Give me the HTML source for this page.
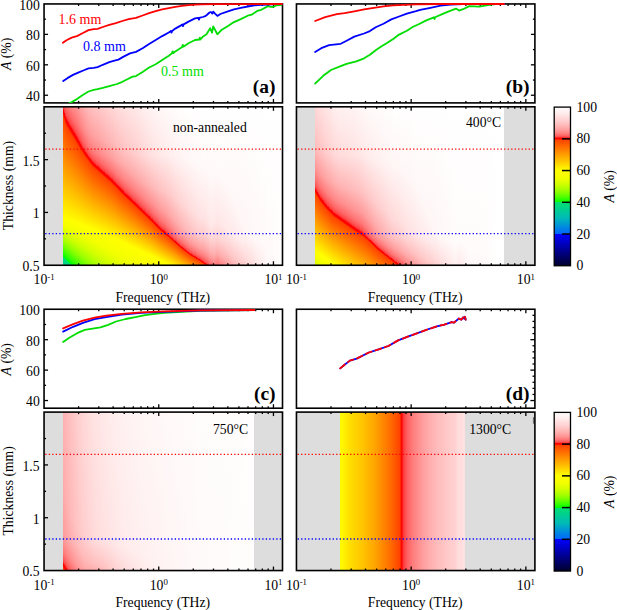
<!DOCTYPE html>
<html><head><meta charset="utf-8"><style>
html,body{margin:0;padding:0;background:#fff}
body{width:617px;height:610px;position:relative;overflow:hidden;font-family:"Liberation Serif",serif}
.h{position:absolute;background:#dddddd;overflow:hidden}
.h i{position:absolute;top:0;width:1px;height:100%}
svg{position:absolute;left:0;top:0}
text{font-family:"Liberation Serif",serif}
</style></head><body>
<div class="h" style="left:44px;top:106px;width:239px;height:160px">
<i style="left:19px;background:linear-gradient(#ff4646 0.5px,#f33 2.5px,#f22 3.5px,#f00 4.5px,#ff0200 7.5px,#f40 11.5px,#ff0 112.5px,#f1ff00 120.5px,#ceff00 128.5px,#95ff00 136.5px,#48ff00 144.5px,#0f0 150.5px,#00df72 151.5px,#00cf90 159.5px)"></i>
<i style="left:20px;background:linear-gradient(#ff5b5b 0.5px,#ff4343 4.5px,#ff2d2d 6.5px,#f00 7.5px,#f00 10.5px,#ff1c00 12.5px,#ff3e00 14.5px,#ff4700 16.5px,#ff0 112.5px,#f2ff00 120.5px,#d1ff00 128.5px,#9cff00 136.5px,#52ff00 144.5px,#0f0 151.5px,#00df72 152.5px,#00d18c 159.5px)"></i>
<i style="left:21px;background:linear-gradient(#ff6969 0.5px,#ff4e4e 6.5px,#ff3434 9.5px,#ff2323 10.5px,#f00 11.5px,#ff0300 14.5px,#ff3700 17.5px,#f40 18.5px,#ff0 113.5px,#f1ff00 121.5px,#cfff00 129.5px,#9aff00 137.5px,#50ff00 145.5px,#0f0 152.5px,#00df72 153.5px,#00d388 159.5px)"></i>
<i style="left:22px;background:linear-gradient(#ff7171 0.5px,#ff5151 8.5px,#ff3a3a 11.5px,#ff2c2c 12.5px,#f00 13.5px,#f00 16.5px,#ff1f00 18.5px,#ff4200 20.5px,#ff0 113.5px,#f2ff00 121.5px,#d3ff00 129.5px,#a0ff00 137.5px,#5aff00 145.5px,#0f0 153.5px,#00df72 154.5px,#00d584 159.5px)"></i>
<i style="left:23px;background:linear-gradient(#f77 0.5px,#ff5656 9.5px,#ff3939 13.5px,#ff2c2c 14.5px,#f00 15.5px,#f00 18.5px,#f40 22.5px,#ff0 113.5px,#f1ff00 122.5px,#cf0 131.5px,#8eff00 140.5px,#39ff00 149.5px,#0f0 154.5px,#00df72 155.5px,#00d780 159.5px)"></i>
<i style="left:24px;background:linear-gradient(#ff7b7b 0.5px,#ff5959 10.5px,#ff3e3e 14.5px,#f33 15.5px,#ff1e1e 16.5px,#f00 17.5px,#ff0400 20.5px,#ff3a00 23.5px,#ff4500 24.5px,#ff0 114.5px,#f0ff00 123.5px,#caff00 132.5px,#8dff00 141.5px,#39ff00 150.5px,#0f0 155.5px,#00df72 156.5px,#00d97c 159.5px)"></i>
<i style="left:25px;background:linear-gradient(#ff8080 0.5px,#ff5e5e 11.5px,#ff3e3e 16.5px,#f33 17.5px,#ff1e1e 18.5px,#f00 19.5px,#f00 21.5px,#ff0800 22.5px,#ff4000 25.5px,#ff4e00 30.5px,#ff0 114.5px,#f1ff00 123.5px,#cdff00 132.5px,#93ff00 141.5px,#42ff00 150.5px,#0f0 156.5px,#00df71 157.5px,#00db78 159.5px)"></i>
<i style="left:26px;background:linear-gradient(#ff8585 0.5px,#ff6262 12.5px,#ff4646 17.5px,#ff3131 19.5px,#f00 21.5px,#f00 23.5px,#f40 27.5px,#ff0 114.5px,#f3ff00 123.5px,#d1ff00 132.5px,#9f0 141.5px,#4bff00 150.5px,#0f0 157.5px,#00df71 158.5px,#00dd75 159.5px)"></i>
<i style="left:27px;background:linear-gradient(#f88 0.5px,#ff6767 12.5px,#ff4949 18.5px,#ff3535 20.5px,#ff2323 21.5px,#f00 22.5px,#ff0300 25.5px,#ff3c00 28.5px,#ff4500 29.5px,#ff0 115.5px,#f2ff00 124.5px,#cfff00 133.5px,#97ff00 142.5px,#4aff00 151.5px,#0f0 158.5px,#00df71 159.5px)"></i>
<i style="left:28px;background:linear-gradient(#ff8b8b 0.5px,#ff6a6a 13.5px,#ff4d4d 19.5px,#ff3030 22.5px,#f00 24.5px,#f00 26.5px,#ff0b00 27.5px,#f40 30.5px,#ff0 115.5px,#f3ff00 124.5px,#d2ff00 133.5px,#9dff00 142.5px,#53ff00 151.5px,#0f0 159.5px)"></i>
<i style="left:29px;background:linear-gradient(#ff8f8f 0.5px,#ff6d6d 14.5px,#ff4d4d 21.5px,#ff3030 24.5px,#f00 26.5px,#f00 28.5px,#ff3900 31.5px,#ff4500 32.5px,#ff0 115.5px,#f4ff00 124.5px,#d5ff00 133.5px,#a2ff00 142.5px,#5bff00 151.5px,#0bff00 159.5px)"></i>
<i style="left:30px;background:linear-gradient(#ff9191 0.5px,#ff6e6e 15.5px,#ff5050 22.5px,#ff3838 25.5px,#ff2828 26.5px,#f00 27.5px,#f00 29.5px,#ff0600 30.5px,#ff4200 33.5px,#ff0 116.5px,#f3ff00 125.5px,#d4ff00 134.5px,#a1ff00 143.5px,#5aff00 152.5px,#16ff00 159.5px)"></i>
<i style="left:31px;background:linear-gradient(#ff9494 0.5px,#ff7171 16.5px,#ff5454 23.5px,#ff3f3f 26.5px,#f33 27.5px,#ff1f1f 28.5px,#f00 29.5px,#f00 31.5px,#ff0c00 32.5px,#f40 35.5px,#ff0 116.5px,#f2ff00 126.5px,#cdff00 136.5px,#91ff00 146.5px,#3dff00 156.5px,#20ff00 159.5px)"></i>
<i style="left:32px;background:linear-gradient(#ff9797 0.5px,#ff7373 17.5px,#ff5252 25.5px,#ff3c3c 28.5px,#ff2f2f 29.5px,#ff0b0b 30.5px,#f00 31.5px,#f00 33.5px,#ff3a00 36.5px,#ff4500 37.5px,#ff0 117.5px,#f1ff00 127.5px,#cf0 137.5px,#90ff00 147.5px,#3dff00 157.5px,#29ff00 159.5px)"></i>
<i style="left:33px;background:linear-gradient(#ff9a9a 0.5px,#ff7575 18.5px,#ff5757 26.5px,#ff3939 30.5px,#ff2a2a 31.5px,#f00 32.5px,#ff0200 35.5px,#ff4000 38.5px,#ff5e00 49.5px,#ff0 117.5px,#f2ff00 127.5px,#cfff00 137.5px,#95ff00 147.5px,#45ff00 157.5px,#3f0 159.5px)"></i>
<i style="left:34px;background:linear-gradient(#ff9e9e 0.5px,#ff7979 19.5px,#ff5858 28.5px,#ff3b3b 32.5px,#ff2c2c 33.5px,#f00 34.5px,#f00 36.5px,#ff0700 37.5px,#f40 40.5px,#ff0 117.5px,#f3ff00 127.5px,#d2ff00 137.5px,#9aff00 147.5px,#4dff00 157.5px,#3bff00 159.5px)"></i>
<i style="left:35px;background:linear-gradient(#ffa1a1 0.5px,#ff7e7e 19.5px,#ff5b5b 29.5px,#ff4040 33.5px,#ff3535 34.5px,#ff2121 35.5px,#f00 36.5px,#f00 38.5px,#ff0c00 39.5px,#ff3700 41.5px,#ff4500 42.5px,#ff0 118.5px,#f2ff00 128.5px,#d0ff00 138.5px,#9f0 148.5px,#4cff00 158.5px,#4f0 159.5px)"></i>
<i style="left:36px;background:linear-gradient(#ffa5a5 0.5px,#ff8181 20.5px,#ff6060 30.5px,#ff4949 34.5px,#ff3434 36.5px,#ff1e1e 37.5px,#f00 38.5px,#f00 40.5px,#ff4000 43.5px,#ff5200 49.5px,#ff0 118.5px,#f3ff00 128.5px,#d3ff00 138.5px,#9eff00 148.5px,#54ff00 158.5px,#4cff00 159.5px)"></i>
<i style="left:37px;background:linear-gradient(#ffa8a8 0.5px,#ff8484 21.5px,#ff6060 32.5px,#ff4848 36.5px,#ff3232 38.5px,#ff1616 39.5px,#f00 40.5px,#f00 41.5px,#ff0700 42.5px,#f30 44.5px,#f40 45.5px,#ff0 118.5px,#f4ff00 128.5px,#d6ff00 138.5px,#a3ff00 148.5px,#5bff00 158.5px,#53ff00 159.5px)"></i>
<i style="left:38px;background:linear-gradient(#ffacac 0.5px,#f88 22.5px,#f66 33.5px,#ff4b4b 38.5px,#ff3737 40.5px,#f22 41.5px,#f00 42.5px,#f00 43.5px,#ff1000 44.5px,#ff3d00 46.5px,#ff4600 47.5px,#ff0 119.5px,#f1ff00 130.5px,#cf0 141.5px,#8eff00 152.5px,#5aff00 159.5px)"></i>
<i style="left:39px;background:linear-gradient(#ffafaf 0.5px,#ff8a8a 23.5px,#f66 35.5px,#ff4a4a 40.5px,#ff4040 41.5px,#ff2f2f 42.5px,#f00 43.5px,#ff0200 45.5px,#f40 48.5px,#ff0 119.5px,#f2ff00 130.5px,#ceff00 141.5px,#93ff00 152.5px,#61ff00 159.5px)"></i>
<i style="left:40px;background:linear-gradient(#ffb1b1 0.5px,#ff8d8d 24.5px,#ff6a6a 36.5px,#ff5050 41.5px,#ff3838 43.5px,#f00 45.5px,#f00 46.5px,#ff0b00 47.5px,#ff3a00 49.5px,#ff4500 50.5px,#ff0 120.5px,#f1ff00 131.5px,#cdff00 142.5px,#92ff00 153.5px,#68ff00 159.5px)"></i>
<i style="left:41px;background:linear-gradient(#ffb4b4 0.5px,#ff9292 24.5px,#ff6f6f 37.5px,#ff5757 42.5px,#ff4343 44.5px,#ff3434 45.5px,#f00 46.5px,#ff0100 48.5px,#f40 51.5px,#ff0 120.5px,#f2ff00 131.5px,#d0ff00 142.5px,#97ff00 153.5px,#6eff00 159.5px)"></i>
<i style="left:42px;background:linear-gradient(#ffb7b7 0.5px,#ff9494 25.5px,#ff7272 38.5px,#ff5f5f 42.5px,#ff4646 45.5px,#ff3838 46.5px,#f00 48.5px,#f00 49.5px,#ff0f00 50.5px,#ff3f00 52.5px,#ff4c00 55.5px,#ff0 120.5px,#f4ff00 131.5px,#d2ff00 142.5px,#9cff00 153.5px,#74ff00 159.5px)"></i>
<i style="left:43px;background:linear-gradient(#ffb9b9 0.5px,#ff9595 26.5px,#ff7171 40.5px,#ff5252 45.5px,#ff3c3c 47.5px,#ff2626 48.5px,#f00 49.5px,#ff0500 51.5px,#ff3600 53.5px,#ff4500 54.5px,#ff0 121.5px,#f3ff00 132.5px,#d1ff00 143.5px,#9aff00 154.5px,#7aff00 159.5px)"></i>
<i style="left:44px;background:linear-gradient(#ffbcbc 0.5px,#ff9898 27.5px,#ff7575 41.5px,#ff5858 46.5px,#ff4646 48.5px,#ff3737 49.5px,#f00 51.5px,#f00 52.5px,#f40 55.5px,#ff0 121.5px,#f4ff00 132.5px,#d4ff00 143.5px,#9fff00 154.5px,#80ff00 159.5px)"></i>
<i style="left:45px;background:linear-gradient(#ffbebe 0.5px,#ff9b9b 27.5px,#f77 42.5px,#ff5353 48.5px,#ff3d3d 50.5px,#ff2929 51.5px,#f00 52.5px,#f00 53.5px,#ff0a00 54.5px,#ff3c00 56.5px,#ff4600 57.5px,#ff0 121.5px,#f5ff00 132.5px,#d6ff00 143.5px,#a3ff00 154.5px,#85ff00 159.5px)"></i>
<i style="left:46px;background:linear-gradient(#ffbfbf 0.5px,#ff9c9c 28.5px,#ff7878 43.5px,#ff5656 49.5px,#ff4141 51.5px,#ff3131 52.5px,#f00 53.5px,#ff0100 55.5px,#ff3400 57.5px,#ff4500 58.5px,#ff0 122.5px,#f2ff00 134.5px,#cdff00 146.5px,#90ff00 158.5px,#8aff00 159.5px)"></i>
<i style="left:47px;background:linear-gradient(#ffc0c0 0.5px,#ff9e9e 28.5px,#ff7d7d 43.5px,#ff5f5f 49.5px,#ff4545 52.5px,#ff3737 53.5px,#ff1515 54.5px,#f00 55.5px,#f00 56.5px,#ff1200 57.5px,#f40 59.5px,#ff0 122.5px,#f3ff00 134.5px,#d0ff00 146.5px,#95ff00 158.5px,#8fff00 159.5px)"></i>
<i style="left:48px;background:linear-gradient(#ffc2c2 0.5px,#ff9f9f 29.5px,#ff7e7e 44.5px,#ff6161 50.5px,#ff4848 53.5px,#ff3b3b 54.5px,#ff2424 55.5px,#f00 56.5px,#f00 57.5px,#ff0b00 58.5px,#ff3f00 60.5px,#ff4c00 63.5px,#ff0 123.5px,#f2ff00 135.5px,#ceff00 147.5px,#94ff00 159.5px)"></i>
<i style="left:49px;background:linear-gradient(#ffc3c3 0.5px,#ffa1a1 29.5px,#ff7e7e 45.5px,#ff5959 52.5px,#ff4646 54.5px,#ff3939 55.5px,#f00 57.5px,#f00 58.5px,#ff0e00 59.5px,#ff4200 61.5px,#ff0 123.5px,#f3ff00 135.5px,#d1ff00 147.5px,#98ff00 159.5px)"></i>
<i style="left:50px;background:linear-gradient(#ffc4c4 0.5px,#ffa1a1 30.5px,#ff7f7f 46.5px,#ff5b5b 53.5px,#ff3c3c 56.5px,#ff2727 57.5px,#f00 58.5px,#f00 59.5px,#ff1000 60.5px,#f40 62.5px,#ff0 124.5px,#f2ff00 136.5px,#d0ff00 148.5px,#9dff00 159.5px)"></i>
<i style="left:51px;background:linear-gradient(#ffc5c5 0.5px,#ffa3a3 30.5px,#ff8181 46.5px,#ff5f5f 53.5px,#ff4545 56.5px,#ff3737 57.5px,#ff1717 58.5px,#f00 59.5px,#f00 60.5px,#ff1300 61.5px,#f40 63.5px,#ff0 124.5px,#f3ff00 136.5px,#d2ff00 148.5px,#a1ff00 159.5px)"></i>
<i style="left:52px;background:linear-gradient(#ffc6c6 0.5px,#ffa3a3 31.5px,#ff8282 47.5px,#ff6060 54.5px,#ff4848 57.5px,#ff3a3a 58.5px,#ff2323 59.5px,#f00 60.5px,#f00 61.5px,#ff3100 63.5px,#ff4500 64.5px,#ff0 124.5px,#f4ff00 136.5px,#d5ff00 148.5px,#a5ff00 159.5px)"></i>
<i style="left:53px;background:linear-gradient(#ffc6c6 0.5px,#ffa4a4 31.5px,#ff8484 47.5px,#ff6565 54.5px,#f44 58.5px,#ff3535 59.5px,#f00 60.5px,#f00 62.5px,#ff3400 64.5px,#ff4500 65.5px,#ff0 125.5px,#f4ff00 137.5px,#d4ff00 149.5px,#a9ff00 159.5px)"></i>
<i style="left:54px;background:linear-gradient(#ffc7c7 0.5px,#ffa4a4 32.5px,#ff8383 48.5px,#ff6363 55.5px,#ff4c4c 58.5px,#ff2f2f 60.5px,#f00 61.5px,#f00 63.5px,#ff3700 65.5px,#ff4600 66.5px,#ff0 125.5px,#f3ff00 138.5px,#cfff00 151.5px,#adff00 159.5px)"></i>
<i style="left:55px;background:linear-gradient(#ffc8c8 0.5px,#ffa6a6 32.5px,#ff8686 48.5px,#ff6262 56.5px,#ff4a4a 59.5px,#ff3e3e 60.5px,#ff2b2b 61.5px,#f00 62.5px,#ff0300 64.5px,#ff3a00 66.5px,#ff4600 67.5px,#ff0 126.5px,#f2ff00 139.5px,#ceff00 152.5px,#b0ff00 159.5px)"></i>
<i style="left:56px;background:linear-gradient(#ffcaca 0.5px,#ffa8a8 33.5px,#ff8787 49.5px,#ff6464 57.5px,#ff4343 61.5px,#f33 62.5px,#f00 63.5px,#f00 64.5px,#ff0600 65.5px,#ff3e00 67.5px,#ff4900 69.5px,#ff0 126.5px,#f3ff00 139.5px,#d0ff00 152.5px,#b4ff00 159.5px)"></i>
<i style="left:57px;background:linear-gradient(#ffcbcb 0.5px,#ffa9a9 33.5px,#ff8a8a 49.5px,#ff6969 57.5px,#ff4c4c 61.5px,#ff2f2f 63.5px,#f00 64.5px,#f00 65.5px,#ff0900 66.5px,#ff4100 68.5px,#ff0 127.5px,#f2ff00 140.5px,#cfff00 153.5px,#b7ff00 159.5px)"></i>
<i style="left:58px;background:linear-gradient(#fcc 0.5px,#ffabab 33.5px,#ff8d8d 49.5px,#ff6868 58.5px,#ff4a4a 62.5px,#ff3e3e 63.5px,#ff2a2a 64.5px,#f00 65.5px,#f00 66.5px,#ff0c00 67.5px,#f40 69.5px,#ff0 127.5px,#f3ff00 140.5px,#d1ff00 153.5px,#baff00 159.5px)"></i>
<i style="left:59px;background:linear-gradient(#ffcdcd 0.5px,#ffacac 34.5px,#ff8f8f 49.5px,#ff6c6c 58.5px,#ff5252 62.5px,#ff3a3a 64.5px,#ff2323 65.5px,#f00 66.5px,#f00 67.5px,#ff0f00 68.5px,#f40 70.5px,#ff0 128.5px,#f3ff00 141.5px,#d0ff00 154.5px,#bdff00 159.5px)"></i>
<i style="left:60px;background:linear-gradient(#ffcece 0.5px,#ffadad 34.5px,#ff9292 49.5px,#ff6b6b 59.5px,#ff4f4f 63.5px,#ff3636 65.5px,#ff1414 66.5px,#f00 67.5px,#f00 68.5px,#ff1200 69.5px,#ff2e00 70.5px,#ff4500 71.5px,#ff0 128.5px,#f4ff00 141.5px,#d3ff00 154.5px,#c0ff00 159.5px)"></i>
<i style="left:61px;background:linear-gradient(#ffd0d0 0.5px,#ffaeae 35.5px,#ff9292 50.5px,#ff6c6c 60.5px,#ff5252 64.5px,#ff3b3b 66.5px,#ff2525 67.5px,#f00 68.5px,#f00 69.5px,#ff1500 70.5px,#ff3200 71.5px,#ff4500 72.5px,#ff0 128.5px,#f4ff00 141.5px,#d5ff00 154.5px,#c3ff00 159.5px)"></i>
<i style="left:62px;background:linear-gradient(#ffd1d1 0.5px,#ffb0b0 35.5px,#ff9595 50.5px,#ff7070 60.5px,#ff5050 65.5px,#ff3737 67.5px,#ff1818 68.5px,#f00 69.5px,#f00 70.5px,#ff3500 72.5px,#ff4500 73.5px,#ff0 129.5px,#f2ff00 143.5px,#cdff00 157.5px,#c6ff00 159.5px)"></i>
<i style="left:63px;background:linear-gradient(#ffd1d1 0.5px,#ffb1b1 35.5px,#ff9797 50.5px,#ff6f6f 61.5px,#ff4e4e 66.5px,#f33 68.5px,#f00 69.5px,#f00 71.5px,#ff3800 73.5px,#ff4600 74.5px,#ff0 129.5px,#f3ff00 143.5px,#cfff00 157.5px,#c8ff00 159.5px)"></i>
<i style="left:64px;background:linear-gradient(#ffd2d2 0.5px,#ffb2b2 36.5px,#f99 50.5px,#ff7373 61.5px,#f55 66.5px,#ff4040 68.5px,#ff2d2d 69.5px,#f00 70.5px,#ff0100 72.5px,#ff3c00 74.5px,#ff4600 75.5px,#ff0 130.5px,#f2ff00 144.5px,#ceff00 158.5px,#cbff00 159.5px)"></i>
<i style="left:65px;background:linear-gradient(#ffd4d4 0.5px,#ffb4b4 36.5px,#ff9a9a 51.5px,#ff7474 62.5px,#ff5757 67.5px,#ff4343 69.5px,#f33 70.5px,#f00 71.5px,#ff0400 73.5px,#ff3f00 75.5px,#ff5100 79.5px,#ff0 130.5px,#f3ff00 144.5px,#d1ff00 158.5px,#cdff00 159.5px)"></i>
<i style="left:66px;background:linear-gradient(#ffd5d5 0.5px,#ffb5b5 36.5px,#ff9b9b 51.5px,#f77 62.5px,#ff5454 68.5px,#ff3e3e 70.5px,#ff2a2a 71.5px,#f00 72.5px,#f00 73.5px,#ff0700 74.5px,#ff4300 76.5px,#ff0 131.5px,#f3ff00 145.5px,#d0ff00 159.5px)"></i>
<i style="left:67px;background:linear-gradient(#ffd6d6 0.5px,#ffb6b6 37.5px,#ff9e9e 51.5px,#ff7878 63.5px,#f55 69.5px,#ff4040 71.5px,#ff2e2e 72.5px,#f00 73.5px,#f00 74.5px,#ff0a00 75.5px,#f40 77.5px,#ff0 131.5px,#f3ff00 145.5px,#d2ff00 159.5px)"></i>
<i style="left:68px;background:linear-gradient(#ffd6d6 0.5px,#ffb7b7 37.5px,#ffa0a0 51.5px,#ff7b7b 63.5px,#ff5a5a 69.5px,#ff3b3b 72.5px,#ff2323 73.5px,#f00 74.5px,#f00 75.5px,#ff0c00 76.5px,#f40 78.5px,#ff0 132.5px,#f3ff00 146.5px,#d4ff00 159.5px)"></i>
<i style="left:69px;background:linear-gradient(#ffd8d8 0.5px,#ffb8b8 38.5px,#ffa1a1 52.5px,#ff7c7c 64.5px,#ff5c5c 70.5px,#ff3f3f 73.5px,#ff2c2c 74.5px,#f00 75.5px,#f00 76.5px,#ff0a00 77.5px,#f40 79.5px,#ff0 132.5px,#f4ff00 146.5px,#d6ff00 159.5px)"></i>
<i style="left:70px;background:linear-gradient(#ffd9d9 0.5px,#ffbaba 38.5px,#ffa2a2 53.5px,#ff7979 66.5px,#ff5757 72.5px,#ff4343 74.5px,#f33 75.5px,#f00 76.5px,#f00 77.5px,#ff0800 78.5px,#f40 80.5px,#ff0 132.5px,#f5ff00 146.5px,#d8ff00 159.5px)"></i>
<i style="left:71px;background:linear-gradient(#ffdada 0.5px,#fbb 39.5px,#ffa4a4 53.5px,#ff7c7c 66.5px,#ff5d5d 72.5px,#ff4040 75.5px,#ff2e2e 76.5px,#f00 77.5px,#f00 78.5px,#ff0600 79.5px,#f40 81.5px,#ff0 133.5px,#f2ff00 148.5px,#daff00 159.5px)"></i>
<i style="left:72px;background:linear-gradient(#ffdbdb 0.5px,#ffbdbd 39.5px,#ffa5a5 54.5px,#ff7e7e 67.5px,#ff6060 73.5px,#ff4545 76.5px,#ff3636 77.5px,#ff0c0c 78.5px,#f00 79.5px,#ff0400 80.5px,#f40 82.5px,#ff0 133.5px,#f3ff00 148.5px,#dcff00 159.5px)"></i>
<i style="left:73px;background:linear-gradient(#ffdcdc 0.5px,#ffbdbd 40.5px,#ffa7a7 54.5px,#ff7e7e 68.5px,#ff5f5f 74.5px,#ff4343 77.5px,#f33 78.5px,#f00 79.5px,#ff0200 81.5px,#ff4300 83.5px,#ff0 134.5px,#f3ff00 149.5px,#df0 159.5px)"></i>
<i style="left:74px;background:linear-gradient(#fdd 0.5px,#ffbfbf 40.5px,#ffa9a9 54.5px,#ff8181 68.5px,#ff5e5e 75.5px,#ff4242 78.5px,#ff3030 79.5px,#f00 80.5px,#f00 82.5px,#ff4200 84.5px,#ff0 134.5px,#f3ff00 149.5px,#dfff00 159.5px)"></i>
<i style="left:75px;background:linear-gradient(#ffdede 0.5px,#ffc0c0 40.5px,#ffa9a9 55.5px,#ff8181 69.5px,#ff5e5e 76.5px,#ff4343 79.5px,#ff3232 80.5px,#f00 81.5px,#f00 83.5px,#ff4000 85.5px,#ffdc00 125.5px,#ff0 135.5px,#f3ff00 150.5px,#e1ff00 159.5px)"></i>
<i style="left:76px;background:linear-gradient(#ffdfdf 0.5px,#ffc1c1 41.5px,#ffabab 55.5px,#ff8282 70.5px,#ff5f5f 77.5px,#ff4343 80.5px,#f33 81.5px,#f00 82.5px,#f00 84.5px,#ff3f00 86.5px,#ff4f00 89.5px,#ff0 135.5px,#f4ff00 150.5px,#e2ff00 159.5px)"></i>
<i style="left:77px;background:linear-gradient(#ffdfdf 0.5px,#ffc2c2 41.5px,#ffabab 56.5px,#ff8282 71.5px,#ff5f5f 78.5px,#f44 81.5px,#ff3535 82.5px,#f00 83.5px,#f00 85.5px,#ff1c00 86.5px,#ff3e00 87.5px,#ff4b00 89.5px,#fffe00 135.5px,#f4ff00 150.5px,#e4ff00 159.5px)"></i>
<i style="left:78px;background:linear-gradient(#ffe0e0 0.5px,#ffc3c3 42.5px,#ffabab 57.5px,#ff8282 72.5px,#ff5f5f 79.5px,#f44 82.5px,#ff3535 83.5px,#f00 84.5px,#f00 86.5px,#ff3f00 88.5px,#ff4f00 91.5px,#ff0 136.5px,#f4ff00 151.5px,#e5ff00 159.5px)"></i>
<i style="left:79px;background:linear-gradient(#ffe1e1 0.5px,#ffc4c4 42.5px,#ffadad 57.5px,#ff8585 72.5px,#ff6565 79.5px,#ff4e4e 82.5px,#f33 84.5px,#f00 85.5px,#f00 87.5px,#ff4100 89.5px,#fffe00 136.5px,#f3ff00 152.5px,#e7ff00 159.5px)"></i>
<i style="left:80px;background:linear-gradient(#ffe2e2 0.5px,#ffc5c5 43.5px,#ffacac 59.5px,#ff8383 74.5px,#ff6161 81.5px,#ff4848 84.5px,#ff3b3b 85.5px,#f22 86.5px,#f00 87.5px,#f00 88.5px,#ff4300 90.5px,#ff0 137.5px,#f3ff00 153.5px,#e8ff00 159.5px)"></i>
<i style="left:81px;background:linear-gradient(#ffe2e2 0.5px,#ffc6c6 43.5px,#ffadad 59.5px,#ff8686 74.5px,#ff6060 82.5px,#ff4646 85.5px,#ff3838 86.5px,#f00 88.5px,#f00 89.5px,#f40 91.5px,#ff0 137.5px,#f3ff00 153.5px,#e9ff00 159.5px)"></i>
<i style="left:82px;background:linear-gradient(#ffe3e3 0.5px,#ffc7c7 43.5px,#ffadad 60.5px,#ff8585 75.5px,#ff5f5f 83.5px,#ff4545 86.5px,#ff3636 87.5px,#ff0d0d 88.5px,#f00 89.5px,#ff0100 90.5px,#f40 92.5px,#ff0 138.5px,#f3ff00 154.5px,#eaff00 159.5px)"></i>
<i style="left:83px;background:linear-gradient(#ffe4e4 0.5px,#ffc7c7 44.5px,#ffa8a8 63.5px,#ff8181 77.5px,#ff5f5f 84.5px,#f44 87.5px,#ff3434 88.5px,#f00 89.5px,#ff0200 91.5px,#ff4500 93.5px,#ff0 138.5px,#f4ff00 154.5px,#ecff00 159.5px)"></i>
<i style="left:84px;background:linear-gradient(#ffe4e4 0.5px,#ffc9c9 44.5px,#faa 63.5px,#ff8181 78.5px,#ff5e5e 85.5px,#ff4242 88.5px,#ff3131 89.5px,#f00 90.5px,#ff0400 92.5px,#ff2800 93.5px,#ff4500 94.5px,#ff0 139.5px,#f3ff00 155.5px,#edff00 159.5px)"></i>
<i style="left:85px;background:linear-gradient(#ffe5e5 0.5px,#ffc9c9 44.5px,#faa 64.5px,#ff8383 78.5px,#ff6363 85.5px,#ff4b4b 88.5px,#ff3f3f 89.5px,#ff2c2c 90.5px,#f00 91.5px,#ff0600 93.5px,#ff2a00 94.5px,#ff4500 95.5px,#ff0 139.5px,#f4ff00 155.5px,#ef0 159.5px)"></i>
<i style="left:86px;background:linear-gradient(#ffe5e5 0.5px,#ffcaca 45.5px,#ffa8a8 66.5px,#ff8080 80.5px,#ff5d5d 87.5px,#ff4141 90.5px,#ff2f2f 91.5px,#f00 92.5px,#f00 93.5px,#ff0700 94.5px,#ff2d00 95.5px,#ff4500 96.5px,#ff0 140.5px,#f3ff00 156.5px,#efff00 159.5px)"></i>
<i style="left:87px;background:linear-gradient(#ffe6e6 0.5px,#ffcbcb 45.5px,#faa 66.5px,#ff8484 80.5px,#ff6464 87.5px,#ff4d4d 90.5px,#ff3030 92.5px,#f00 93.5px,#f00 94.5px,#ff0900 95.5px,#ff2f00 96.5px,#ff4600 97.5px,#ff0 140.5px,#f4ff00 156.5px,#f0ff00 159.5px)"></i>
<i style="left:88px;background:linear-gradient(#ffe7e7 0.5px,#ffcbcb 46.5px,#faa 67.5px,#ff8181 82.5px,#ff5e5e 89.5px,#ff4242 92.5px,#ff3131 93.5px,#f00 94.5px,#f00 95.5px,#ff0b00 96.5px,#ff3100 97.5px,#ff4600 98.5px,#ff0 141.5px,#f2ff00 158.5px,#f1ff00 159.5px)"></i>
<i style="left:89px;background:linear-gradient(#ffe7e7 0.5px,#ffcdcd 46.5px,#ffacac 67.5px,#ff8484 82.5px,#ff6464 89.5px,#ff4d4d 92.5px,#ff3131 94.5px,#f00 95.5px,#f00 96.5px,#ff0d00 97.5px,#f30 98.5px,#ff4600 99.5px,#ff0 141.5px,#f3ff00 158.5px,#f2ff00 159.5px)"></i>
<i style="left:90px;background:linear-gradient(#ffe8e8 0.5px,#ffcdcd 47.5px,#faa 69.5px,#ff8181 84.5px,#ff5e5e 91.5px,#ff4242 94.5px,#ff3232 95.5px,#f00 96.5px,#f00 97.5px,#ff0f00 98.5px,#ff3600 99.5px,#ff4700 100.5px,#fffe00 141.5px,#f4ff00 158.5px,#f2ff00 159.5px)"></i>
<i style="left:91px;background:linear-gradient(#ffe8e8 0.5px,#ffcece 47.5px,#ffabab 69.5px,#ff8383 84.5px,#ff6262 91.5px,#ff4949 94.5px,#ff3b3b 95.5px,#ff2323 96.5px,#f00 97.5px,#f00 98.5px,#f10 99.5px,#ff3800 100.5px,#ff4700 101.5px,#ff0 142.5px,#f3ff00 159.5px)"></i>
<i style="left:92px;background:linear-gradient(#ffe9e9 0.5px,#ffcfcf 47.5px,#ffaeae 69.5px,#f88 84.5px,#ff6464 92.5px,#ff4c4c 95.5px,#ff4040 96.5px,#ff2e2e 97.5px,#f00 98.5px,#f00 99.5px,#ff1200 100.5px,#ff3a00 101.5px,#ff4700 102.5px,#fffe00 142.5px,#f4ff00 159.5px)"></i>
<i style="left:93px;background:linear-gradient(#ffeaea 0.5px,#ffcfcf 48.5px,#ffa9a9 72.5px,#ff8383 86.5px,#ff6161 93.5px,#ff4848 96.5px,#ff3a3a 97.5px,#f00 99.5px,#f00 100.5px,#ff1400 101.5px,#ff3c00 102.5px,#ff4800 103.5px,#ff0 143.5px,#f5ff00 159.5px)"></i>
<i style="left:94px;background:linear-gradient(#ffeaea 0.5px,#ffd1d1 48.5px,#ffacac 72.5px,#ff8383 87.5px,#ff6262 94.5px,#ff4949 97.5px,#ff3c3c 98.5px,#ff2424 99.5px,#f00 100.5px,#f00 101.5px,#ff1600 102.5px,#ff3f00 103.5px,#ff5100 106.5px,#fffe00 143.5px,#f5ff00 159.5px)"></i>
<i style="left:95px;background:linear-gradient(#ffebeb 0.5px,#ffd2d2 48.5px,#ffacac 73.5px,#ff8484 88.5px,#ff6363 95.5px,#ff4a4a 98.5px,#ff3d3d 99.5px,#ff2828 100.5px,#f00 101.5px,#f00 102.5px,#ff1800 103.5px,#ff4100 104.5px,#ff0 144.5px,#f6ff00 159.5px)"></i>
<i style="left:96px;background:linear-gradient(#ffecec 0.5px,#ffd3d3 49.5px,#faa 75.5px,#ff8484 89.5px,#ff6363 96.5px,#ff4c4c 99.5px,#ff3f3f 100.5px,#ff2c2c 101.5px,#f00 102.5px,#f00 103.5px,#ff1a00 104.5px,#f40 105.5px,#ff0 144.5px,#f7ff00 159.5px)"></i>
<i style="left:97px;background:linear-gradient(#ffeded 0.5px,#ffd4d4 49.5px,#ffabab 75.5px,#ff8383 90.5px,#ff6161 97.5px,#ff4747 100.5px,#ff3939 101.5px,#f00 103.5px,#f00 104.5px,#ff1c00 105.5px,#f40 106.5px,#ff0 145.5px,#f7ff00 159.5px)"></i>
<i style="left:98px;background:linear-gradient(#ffeded 0.5px,#ffd5d5 49.5px,#ffacac 76.5px,#ff8383 91.5px,#ff6262 98.5px,#ff4949 101.5px,#ff3b3b 102.5px,#f22 103.5px,#f00 104.5px,#f00 105.5px,#ff1e00 106.5px,#f40 107.5px,#ff0 145.5px,#f8ff00 159.5px)"></i>
<i style="left:99px;background:linear-gradient(#fee 0.5px,#ffd7d7 49.5px,#ffacac 77.5px,#ff8484 92.5px,#ff6363 99.5px,#ff4b4b 102.5px,#ff3e3e 103.5px,#ff2828 104.5px,#f00 105.5px,#f00 106.5px,#ff4500 108.5px,#ff0 146.5px,#f8ff00 159.5px)"></i>
<i style="left:100px;background:linear-gradient(#ffefef 0.5px,#ffd8d8 49.5px,#ffaeae 77.5px,#ff8787 92.5px,#ff6161 100.5px,#ff4747 103.5px,#ff3838 104.5px,#ff1717 105.5px,#f00 106.5px,#f00 107.5px,#ff4500 109.5px,#ff0 146.5px,#f9ff00 159.5px)"></i>
<i style="left:101px;background:linear-gradient(#ffefef 0.5px,#ffd9d9 49.5px,#ffb0b0 77.5px,#f88 93.5px,#ff6262 101.5px,#ff4949 104.5px,#ff3b3b 105.5px,#f22 106.5px,#f00 107.5px,#f00 108.5px,#ff4500 110.5px,#ff0 147.5px,#f9ff00 159.5px)"></i>
<i style="left:102px;background:linear-gradient(#fff0f0 0.5px,#ffdbdb 49.5px,#ffb1b1 78.5px,#ff8989 94.5px,#ff6464 102.5px,#ff4b4b 105.5px,#ff3e3e 106.5px,#ff2929 107.5px,#f00 108.5px,#f00 109.5px,#ff2700 110.5px,#ff4600 111.5px,#ff0 147.5px,#faff00 159.5px)"></i>
<i style="left:103px;background:linear-gradient(#fff1f1 0.5px,#ffdbdb 49.5px,#ffb2b2 78.5px,#ff8b8b 94.5px,#ff6868 102.5px,#ff4747 106.5px,#ff3939 107.5px,#ff1818 108.5px,#f00 109.5px,#f00 110.5px,#ff2900 111.5px,#ff4600 112.5px,#fffd00 147.5px,#faff00 159.5px)"></i>
<i style="left:104px;background:linear-gradient(#fff2f2 0.5px,#fdd 49.5px,#ffb3b3 79.5px,#ff8c8c 95.5px,#ff6969 103.5px,#ff4a4a 107.5px,#ff3c3c 108.5px,#ff2323 109.5px,#f00 110.5px,#f00 111.5px,#ff2b00 112.5px,#ff4600 113.5px,#ff0 148.5px,#fbff00 159.5px)"></i>
<i style="left:105px;background:linear-gradient(#fff2f2 0.5px,#ffdede 49.5px,#ffb4b4 79.5px,#ff8e8e 95.5px,#ff6d6d 103.5px,#ff5151 107.5px,#ff3636 109.5px,#f00 110.5px,#f00 112.5px,#ff2e00 113.5px,#ff4700 114.5px,#fffe00 148.5px,#fbff00 159.5px)"></i>
<i style="left:106px;background:linear-gradient(#fff3f3 0.5px,#ffdfdf 49.5px,#ffb5b5 80.5px,#ff8f8f 96.5px,#ff6969 105.5px,#ff4848 109.5px,#ff3939 110.5px,#ff1a1a 111.5px,#f00 112.5px,#f00 113.5px,#ff2f00 114.5px,#ff4700 115.5px,#ff0 149.5px,#fcff00 159.5px)"></i>
<i style="left:107px;background:linear-gradient(#fff3f3 0.5px,#ffe0e0 49.5px,#ffb7b7 80.5px,#ff9090 97.5px,#ff6a6a 106.5px,#ff4b4b 110.5px,#ff3e3e 111.5px,#ff2626 112.5px,#f00 113.5px,#f00 114.5px,#ff2e00 115.5px,#ff4700 116.5px,#fffe00 149.5px,#fcff00 159.5px)"></i>
<i style="left:108px;background:linear-gradient(#fff4f4 0.5px,#ffe1e1 49.5px,#ffb9b9 80.5px,#ff9292 97.5px,#ff6f6f 106.5px,#ff5252 110.5px,#ff3939 112.5px,#ff1414 113.5px,#f00 114.5px,#f00 115.5px,#ff2d00 116.5px,#ff4700 117.5px,#ff0 150.5px,#fcff00 159.5px)"></i>
<i style="left:109px;background:linear-gradient(#fff4f4 0.5px,#ffe2e2 49.5px,#ffb9b9 81.5px,#ff9393 98.5px,#ff7070 107.5px,#f55 111.5px,#ff3d3d 113.5px,#ff2424 114.5px,#f00 115.5px,#f00 116.5px,#ff2d00 117.5px,#ff4700 118.5px,#fffe00 150.5px,#fdff00 159.5px)"></i>
<i style="left:110px;background:linear-gradient(#fff5f5 0.5px,#ffe3e3 49.5px,#ffbaba 82.5px,#ff9494 99.5px,#ff7272 108.5px,#ff5757 112.5px,#ff4141 114.5px,#ff2d2d 115.5px,#f00 116.5px,#f00 117.5px,#ff2c00 118.5px,#ff4700 119.5px,#ff0 151.5px,#fdff00 159.5px)"></i>
<i style="left:111px;background:linear-gradient(#fff5f5 0.5px,#ffe4e4 49.5px,#fbb 82.5px,#ff9494 100.5px,#ff7070 109.5px,#f55 113.5px,#ff3d3d 115.5px,#ff2323 116.5px,#f00 117.5px,#f00 118.5px,#ff2b00 119.5px,#ff4700 120.5px,#fffe00 151.5px,#fdff00 159.5px)"></i>
<i style="left:112px;background:linear-gradient(#fff6f6 0.5px,#ffe5e5 49.5px,#ffbdbd 82.5px,#ff9898 100.5px,#ff7272 110.5px,#ff5757 114.5px,#ff4141 116.5px,#ff2c2c 117.5px,#f00 118.5px,#f00 119.5px,#ff2b00 120.5px,#ff4700 121.5px,#ff0 152.5px,#fdff00 159.5px)"></i>
<i style="left:113px;background:linear-gradient(#fff6f6 0.5px,#ffe5e5 49.5px,#ffbdbd 83.5px,#ff9797 101.5px,#ff7171 111.5px,#f55 115.5px,#ff3c3c 117.5px,#f00 119.5px,#f00 120.5px,#ff2a00 121.5px,#ff4700 122.5px,#fffd00 152.5px,#feff00 159.5px)"></i>
<i style="left:114px;background:linear-gradient(#fff7f7 0.5px,#ffe6e6 49.5px,#ffbfbf 83.5px,#ff9898 102.5px,#ff7272 112.5px,#ff5757 116.5px,#ff4040 118.5px,#ff2a2a 119.5px,#f00 120.5px,#f00 121.5px,#ff2900 122.5px,#ff4700 123.5px,#ff0 153.5px,#feff00 159.5px)"></i>
<i style="left:115px;background:linear-gradient(#fff7f7 0.5px,#ffe7e7 49.5px,#ffc0c0 84.5px,#f99 103.5px,#ff7474 113.5px,#ff5a5a 117.5px,#f44 119.5px,#ff3232 120.5px,#f00 121.5px,#f00 122.5px,#ff2800 123.5px,#ff4700 124.5px,#fffd00 153.5px,#feff00 159.5px)"></i>
<i style="left:116px;background:linear-gradient(#fff7f7 0.5px,#ffe8e8 49.5px,#ffc1c1 84.5px,#ff9b9b 103.5px,#ff7878 113.5px,#ff5757 118.5px,#ff4040 120.5px,#ff2929 121.5px,#f00 122.5px,#f00 123.5px,#ff2700 124.5px,#ff4700 125.5px,#ff0 154.5px,#feff00 159.5px)"></i>
<i style="left:117px;background:linear-gradient(#fff8f8 0.5px,#ffe9e9 49.5px,#ffc1c1 85.5px,#ff9c9c 104.5px,#ff7878 114.5px,#ff5858 119.5px,#ff4141 121.5px,#ff2c2c 122.5px,#f00 123.5px,#f00 124.5px,#ff3000 125.5px,#ff4800 126.5px,#fffd00 154.5px,#feff00 159.5px)"></i>
<i style="left:118px;background:linear-gradient(#fff8f8 0.5px,#ffe9e9 49.5px,#ffc3c3 85.5px,#ff9c9c 105.5px,#ff7979 115.5px,#ff5959 120.5px,#ff4141 122.5px,#ff2c2c 123.5px,#f00 124.5px,#ff0200 125.5px,#ff3b00 126.5px,#ff4900 127.5px,#ff0 155.5px,#feff00 159.5px)"></i>
<i style="left:119px;background:linear-gradient(#fff8f8 0.5px,#ffeaea 48.5px,#ffc4c4 85.5px,#ff9d9d 105.5px,#ff7b7b 115.5px,#ff5c5c 120.5px,#ff4747 122.5px,#ff3636 123.5px,#f00 124.5px,#f00 125.5px,#ff0c00 126.5px,#f40 127.5px,#fffd00 155.5px,#ff0 159.5px)"></i>
<i style="left:120px;background:linear-gradient(#fff9f9 0.5px,#ffebeb 48.5px,#ffc5c5 85.5px,#ffa0a0 105.5px,#ff7a7a 116.5px,#ff5b5b 121.5px,#ff4646 123.5px,#ff3434 124.5px,#f00 125.5px,#f00 126.5px,#ff1700 127.5px,#ff4500 128.5px,#ff0 156.5px,#ff0 159.5px)"></i>
<i style="left:121px;background:linear-gradient(#fff9f9 0.5px,#ffecec 48.5px,#ffc5c5 86.5px,#ffa0a0 106.5px,#ff7a7a 117.5px,#ff5b5b 122.5px,#ff4545 124.5px,#ff3232 125.5px,#f00 126.5px,#f00 127.5px,#ff4700 129.5px,#fffd00 156.5px,#ff0 159.5px)"></i>
<i style="left:122px;background:linear-gradient(#fff9f9 0.5px,#ffecec 49.5px,#ffc6c6 87.5px,#ffa1a1 107.5px,#ff7d7d 118.5px,#ff5f5f 123.5px,#ff4b4b 125.5px,#ff3c3c 126.5px,#ff1a1a 127.5px,#f00 128.5px,#ff2d00 129.5px,#ff4800 130.5px,#ff0 157.5px,#ff0 159.5px)"></i>
<i style="left:123px;background:linear-gradient(#fffafa 0.5px,#ffecec 49.5px,#ffc8c8 87.5px,#ffa1a1 108.5px,#ff7d7d 119.5px,#ff5e5e 124.5px,#ff4a4a 126.5px,#ff3a3a 127.5px,#f00 128.5px,#f00 129.5px,#ff3900 130.5px,#ff4900 131.5px,#fffd00 157.5px,#ff0 159.5px)"></i>
<i style="left:124px;background:linear-gradient(#fffafa 0.5px,#ffeded 49.5px,#ffc8c8 88.5px,#ffa2a2 109.5px,#ff7c7c 120.5px,#ff5e5e 125.5px,#ff4949 127.5px,#ff3232 128.5px,#f00 129.5px,#ff0800 130.5px,#f40 131.5px,#ff0 158.5px,#ff0 159.5px)"></i>
<i style="left:125px;background:linear-gradient(#fffafa 0.5px,#fee 49.5px,#ffcaca 88.5px,#ffa6a6 109.5px,#ff8484 120.5px,#ff6262 126.5px,#ff4e4e 128.5px,#ff3838 129.5px,#f00 130.5px,#ff1300 131.5px,#ff4500 132.5px,#fffd00 158.5px,#ff0 159.5px)"></i>
<i style="left:126px;background:linear-gradient(#fffbfb 0.5px,#ffefef 49.5px,#ffcaca 89.5px,#ffa6a6 110.5px,#ff8484 121.5px,#ff6363 127.5px,#ff4949 129.5px,#ff3030 130.5px,#f00 131.5px,#ff1c00 132.5px,#ff4600 133.5px,#ff0 159.5px)"></i>
<i style="left:127px;background:linear-gradient(#fffbfb 0.5px,#ffefef 49.5px,#fcc 89.5px,#ffa7a7 111.5px,#ff8585 122.5px,#ff6b6b 127.5px,#ff5656 129.5px,#ff4646 130.5px,#ff2727 131.5px,#f00 132.5px,#ff4700 134.5px,#fffd00 159.5px)"></i>
<i style="left:128px;background:linear-gradient(#fffbfb 0.5px,#ffefef 50.5px,#ffcbcb 91.5px,#ffa8a8 112.5px,#ff8686 123.5px,#ff6a6a 128.5px,#ff5353 130.5px,#ff4141 131.5px,#ff1414 132.5px,#f00 133.5px,#ff2900 134.5px,#ff4800 135.5px,#fff900 159.5px)"></i>
<i style="left:129px;background:linear-gradient(#fffbfb 0.5px,#fff0f0 50.5px,#ffcece 91.5px,#faa 113.5px,#ff8585 125.5px,#ff6d6d 129.5px,#ff5858 131.5px,#ff4848 132.5px,#ff2d2d 133.5px,#f00 134.5px,#ff2f00 135.5px,#ff4900 136.5px,#fff600 159.5px)"></i>
<i style="left:130px;background:linear-gradient(#fffcfc 0.5px,#fff1f1 50.5px,#ffcece 92.5px,#ffabab 114.5px,#ff8686 126.5px,#ff6b6b 130.5px,#f55 132.5px,#f44 133.5px,#f00 135.5px,#ff3600 136.5px,#ff4a00 137.5px,#fff200 159.5px)"></i>
<i style="left:131px;background:linear-gradient(#fffcfc 0.5px,#fff2f2 50.5px,#ffd0d0 92.5px,#ffaeae 114.5px,#ff8b8b 126.5px,#ff7272 130.5px,#ff5252 133.5px,#ff3f3f 134.5px,#f00 135.5px,#f00 136.5px,#ff3d00 137.5px,#ff5300 139.5px,#fe0 159.5px)"></i>
<i style="left:132px;background:linear-gradient(#fffcfc 0.5px,#fff2f2 50.5px,#ffd0d0 93.5px,#ffaeae 115.5px,#ff8b8b 127.5px,#ff6767 132.5px,#ff4e4e 134.5px,#ff3939 135.5px,#f00 136.5px,#f00 137.5px,#f40 138.5px,#ffe900 159.5px)"></i>
<i style="left:133px;background:linear-gradient(#fffcfc 0.5px,#fff2f2 51.5px,#ffd1d1 94.5px,#ffb0b0 116.5px,#ff9292 127.5px,#ff7373 132.5px,#ff5353 135.5px,#ff4040 136.5px,#f00 137.5px,#ff0700 138.5px,#ff4500 139.5px,#ffe500 159.5px)"></i>
<i style="left:134px;background:linear-gradient(#fffdfd 0.5px,#fff3f3 51.5px,#ffd2d2 95.5px,#ffb0b0 117.5px,#ff9191 128.5px,#ff7171 133.5px,#ff4f4f 136.5px,#ff3939 137.5px,#f00 138.5px,#ff0d00 139.5px,#ff4600 140.5px,#ffe000 159.5px)"></i>
<i style="left:135px;background:linear-gradient(#fffdfd 0.5px,#fff3f3 51.5px,#ffd3d3 95.5px,#ffb1b1 118.5px,#ff9595 128.5px,#ff6f6f 134.5px,#ff5a5a 136.5px,#ff4a4a 137.5px,#ff3131 138.5px,#f00 139.5px,#ff1400 140.5px,#ff4700 141.5px,#ffdc00 159.5px)"></i>
<i style="left:136px;background:linear-gradient(#fffdfd 0.5px,#fff4f4 52.5px,#ffd3d3 97.5px,#ffb3b3 119.5px,#ff9b9b 128.5px,#ff7878 134.5px,#ff5c5c 137.5px,#ff4e4e 138.5px,#ff3737 139.5px,#f00 140.5px,#ff4800 142.5px,#ffd700 159.5px)"></i>
<i style="left:137px;background:linear-gradient(#fffdfd 0.5px,#fff4f4 52.5px,#ffd4d4 97.5px,#ffb3b3 120.5px,#f99 129.5px,#ff7676 135.5px,#ff5757 138.5px,#ff4747 139.5px,#ff2828 140.5px,#f00 141.5px,#ff3100 142.5px,#ff4a00 143.5px,#ffd200 159.5px)"></i>
<i style="left:138px;background:linear-gradient(#fffdfd 0.5px,#fff4f4 52.5px,#ffd5d5 98.5px,#ffb3b3 121.5px,#ff9c9c 129.5px,#ff7a7a 135.5px,#ff5f5f 138.5px,#ff5151 139.5px,#ff3d3d 140.5px,#f00 141.5px,#f00 142.5px,#ff4100 143.5px,#ffcd00 159.5px)"></i>
<i style="left:139px;background:linear-gradient(#fffdfd 0.5px,#fff5f5 52.5px,#ffd6d6 98.5px,#ffb6b6 121.5px,#ffa1a1 129.5px,#ff7b7b 136.5px,#ff6060 139.5px,#ff4040 141.5px,#f00 142.5px,#ff0600 143.5px,#ff4500 144.5px,#ffc800 159.5px)"></i>
<i style="left:140px;background:linear-gradient(#fffdfd 0.5px,#fff5f5 52.5px,#ffd7d7 99.5px,#ffb7b7 122.5px,#ffa3a3 129.5px,#ff7f7f 136.5px,#ff5b5b 140.5px,#ff4b4b 141.5px,#ff3232 142.5px,#f00 143.5px,#ff1600 144.5px,#ff4700 145.5px,#ffc300 159.5px)"></i>
<i style="left:141px;background:linear-gradient(#fffefe 0.5px,#fff6f6 53.5px,#ffd7d7 100.5px,#ffb8b8 123.5px,#ffa4a4 130.5px,#ff8080 137.5px,#ff5c5c 141.5px,#ff4d4d 142.5px,#ff3535 143.5px,#f00 144.5px,#ff4900 146.5px,#ffbe00 159.5px)"></i>
<i style="left:142px;background:linear-gradient(#fffefe 0.5px,#fff6f6 53.5px,#ffd9d9 100.5px,#ffbaba 123.5px,#ffa6a6 130.5px,#ff8484 137.5px,#ff6363 141.5px,#f44 143.5px,#ff1c1c 144.5px,#f00 145.5px,#ff3600 146.5px,#ff4b00 147.5px,#ffb900 159.5px)"></i>
<i style="left:143px;background:linear-gradient(#fffefe 0.5px,#fff6f6 54.5px,#ffd9d9 102.5px,#ffb9b9 125.5px,#ff9f9f 133.5px,#ff7676 140.5px,#ff5757 143.5px,#ff4646 144.5px,#f00 146.5px,#f40 147.5px,#ffb300 159.5px)"></i>
<i style="left:144px;background:linear-gradient(#fffefe 0.5px,#fff6f6 54.5px,#ffdada 102.5px,#fbb 125.5px,#ff9d9d 134.5px,#ff7b7b 140.5px,#ff5e5e 143.5px,#ff5050 144.5px,#ff3b3b 145.5px,#f00 146.5px,#ff0800 147.5px,#ff4600 148.5px,#ffad00 159.5px)"></i>
<i style="left:145px;background:linear-gradient(#fffefe 0.5px,#fff7f7 54.5px,#ffdbdb 103.5px,#ffbdbd 126.5px,#f99 136.5px,#ff7373 142.5px,#ff5151 145.5px,#ff3b3b 146.5px,#f00 147.5px,#ff1900 148.5px,#ff4800 149.5px,#ffa700 159.5px)"></i>
<i style="left:146px;background:linear-gradient(#fffefe 0.5px,#fff7f7 55.5px,#ffdbdb 104.5px,#ffbdbd 127.5px,#ff9898 137.5px,#ff7272 143.5px,#ff5d5d 145.5px,#ff4d4d 146.5px,#ff3535 147.5px,#f00 148.5px,#ff3a00 149.5px,#ff4c00 150.5px,#ffa200 159.5px)"></i>
<i style="left:147px;background:linear-gradient(#fffefe 0.5px,#fff7f7 55.5px,#ffdcdc 104.5px,#ffbfbf 127.5px,#ff9595 138.5px,#ff7575 143.5px,#ff5252 146.5px,#ff3e3e 147.5px,#f00 148.5px,#ff0900 149.5px,#ff4700 150.5px,#ff9d00 159.5px)"></i>
<i style="left:148px;background:linear-gradient(#fffefe 0.5px,#fff8f8 55.5px,#fdd 105.5px,#ffc2c2 127.5px,#f99 138.5px,#ff7373 144.5px,#ff5e5e 146.5px,#ff4f4f 147.5px,#ff3737 148.5px,#f00 149.5px,#ff2a00 150.5px,#ff4a00 151.5px,#ff9800 159.5px)"></i>
<i style="left:149px;background:linear-gradient(#fffefe 0.5px,#fff8f8 56.5px,#ffdede 106.5px,#ffc4c4 127.5px,#ff9e9e 138.5px,#ff7a7a 144.5px,#ff5c5c 147.5px,#ff4b4b 148.5px,#ff2f2f 149.5px,#f00 150.5px,#ff4500 151.5px,#ff9200 159.5px)"></i>
<i style="left:150px;background:linear-gradient(#fff 0.5px,#fff8f8 56.5px,#ffdfdf 106.5px,#ffc5c5 127.5px,#ff9f9f 138.5px,#ff7c7c 144.5px,#ff5f5f 147.5px,#ff5050 148.5px,#ff3939 149.5px,#f00 150.5px,#ff1a00 151.5px,#ff4900 152.5px,#ff8d00 159.5px)"></i>
<i style="left:151px;background:linear-gradient(#fff 0.5px,#fff9f9 56.5px,#ffdfdf 107.5px,#ffc7c7 127.5px,#ff9d9d 139.5px,#ff7979 145.5px,#ff5959 148.5px,#ff4747 149.5px,#ff1f1f 150.5px,#f00 151.5px,#ff3c00 152.5px,#ff4d00 153.5px,#ff8700 159.5px)"></i>
<i style="left:152px;background:linear-gradient(#fff 0.5px,#fff9f9 57.5px,#ffe0e0 107.5px,#ffc7c7 128.5px,#ffa1a1 139.5px,#ff7f7f 145.5px,#ff6363 148.5px,#f55 149.5px,#ff4141 150.5px,#f00 151.5px,#ff0a00 152.5px,#ff4700 153.5px,#ff8200 159.5px)"></i>
<i style="left:153px;background:linear-gradient(#fff 0.5px,#fff9f9 58.5px,#ffe1e1 108.5px,#ffc9c9 128.5px,#ffa0a0 140.5px,#ff7d7d 146.5px,#ff6060 149.5px,#ff5151 150.5px,#ff3a3a 151.5px,#f00 152.5px,#ff2c00 153.5px,#ff4b00 154.5px,#ff7c00 159.5px)"></i>
<i style="left:154px;background:linear-gradient(#fff 0.5px,#fff9f9 58.5px,#ffe1e1 109.5px,#ffc9c9 129.5px,#ff9f9f 141.5px,#ff7c7c 147.5px,#ff5d5d 150.5px,#ff4d4d 151.5px,#ff3030 152.5px,#f00 153.5px,#ff4500 154.5px,#f70 159.5px)"></i>
<i style="left:155px;background:linear-gradient(#fff 0.5px,#fff9f9 59.5px,#ffe2e2 109.5px,#ffc9c9 129.5px,#ffa1a1 141.5px,#ff7e7e 147.5px,#ff6060 150.5px,#ff5151 151.5px,#ff3a3a 152.5px,#f00 153.5px,#ff1900 154.5px,#ff4900 155.5px,#ff7100 159.5px)"></i>
<i style="left:156px;background:linear-gradient(#fff 0.5px,#fff9f9 59.5px,#ffe2e2 110.5px,#ffcbcb 129.5px,#ffa4a4 141.5px,#ff7c7c 148.5px,#ff5d5d 151.5px,#ff4d4d 152.5px,#ff3030 153.5px,#f00 154.5px,#ff3500 155.5px,#ff4c00 156.5px,#ff6a00 159.5px)"></i>
<i style="left:157px;background:linear-gradient(#fff 0.5px,#fffafa 59.5px,#ffe2e2 110.5px,#ffcbcb 129.5px,#ffa1a1 142.5px,#ff8080 148.5px,#ff6565 151.5px,#ff4646 153.5px,#ff1d1d 154.5px,#f00 155.5px,#ff4500 156.5px,#ff6400 159.5px)"></i>
<i style="left:158px;background:linear-gradient(#fff 0.5px,#fffafa 59.5px,#ffe3e3 110.5px,#fcc 129.5px,#ffa3a3 142.5px,#ff7d7d 149.5px,#ff6262 152.5px,#ff5454 153.5px,#ff4040 154.5px,#f00 155.5px,#ff1400 156.5px,#ff4900 157.5px,#ff5d00 159.5px)"></i>
<i style="left:159px;background:linear-gradient(#fff 0.5px,#fffafa 59.5px,#ffe3e3 110.5px,#fcc 129.5px,#ffa5a5 142.5px,#ff8181 149.5px,#ff6767 152.5px,#ff4b4b 154.5px,#ff2f2f 155.5px,#f00 156.5px,#ff3000 157.5px,#ff4c00 158.5px,#ff5600 159.5px)"></i>
<i style="left:160px;background:linear-gradient(#fff 0.5px,#fffafa 60.5px,#ffe3e3 111.5px,#ffcece 129.5px,#ffa5a5 143.5px,#ff8181 150.5px,#ff6767 153.5px,#ff4b4b 155.5px,#ff2e2e 156.5px,#f00 157.5px,#ff4500 158.5px,#ff4f00 159.5px)"></i>
<i style="left:161px;background:linear-gradient(#fff 0.5px,#fff9f9 61.5px,#ffe3e3 112.5px,#ffcdcd 130.5px,#ffa7a7 143.5px,#ff8484 150.5px,#ff6161 154.5px,#ff5454 155.5px,#ff3f3f 156.5px,#f00 157.5px,#ff0e00 158.5px,#ff4800 159.5px)"></i>
<i style="left:162px;background:linear-gradient(#fff 0.5px,#fff9f9 62.5px,#ffe4e4 113.5px,#ffd0d0 130.5px,#ffa8a8 144.5px,#ff8484 151.5px,#ff6161 155.5px,#ff5353 156.5px,#ff3d3d 157.5px,#f00 158.5px,#ff2800 159.5px)"></i>
<i style="left:163px;background:linear-gradient(#fff 0.5px,#fff9f9 63.5px,#ffe5e5 114.5px,#ffd3d3 129.5px,#ffaeae 143.5px,#ff8989 151.5px,#ff6868 155.5px,#ff4b4b 157.5px,#ff2e2e 158.5px,#f00 159.5px)"></i>
<i style="left:164px;background:linear-gradient(#fff 0.5px,#fff9f9 66.5px,#ffe5e5 116.5px,#ffd5d5 129.5px,#ffaeae 144.5px,#ff8989 152.5px,#ff6868 156.5px,#ff4b4b 158.5px,#ff2c2c 159.5px)"></i>
<i style="left:165px;background:linear-gradient(#fff 0.5px,#fff9f9 69.5px,#ffe6e6 118.5px,#ffd4d4 131.5px,#ffafaf 145.5px,#ff8a8a 153.5px,#ff6a6a 157.5px,#ff4d4d 159.5px)"></i>
<i style="left:166px;background:linear-gradient(#fff 0.5px,#fff8f8 71.5px,#ffe6e6 120.5px,#ffcece 135.5px,#ffa8a8 148.5px,#ff8383 155.5px,#ff6868 158.5px,#ff5b5b 159.5px)"></i>
<i style="left:167px;background:linear-gradient(#fff 0.5px,#fff9f9 71.5px,#ffe7e7 120.5px,#ffdada 131.5px,#ffb2b2 146.5px,#ff8d8d 154.5px,#ff6b6b 158.5px,#ff5e5e 159.5px)"></i>
<i style="left:168px;background:linear-gradient(#fff 0.5px,#fff9f9 68.5px,#ffe7e7 117.5px,#ffd6d6 131.5px,#ffb1b1 146.5px,#ff8f8f 154.5px,#ff7373 158.5px,#ff6969 159.5px)"></i>
<i style="left:169px;background:linear-gradient(#fff 0.5px,#fff8f8 73.5px,#ffe6e6 120.5px,#ffcaca 138.5px,#ffa5a5 151.5px,#ff8181 158.5px,#ff7979 159.5px)"></i>
<i style="left:170px;background:linear-gradient(#fff 0.5px,#fff9f9 68.5px,#ffe7e7 117.5px,#ffd5d5 132.5px,#ffaeae 148.5px,#ff8b8b 156.5px,#ff7676 159.5px)"></i>
<i style="left:171px;background:linear-gradient(#fff 0.5px,#fffafa 66.5px,#ffe7e7 116.5px,#ffd4d4 132.5px,#ffafaf 147.5px,#ff8787 156.5px,#ff7171 159.5px)"></i>
<i style="left:172px;background:linear-gradient(#fff 0.5px,#fffafa 65.5px,#ffe6e6 116.5px,#ffd1d1 133.5px,#ffa9a9 148.5px,#ff8383 156.5px,#ff6b6b 159.5px)"></i>
<i style="left:173px;background:linear-gradient(#fff 0.5px,#fffafa 64.5px,#ffe6e6 115.5px,#ffd1d1 133.5px,#ffabab 147.5px,#ff8585 155.5px,#ff6464 159.5px)"></i>
<i style="left:174px;background:linear-gradient(#fff 0.5px,#fffafa 65.5px,#ffe6e6 116.5px,#ffd0d0 134.5px,#faa 148.5px,#ff8383 156.5px,#ff6c6c 159.5px)"></i>
<i style="left:175px;background:linear-gradient(#fff 0.5px,#fffafa 67.5px,#ffe7e7 117.5px,#ffd2d2 134.5px,#faa 149.5px,#ff8484 157.5px,#ff7575 159.5px)"></i>
<i style="left:176px;background:linear-gradient(#fff 0.5px,#fffafa 68.5px,#ffe7e7 118.5px,#ffd4d4 134.5px,#ffadad 149.5px,#ff8a8a 157.5px,#ff7c7c 159.5px)"></i>
<i style="left:177px;background:linear-gradient(#fff 0.5px,#fffafa 68.5px,#ffe7e7 118.5px,#ffd4d4 134.5px,#ffadad 150.5px,#ff8989 158.5px,#ff8383 159.5px)"></i>
<i style="left:178px;background:linear-gradient(#fff 0.5px,#fffafa 69.5px,#ffe7e7 119.5px,#ffd6d6 134.5px,#ffafaf 150.5px,#f88 159.5px)"></i>
<i style="left:179px;background:linear-gradient(#fff 0.5px,#fffafa 70.5px,#ffe7e7 120.5px,#ffd5d5 135.5px,#ffaeae 151.5px,#ff8c8c 159.5px)"></i>
<i style="left:180px;background:linear-gradient(#fff 0.5px,#fff9f9 72.5px,#ffe8e8 121.5px,#ffd5d5 136.5px,#ffaeae 152.5px,#ff9090 159.5px)"></i>
<i style="left:181px;background:linear-gradient(#fff 0.5px,#fff9f9 74.5px,#ffe8e8 122.5px,#ffd4d4 137.5px,#ffb0b0 152.5px,#ff9494 159.5px)"></i>
<i style="left:182px;background:linear-gradient(#fff 0.5px,#fff9f9 75.5px,#ffe8e8 123.5px,#ffd2d2 139.5px,#ffacac 154.5px,#ff9898 159.5px)"></i>
<i style="left:183px;background:linear-gradient(#fff 0.5px,#fff9f9 77.5px,#ffe8e8 125.5px,#ffcaca 144.5px,#ffa4a4 157.5px,#ff9c9c 159.5px)"></i>
<i style="left:184px;background:linear-gradient(#fff 0.5px,#fff9f9 79.5px,#ffe8e8 126.5px,#ffc7c7 146.5px,#ffa4a4 158.5px,#ffa0a0 159.5px)"></i>
<i style="left:185px;background:linear-gradient(#fff 0.5px,#fff9f9 81.5px,#ffe8e8 127.5px,#ffc5c5 148.5px,#ffa4a4 159.5px)"></i>
<i style="left:186px;background:linear-gradient(#fff 0.5px,#fff8f8 84.5px,#ffe8e8 128.5px,#ffc5c5 149.5px,#ffa7a7 159.5px)"></i>
<i style="left:187px;background:linear-gradient(#fff 0.5px,#fff8f8 87.5px,#ffe8e8 129.5px,#ffc5c5 150.5px,#ffabab 159.5px)"></i>
<i style="left:188px;background:linear-gradient(#fff 0.5px,#fff8f8 90.5px,#ffe9e9 129.5px,#ffc8c8 150.5px,#ffafaf 159.5px)"></i>
<i style="left:189px;background:linear-gradient(#fff 0.5px,#fff8f8 93.5px,#ffe9e9 130.5px,#ffc8c8 151.5px,#ffb2b2 159.5px)"></i>
<i style="left:190px;background:linear-gradient(#fff 0.5px,#fff7f7 96.5px,#ffeaea 130.5px,#ffc8c8 152.5px,#ffb5b5 159.5px)"></i>
<i style="left:191px;background:linear-gradient(#fff 0.5px,#fff7f7 99.5px,#ffeaea 131.5px,#ffcaca 152.5px,#ffb8b8 159.5px)"></i>
<i style="left:192px;background:linear-gradient(#fff 0.5px,#fff7f7 101.5px,#ffebeb 131.5px,#ffc9c9 153.5px,#ffbaba 159.5px)"></i>
<i style="left:193px;background:linear-gradient(#fff 0.5px,#fff7f7 104.5px,#ffecec 131.5px,#ffcbcb 153.5px,#ffbdbd 159.5px)"></i>
<i style="left:194px;background:linear-gradient(#fff 0.5px,#fff6f6 107.5px,#ffecec 132.5px,#ffcbcb 154.5px,#ffbfbf 159.5px)"></i>
<i style="left:195px;background:linear-gradient(#fff 0.5px,#fff6f6 110.5px,#ffeded 132.5px,#ffcdcd 154.5px,#ffc1c1 159.5px)"></i>
<i style="left:196px;background:linear-gradient(#fff 0.5px,#fff6f6 113.5px,#ffeded 133.5px,#ffcdcd 155.5px,#ffc3c3 159.5px)"></i>
<i style="left:197px;background:linear-gradient(#fff 0.5px,#fff6f6 116.5px,#ffecec 134.5px,#ffcdcd 156.5px,#ffc6c6 159.5px)"></i>
<i style="left:198px;background:linear-gradient(#fff 0.5px,#fff6f6 119.5px,#ffebeb 136.5px,#ffcdcd 157.5px,#ffc8c8 159.5px)"></i>
<i style="left:199px;background:linear-gradient(#fff 0.5px,#fff6f6 121.5px,#ffe7e7 141.5px,#ffcbcb 159.5px)"></i>
<i style="left:200px;background:linear-gradient(#fff 0.5px,#fff6f6 124.5px,#ffdede 149.5px,#ffcdcd 159.5px)"></i>
<i style="left:201px;background:linear-gradient(#fff 0.5px,#fff5f5 127.5px,#ffd8d8 154.5px,#ffcfcf 159.5px)"></i>
<i style="left:202px;background:linear-gradient(#fff 0.5px,#fff6f6 127.5px,#ffdada 154.5px,#ffd1d1 159.5px)"></i>
<i style="left:203px;background:linear-gradient(#fff 0.5px,#fff6f6 128.5px,#ffdada 155.5px,#ffd4d4 159.5px)"></i>
<i style="left:204px;background:linear-gradient(#fff 0.5px,#fff7f7 128.5px,#ffdcdc 155.5px,#ffd5d5 159.5px)"></i>
<i style="left:205px;background:linear-gradient(#fff 0.5px,#fff7f7 129.5px,#ffdbdb 156.5px,#ffd6d6 159.5px)"></i>
<i style="left:206px;background:linear-gradient(#fff 0.5px,#fff7f7 129.5px,#ffdcdc 156.5px,#ffd7d7 159.5px)"></i>
<i style="left:207px;background:linear-gradient(#fff 0.5px,#fff7f7 130.5px,#fdd 156.5px,#ffd8d8 159.5px)"></i>
<i style="left:208px;background:linear-gradient(#fff 0.5px,#fff7f7 131.5px,#ffdede 157.5px,#ffdada 159.5px)"></i>
<i style="left:209px;background:linear-gradient(#fff 0.5px,#fff8f8 131.5px,#ffdfdf 158.5px,#fdd 159.5px)"></i>
<i style="left:210px;background:linear-gradient(#fff 0.5px,#fff8f8 132.5px,#ffe0e0 159.5px)"></i>
<i style="left:211px;background:linear-gradient(#fff 0.5px,#fff8f8 133.5px,#ffe3e3 159.5px)"></i>
<i style="left:212px;background:linear-gradient(#fff 0.5px,#fff8f8 134.5px,#ffe5e5 159.5px)"></i>
<i style="left:213px;background:linear-gradient(#fff 0.5px,#fff8f8 134.5px,#ffe8e8 159.5px)"></i>
<i style="left:214px;background:linear-gradient(#fff 0.5px,#fff8f8 135.5px,#ffe9e9 159.5px)"></i>
<i style="left:215px;background:linear-gradient(#fff 0.5px,#fff9f9 135.5px,#ffeaea 159.5px)"></i>
<i style="left:216px;background:linear-gradient(#fff 0.5px,#fff9f9 136.5px,#ffeaea 159.5px)"></i>
<i style="left:217px;background:linear-gradient(#fff 0.5px,#fff9f9 136.5px,#ffecec 159.5px)"></i>
<i style="left:218px;background:linear-gradient(#fff 0.5px,#fff9f9 137.5px,#fee 159.5px)"></i>
<i style="left:219px;background:linear-gradient(#fff 0.5px,#fff9f9 138.5px,#fff0f0 159.5px)"></i>
<i style="left:220px;background:linear-gradient(#fff 0.5px,#fff9f9 140.5px,#fff2f2 159.5px)"></i>
<i style="left:221px;background:linear-gradient(#fff 0.5px,#fff9f9 142.5px,#fff3f3 159.5px)"></i>
<i style="left:222px;background:linear-gradient(#fff 0.5px,#fffafa 145.5px,#fff5f5 159.5px)"></i>
<i style="left:223px;background:linear-gradient(#fff 0.5px,#fffafa 149.5px,#fff7f7 159.5px)"></i>
<i style="left:224px;background:linear-gradient(#fff 0.5px,#fffafa 151.5px,#fff8f8 159.5px)"></i>
<i style="left:225px;background:linear-gradient(#fff 0.5px,#fffafa 148.5px,#fff7f7 159.5px)"></i>
<i style="left:226px;background:linear-gradient(#fff 0.5px,#fffafa 145.5px,#fff6f6 159.5px)"></i>
<i style="left:227px;background:linear-gradient(#fff 0.5px,#fffafa 145.5px,#fff6f6 159.5px)"></i>
<i style="left:228px;background:linear-gradient(#fff 0.5px,#fffafa 145.5px,#fff6f6 159.5px)"></i>
<i style="left:229px;background:linear-gradient(#fff 0.5px,#fffbfb 145.5px,#fff6f6 159.5px)"></i>
<i style="left:230px;background:linear-gradient(#fff 0.5px,#fffbfb 148.5px,#fff7f7 159.5px)"></i>
<i style="left:231px;background:linear-gradient(#fff 0.5px,#fffbfb 153.5px,#fff9f9 159.5px)"></i>
<i style="left:232px;background:linear-gradient(#fff 0.5px,#fffafa 159.5px)"></i>
<i style="left:233px;background:linear-gradient(#fff 0.5px,#fffbfb 159.5px)"></i>
<i style="left:234px;background:linear-gradient(#fff 0.5px,#fffbfb 159.5px)"></i>
<i style="left:235px;background:linear-gradient(#fff 0.5px,#fffcfc 159.5px)"></i>
<i style="left:236px;background:linear-gradient(#fff 0.5px,#fffcfc 159.5px)"></i>
<i style="left:237px;background:linear-gradient(#fff 0.5px,#fffcfc 159.5px)"></i>
</div>
<div class="h" style="left:296px;top:106px;width:239px;height:160px">
<i style="left:19px;background:linear-gradient(#ffd8d8 0.5px,#ffbcbc 42.5px,#ff9494 63.5px,#ff7070 74.5px,#ff5353 79.5px,#ff4040 81.5px,#ff3030 82.5px,#f00 83.5px,#f00 85.5px,#ff3900 87.5px,#ff4600 88.5px,#ff0 144.5px,#f5ff00 151.5px,#d6ff00 158.5px,#d0ff00 159.5px)"></i>
<i style="left:20px;background:linear-gradient(#ffd9d9 0.5px,#ffbebe 42.5px,#ff9696 64.5px,#ff7272 75.5px,#ff5050 81.5px,#ff3a3a 83.5px,#ff2424 84.5px,#f00 85.5px,#f00 86.5px,#ff0900 87.5px,#ff4300 89.5px,#ff0 145.5px,#f4ff00 152.5px,#d5ff00 159.5px)"></i>
<i style="left:21px;background:linear-gradient(#ffdada 0.5px,#ffc0c0 42.5px,#ff9797 65.5px,#ff7171 77.5px,#ff5454 82.5px,#ff4141 84.5px,#ff3232 85.5px,#f00 86.5px,#f00 88.5px,#ff1200 89.5px,#ff3000 90.5px,#ff4500 91.5px,#ff0 146.5px,#f3ff00 153.5px,#daff00 159.5px)"></i>
<i style="left:22px;background:linear-gradient(#ffdcdc 0.5px,#ffc2c2 43.5px,#ff9a9a 66.5px,#ff7575 78.5px,#f55 84.5px,#ff4242 86.5px,#ff3434 87.5px,#f00 88.5px,#f00 90.5px,#ff3b00 92.5px,#ff4600 93.5px,#ff0 147.5px,#f3ff00 154.5px,#deff00 159.5px)"></i>
<i style="left:23px;background:linear-gradient(#fdd 0.5px,#ffc4c4 43.5px,#ff9b9b 67.5px,#ff7474 80.5px,#ff5252 86.5px,#ff3d3d 88.5px,#ff2a2a 89.5px,#f00 90.5px,#f00 91.5px,#ff0800 92.5px,#f40 94.5px,#ff0 147.5px,#f5ff00 154.5px,#e2ff00 159.5px)"></i>
<i style="left:24px;background:linear-gradient(#ffdede 0.5px,#ffc5c5 44.5px,#ff9c9c 68.5px,#ff7676 81.5px,#ff5656 87.5px,#f44 89.5px,#ff3636 90.5px,#f00 92.5px,#f00 93.5px,#ff1300 94.5px,#ff3200 95.5px,#ff4500 96.5px,#ff0 148.5px,#f5ff00 155.5px,#e6ff00 159.5px)"></i>
<i style="left:25px;background:linear-gradient(#ffdfdf 0.5px,#ffc6c6 44.5px,#ff9d9d 69.5px,#f77 82.5px,#ff5858 88.5px,#ff3a3a 91.5px,#ff2323 92.5px,#f00 93.5px,#f00 94.5px,#ff0700 95.5px,#f40 97.5px,#ff0 149.5px,#f4ff00 156.5px,#eaff00 159.5px)"></i>
<i style="left:26px;background:linear-gradient(#ffe0e0 0.5px,#ffc8c8 44.5px,#ffa0a0 69.5px,#ff7979 83.5px,#ff5a5a 89.5px,#ff3e3e 92.5px,#ff2d2d 93.5px,#f00 94.5px,#f00 96.5px,#ff3f00 98.5px,#ff4b00 100.5px,#ff0 149.5px,#f3ff00 157.5px,#edff00 159.5px)"></i>
<i style="left:27px;background:linear-gradient(#ffe2e2 0.5px,#ffcbcb 44.5px,#ffa1a1 70.5px,#ff7a7a 84.5px,#ff5d5d 90.5px,#ff4343 93.5px,#ff3434 94.5px,#f00 95.5px,#f00 97.5px,#ff1700 98.5px,#ff3700 99.5px,#ff4600 100.5px,#ff0 150.5px,#f3ff00 158.5px,#f0ff00 159.5px)"></i>
<i style="left:28px;background:linear-gradient(#ffe3e3 0.5px,#ffcbcb 45.5px,#ffa2a2 71.5px,#ff7c7c 85.5px,#ff5858 92.5px,#ff3939 95.5px,#ff2020 96.5px,#f00 97.5px,#f00 98.5px,#ff0e00 99.5px,#ff2f00 100.5px,#ff4500 101.5px,#ff0 151.5px,#f2ff00 159.5px)"></i>
<i style="left:29px;background:linear-gradient(#ffe5e5 0.5px,#ffcdcd 45.5px,#ffa3a3 72.5px,#ff7d7d 86.5px,#ff5a5a 93.5px,#ff3d3d 96.5px,#ff2929 97.5px,#f00 98.5px,#f00 99.5px,#ff0600 100.5px,#f40 102.5px,#ff0 152.5px,#f5ff00 159.5px)"></i>
<i style="left:30px;background:linear-gradient(#ffe5e5 0.5px,#ffcfcf 45.5px,#ffa6a6 72.5px,#ff7d7d 87.5px,#ff5b5b 94.5px,#ff3f3f 97.5px,#ff2d2d 98.5px,#f00 99.5px,#f00 101.5px,#ff4000 103.5px,#ff6200 111.5px,#ff0 152.5px,#f7ff00 159.5px)"></i>
<i style="left:31px;background:linear-gradient(#ffe6e6 0.5px,#ffcfcf 46.5px,#ffa7a7 73.5px,#ff7f7f 88.5px,#ff5e5e 95.5px,#ff4545 98.5px,#ff3636 99.5px,#ff1616 100.5px,#f00 101.5px,#f00 102.5px,#ff3f00 104.5px,#ff5300 108.5px,#ff0 153.5px,#f8ff00 159.5px)"></i>
<i style="left:32px;background:linear-gradient(#ffe7e7 0.5px,#ffd0d0 46.5px,#ffa7a7 74.5px,#ff7f7f 89.5px,#ff5d5d 96.5px,#ff4343 99.5px,#ff3434 100.5px,#f00 101.5px,#f00 103.5px,#ff4000 105.5px,#ff5a00 111.5px,#ff0 154.5px,#faff00 159.5px)"></i>
<i style="left:33px;background:linear-gradient(#ffe8e8 0.5px,#ffd2d2 46.5px,#ffa9a9 74.5px,#ff8383 89.5px,#ff5f5f 97.5px,#ff4646 100.5px,#ff3838 101.5px,#f00 103.5px,#f00 104.5px,#ff4000 106.5px,#ff6a00 116.5px,#ff0 155.5px,#fbff00 159.5px)"></i>
<i style="left:34px;background:linear-gradient(#ffe9e9 0.5px,#ffd2d2 47.5px,#ffa9a9 75.5px,#ff8383 90.5px,#ff5f5f 98.5px,#ff4545 101.5px,#ff3737 102.5px,#ff1616 103.5px,#f00 104.5px,#f00 105.5px,#ff4000 107.5px,#ff0 155.5px,#fcff00 159.5px)"></i>
<i style="left:35px;background:linear-gradient(#ffeaea 0.5px,#ffd4d4 47.5px,#faa 76.5px,#ff8383 91.5px,#ff5e5e 99.5px,#f44 102.5px,#ff3535 103.5px,#f00 104.5px,#f00 106.5px,#ff4100 108.5px,#ff0 156.5px,#fdff00 159.5px)"></i>
<i style="left:36px;background:linear-gradient(#ffecec 0.5px,#ffd4d4 48.5px,#ffacac 76.5px,#ff8383 92.5px,#ff6464 99.5px,#ff4e4e 102.5px,#f33 104.5px,#f00 105.5px,#f00 107.5px,#ff4100 109.5px,#ff0 157.5px,#feff00 159.5px)"></i>
<i style="left:37px;background:linear-gradient(#ffeded 0.5px,#ffd7d7 48.5px,#ffadad 77.5px,#ff8585 93.5px,#ff6161 101.5px,#ff4848 104.5px,#ff3a3a 105.5px,#f22 106.5px,#f00 107.5px,#f00 108.5px,#ff4100 110.5px,#ff0 158.5px,#feff00 159.5px)"></i>
<i style="left:38px;background:linear-gradient(#fee 0.5px,#ffd7d7 49.5px,#ffadad 78.5px,#ff8585 94.5px,#ff5f5f 102.5px,#f44 105.5px,#ff3535 106.5px,#f00 107.5px,#ff0300 109.5px,#f40 111.5px,#ff0 158.5px,#ff0 159.5px)"></i>
<i style="left:39px;background:linear-gradient(#ffefef 0.5px,#ffd8d8 49.5px,#ffafaf 78.5px,#ff8787 94.5px,#ff6464 102.5px,#ff4c4c 105.5px,#ff4040 106.5px,#ff2e2e 107.5px,#f00 108.5px,#f00 109.5px,#ff0d00 110.5px,#ff3000 111.5px,#ff4500 112.5px,#ff0 159.5px)"></i>
<i style="left:40px;background:linear-gradient(#ffefef 0.5px,#ffd9d9 49.5px,#ffb1b1 78.5px,#ff8a8a 94.5px,#ff6868 102.5px,#ff4949 106.5px,#ff3b3b 107.5px,#ff2323 108.5px,#f00 109.5px,#f00 110.5px,#ff1800 111.5px,#ff3a00 112.5px,#ff4700 113.5px,#fffd00 159.5px)"></i>
<i style="left:41px;background:linear-gradient(#fff0f0 0.5px,#ffdada 49.5px,#ffb0b0 79.5px,#ff8989 95.5px,#f66 103.5px,#ff4f4f 106.5px,#f33 108.5px,#f00 109.5px,#f00 111.5px,#f40 113.5px,#fffa00 159.5px)"></i>
<i style="left:42px;background:linear-gradient(#fff0f0 0.5px,#ffdada 50.5px,#ffb0b0 80.5px,#ff8989 96.5px,#f66 104.5px,#ff4f4f 107.5px,#ff3434 109.5px,#f00 110.5px,#f00 111.5px,#ff0a00 112.5px,#ff2c00 113.5px,#ff4500 114.5px,#fff800 159.5px)"></i>
<i style="left:43px;background:linear-gradient(#fff1f1 0.5px,#ffdbdb 50.5px,#ffb2b2 80.5px,#ff8b8b 96.5px,#ff6969 104.5px,#ff4a4a 108.5px,#ff3d3d 109.5px,#ff2727 110.5px,#f00 111.5px,#f00 112.5px,#ff1400 113.5px,#ff3700 114.5px,#ff4600 115.5px,#fff500 159.5px)"></i>
<i style="left:44px;background:linear-gradient(#fff1f1 0.5px,#ffdcdc 50.5px,#ffb3b3 80.5px,#ff8d8d 96.5px,#ff6c6c 104.5px,#ff5050 108.5px,#ff3434 110.5px,#f00 111.5px,#f00 113.5px,#ff4100 115.5px,#fff200 159.5px)"></i>
<i style="left:45px;background:linear-gradient(#fff1f1 0.5px,#ffdbdb 51.5px,#ffb2b2 81.5px,#ff8c8c 97.5px,#ff6c6c 105.5px,#ff4f4f 109.5px,#ff3434 111.5px,#f00 112.5px,#f00 113.5px,#ff0700 114.5px,#ff2900 115.5px,#ff4500 116.5px,#ffef00 159.5px)"></i>
<i style="left:46px;background:linear-gradient(#fff1f1 0.5px,#fdd 50.5px,#ffb3b3 81.5px,#ff8b8b 98.5px,#ff6969 106.5px,#ff4b4b 110.5px,#ff3f3f 111.5px,#ff2a2a 112.5px,#f00 113.5px,#f00 114.5px,#f10 115.5px,#f30 116.5px,#ff4600 117.5px,#ffec00 159.5px)"></i>
<i style="left:47px;background:linear-gradient(#fff1f1 0.5px,#fdd 50.5px,#ffb4b4 81.5px,#ff8d8d 98.5px,#ff6767 107.5px,#ff4747 111.5px,#ff3838 112.5px,#ff1818 113.5px,#f00 114.5px,#f00 115.5px,#ff1b00 116.5px,#ff3e00 117.5px,#ff4b00 119.5px,#ffe900 159.5px)"></i>
<i style="left:48px;background:linear-gradient(#fff2f2 0.5px,#fdd 50.5px,#ffb5b5 81.5px,#ff8e8e 98.5px,#ff6a6a 107.5px,#ff4d4d 111.5px,#ff3030 113.5px,#f00 114.5px,#ff0300 116.5px,#f40 118.5px,#ffe700 159.5px)"></i>
<i style="left:49px;background:linear-gradient(#fff2f2 0.5px,#fdd 50.5px,#ffb4b4 82.5px,#ff8d8d 99.5px,#ff6969 108.5px,#ff4a4a 112.5px,#ff3e3e 113.5px,#ff2828 114.5px,#f00 115.5px,#f00 116.5px,#ff0e00 117.5px,#ff3000 118.5px,#ff4500 119.5px,#ffe400 159.5px)"></i>
<i style="left:50px;background:linear-gradient(#fff2f2 0.5px,#ffdede 50.5px,#ffb5b5 82.5px,#ff9090 99.5px,#ff6d6d 108.5px,#ff5252 112.5px,#ff3939 114.5px,#f00 116.5px,#f00 117.5px,#ff1800 118.5px,#ff3a00 119.5px,#ff4700 120.5px,#ffe100 159.5px)"></i>
<i style="left:51px;background:linear-gradient(#fff2f2 0.5px,#ffdede 50.5px,#ffb7b7 82.5px,#ff8f8f 100.5px,#ff6c6c 109.5px,#ff5050 113.5px,#ff3636 115.5px,#f00 116.5px,#f00 118.5px,#f40 120.5px,#ffdf00 159.5px)"></i>
<i style="left:52px;background:linear-gradient(#fff2f2 0.5px,#ffdfdf 50.5px,#ffb6b6 83.5px,#ff8f8f 101.5px,#ff6b6b 110.5px,#ff4e4e 114.5px,#ff3232 116.5px,#f00 117.5px,#f00 118.5px,#ff0a00 119.5px,#ff2d00 120.5px,#ff4500 121.5px,#ffdc00 159.5px)"></i>
<i style="left:53px;background:linear-gradient(#fff3f3 0.5px,#ffe0e0 49.5px,#ffb8b8 82.5px,#ff9292 100.5px,#ff6d6d 110.5px,#ff5252 114.5px,#ff3939 116.5px,#f00 118.5px,#f00 119.5px,#ff1500 120.5px,#ff3700 121.5px,#ff4600 122.5px,#ffd900 159.5px)"></i>
<i style="left:54px;background:linear-gradient(#fff3f3 0.5px,#ffe0e0 49.5px,#ffb8b8 83.5px,#ff9292 101.5px,#ff6c6c 111.5px,#ff5050 115.5px,#ff3737 117.5px,#ff0e0e 118.5px,#f00 119.5px,#f00 120.5px,#ff4200 122.5px,#ffd700 159.5px)"></i>
<i style="left:55px;background:linear-gradient(#fff3f3 0.5px,#ffe1e1 49.5px,#ffb9b9 83.5px,#ff9292 102.5px,#ff7171 111.5px,#ff4f4f 116.5px,#ff3434 118.5px,#f00 119.5px,#f00 120.5px,#ff0700 121.5px,#ff2a00 122.5px,#ff4500 123.5px,#ffd400 159.5px)"></i>
<i style="left:56px;background:linear-gradient(#fff3f3 0.5px,#ffe1e1 49.5px,#ffb9b9 84.5px,#ff9292 103.5px,#ff7070 112.5px,#ff4e4e 117.5px,#ff3232 119.5px,#f00 120.5px,#f00 121.5px,#f10 122.5px,#ff3400 123.5px,#ff4600 124.5px,#ffd100 159.5px)"></i>
<i style="left:57px;background:linear-gradient(#fff3f3 0.5px,#ffe1e1 49.5px,#ffbaba 84.5px,#ff9393 103.5px,#ff6d6d 113.5px,#ff5252 117.5px,#ff3939 119.5px,#f00 121.5px,#f00 122.5px,#ff1c00 123.5px,#ff3f00 124.5px,#ff4b00 126.5px,#ffcf00 159.5px)"></i>
<i style="left:58px;background:linear-gradient(#fff3f3 0.5px,#ffe3e3 48.5px,#fbb 84.5px,#ff9595 103.5px,#ff7171 113.5px,#ff5050 118.5px,#ff3636 120.5px,#f00 121.5px,#ff0400 123.5px,#f40 125.5px,#fc0 159.5px)"></i>
<i style="left:59px;background:linear-gradient(#fff4f4 0.5px,#ffe3e3 49.5px,#fbb 85.5px,#ff9595 104.5px,#ff7171 114.5px,#ff5050 119.5px,#ff3434 121.5px,#f00 122.5px,#f00 123.5px,#ff0e00 124.5px,#ff3100 125.5px,#ff4600 126.5px,#ffc900 159.5px)"></i>
<i style="left:60px;background:linear-gradient(#fff5f5 0.5px,#ffe4e4 48.5px,#ffbdbd 84.5px,#ff9696 104.5px,#ff7373 114.5px,#ff5353 119.5px,#ff3b3b 121.5px,#f00 123.5px,#f00 124.5px,#ff1b00 125.5px,#ff3d00 126.5px,#ff4b00 128.5px,#ffc700 159.5px)"></i>
<i style="left:61px;background:linear-gradient(#fff5f5 0.5px,#ffe4e4 49.5px,#ffbdbd 85.5px,#ff9696 105.5px,#ff7272 115.5px,#ff5151 120.5px,#ff3838 122.5px,#ff1212 123.5px,#f00 124.5px,#ff0600 125.5px,#ff2800 126.5px,#ff4500 127.5px,#ffc400 159.5px)"></i>
<i style="left:62px;background:linear-gradient(#fff6f6 0.5px,#ffe5e5 48.5px,#ffbebe 85.5px,#ff9797 105.5px,#ff7474 115.5px,#ff5454 120.5px,#ff3d3d 122.5px,#ff2626 123.5px,#f00 124.5px,#f00 125.5px,#ff1300 126.5px,#ff3600 127.5px,#ff4600 128.5px,#ffc100 159.5px)"></i>
<i style="left:63px;background:linear-gradient(#fff6f6 0.5px,#ffe5e5 49.5px,#ffbebe 86.5px,#ff9797 106.5px,#ff7474 116.5px,#ff5353 121.5px,#ff3a3a 123.5px,#f00 125.5px,#f00 126.5px,#ff4300 128.5px,#ffbf00 159.5px)"></i>
<i style="left:64px;background:linear-gradient(#fff6f6 0.5px,#ffe6e6 49.5px,#ffc0c0 86.5px,#ff9a9a 106.5px,#ff7878 116.5px,#ff5b5b 121.5px,#ff4747 123.5px,#ff3838 124.5px,#ff0c0c 125.5px,#f00 126.5px,#ff0b00 127.5px,#ff2e00 128.5px,#ff4500 129.5px,#ffbc00 159.5px)"></i>
<i style="left:65px;background:linear-gradient(#fff7f7 0.5px,#ffe8e8 48.5px,#ffc0c0 86.5px,#ff9b9b 106.5px,#ff7575 117.5px,#f55 122.5px,#ff3d3d 124.5px,#ff2525 125.5px,#f00 126.5px,#f00 127.5px,#ff1900 128.5px,#ff3b00 129.5px,#ff4700 130.5px,#ffba00 159.5px)"></i>
<i style="left:66px;background:linear-gradient(#fff7f7 0.5px,#ffe8e8 49.5px,#ffc2c2 86.5px,#ff9d9d 106.5px,#ff7979 117.5px,#ff5c5c 122.5px,#ff4949 124.5px,#ff3a3a 125.5px,#f00 127.5px,#ff0400 128.5px,#f40 130.5px,#ffb700 159.5px)"></i>
<i style="left:67px;background:linear-gradient(#fff8f8 0.5px,#ffe9e9 49.5px,#ffc3c3 87.5px,#ff9c9c 108.5px,#f77 119.5px,#ff5858 124.5px,#ff4242 126.5px,#ff2f2f 127.5px,#f00 128.5px,#ff0c00 129.5px,#ff2e00 130.5px,#ff4500 131.5px,#ffb400 159.5px)"></i>
<i style="left:68px;background:linear-gradient(#fff8f8 0.5px,#ffe9e9 50.5px,#ffc4c4 88.5px,#ff9d9d 109.5px,#ff7878 120.5px,#ff5a5a 125.5px,#ff4545 127.5px,#ff3434 128.5px,#f00 129.5px,#ff0f00 130.5px,#ff3200 131.5px,#ff4600 132.5px,#ffb100 159.5px)"></i>
<i style="left:69px;background:linear-gradient(#fff8f8 0.5px,#ffeaea 50.5px,#ffc3c3 89.5px,#ff9d9d 110.5px,#ff7878 121.5px,#ff5858 126.5px,#ff4242 128.5px,#f00 130.5px,#ff1300 131.5px,#ff3600 132.5px,#ff4600 133.5px,#ffae00 159.5px)"></i>
<i style="left:70px;background:linear-gradient(#fff9f9 0.5px,#ffebeb 50.5px,#ffc5c5 89.5px,#ffa0a0 110.5px,#ff7e7e 121.5px,#ff5b5b 127.5px,#ff4545 129.5px,#f00 131.5px,#ff1600 132.5px,#ff3900 133.5px,#ff4700 134.5px,#ffab00 159.5px)"></i>
<i style="left:71px;background:linear-gradient(#fff9f9 0.5px,#ffebeb 51.5px,#ffc6c6 90.5px,#ffa1a1 111.5px,#ff7f7f 122.5px,#ff5e5e 128.5px,#f55 129.5px,#ff4545 130.5px,#f00 132.5px,#ff1a00 133.5px,#ff3d00 134.5px,#ff4700 135.5px,#ffa800 159.5px)"></i>
<i style="left:72px;background:linear-gradient(#fff9f9 0.5px,#ffecec 51.5px,#ffc7c7 91.5px,#ffa3a3 112.5px,#ff7d7d 124.5px,#ff6161 129.5px,#ff5656 130.5px,#ff4545 131.5px,#f00 133.5px,#ff1d00 134.5px,#ff4100 135.5px,#ffa500 159.5px)"></i>
<i style="left:73px;background:linear-gradient(#fffafa 0.5px,#ffecec 52.5px,#ffc7c7 92.5px,#ffa1a1 114.5px,#ff7e7e 125.5px,#ff6363 130.5px,#ff4646 132.5px,#f00 134.5px,#f40 136.5px,#ffa200 159.5px)"></i>
<i style="left:74px;background:linear-gradient(#fffafa 0.5px,#ffecec 52.5px,#ffc7c7 93.5px,#ffa2a2 115.5px,#ff7f7f 126.5px,#ff6a6a 130.5px,#ff5353 132.5px,#ff4040 133.5px,#f00 134.5px,#f00 135.5px,#f40 137.5px,#ff9f00 159.5px)"></i>
<i style="left:75px;background:linear-gradient(#fffafa 0.5px,#ffeded 52.5px,#ffc9c9 93.5px,#ffa5a5 115.5px,#ff8282 127.5px,#ff6a6a 131.5px,#ff5353 133.5px,#ff4040 134.5px,#f00 135.5px,#f00 136.5px,#f40 138.5px,#ff9b00 159.5px)"></i>
<i style="left:76px;background:linear-gradient(#fffafa 0.5px,#fee 52.5px,#ffcaca 94.5px,#ffa7a7 116.5px,#ff8484 128.5px,#ff7373 131.5px,#ff5353 134.5px,#ff4040 135.5px,#f00 136.5px,#f00 137.5px,#f40 139.5px,#ff9800 159.5px)"></i>
<i style="left:77px;background:linear-gradient(#fffafa 0.5px,#fee 53.5px,#ffcbcb 95.5px,#ffa6a6 118.5px,#ff8787 129.5px,#ff6a6a 133.5px,#ff5353 135.5px,#ff4040 136.5px,#f00 137.5px,#f00 138.5px,#f40 140.5px,#ff9400 159.5px)"></i>
<i style="left:78px;background:linear-gradient(#fffbfb 0.5px,#fee 53.5px,#ffcbcb 96.5px,#ffa8a8 119.5px,#f88 130.5px,#ff6a6a 134.5px,#ff5353 136.5px,#ff4040 137.5px,#f00 138.5px,#f00 139.5px,#f40 141.5px,#ff9000 159.5px)"></i>
<i style="left:79px;background:linear-gradient(#fffbfb 0.5px,#ffefef 53.5px,#fcc 97.5px,#ffa9a9 120.5px,#ff8e8e 130.5px,#ff6b6b 135.5px,#ff5353 137.5px,#ff4040 138.5px,#f00 139.5px,#f00 140.5px,#ff4500 142.5px,#ff8d00 159.5px)"></i>
<i style="left:80px;background:linear-gradient(#fffbfb 0.5px,#ffefef 54.5px,#ffcdcd 98.5px,#faa 121.5px,#ff9292 130.5px,#ff7171 135.5px,#ff4f4f 138.5px,#ff3a3a 139.5px,#f00 140.5px,#f00 141.5px,#ff4500 143.5px,#ff8900 159.5px)"></i>
<i style="left:81px;background:linear-gradient(#fffbfb 0.5px,#fff0f0 54.5px,#ffcdcd 99.5px,#ffabab 122.5px,#ff9393 131.5px,#ff7373 136.5px,#ff5353 139.5px,#ff4040 140.5px,#f00 141.5px,#f00 142.5px,#ff2600 143.5px,#ff4500 144.5px,#ff8500 159.5px)"></i>
<i style="left:82px;background:linear-gradient(#fffbfb 0.5px,#fff0f0 54.5px,#ffcfcf 99.5px,#ffabab 123.5px,#ff9595 131.5px,#ff6f6f 137.5px,#ff5a5a 139.5px,#ff4b4b 140.5px,#f33 141.5px,#f00 142.5px,#ff0700 143.5px,#ff2d00 144.5px,#ff4500 145.5px,#ff8200 159.5px)"></i>
<i style="left:83px;background:linear-gradient(#fffcfc 0.5px,#fff0f0 55.5px,#ffcfcf 100.5px,#ffadad 124.5px,#ff9a9a 131.5px,#ff7878 137.5px,#ff5b5b 140.5px,#ff4c4c 141.5px,#ff3535 142.5px,#f00 143.5px,#ff0f00 144.5px,#ff3400 145.5px,#ff4600 146.5px,#ff7f00 159.5px)"></i>
<i style="left:84px;background:linear-gradient(#fffcfc 0.5px,#fff1f1 55.5px,#ffd0d0 101.5px,#ffadad 125.5px,#ff9898 132.5px,#ff7474 138.5px,#f55 141.5px,#ff4343 142.5px,#ff1c1c 143.5px,#f00 144.5px,#ff1700 145.5px,#ff3c00 146.5px,#ff4700 147.5px,#ff7c00 159.5px)"></i>
<i style="left:85px;background:linear-gradient(#fffcfc 0.5px,#fff2f2 55.5px,#ffd0d0 102.5px,#ffaeae 126.5px,#ff9d9d 132.5px,#ff7575 139.5px,#ff5656 142.5px,#ff4545 143.5px,#f00 145.5px,#ff1e00 146.5px,#f40 147.5px,#ff7800 159.5px)"></i>
<i style="left:86px;background:linear-gradient(#fffcfc 0.5px,#fff2f2 55.5px,#ffd2d2 102.5px,#ffb0b0 126.5px,#ff9f9f 132.5px,#ff7979 139.5px,#ff5d5d 142.5px,#ff4f4f 143.5px,#ff3939 144.5px,#f00 145.5px,#f00 146.5px,#ff2600 147.5px,#ff4500 148.5px,#ff7500 159.5px)"></i>
<i style="left:87px;background:linear-gradient(#fffcfc 0.5px,#fff2f2 56.5px,#ffd2d2 103.5px,#ffb1b1 127.5px,#ff9f9f 133.5px,#ff7979 140.5px,#ff5d5d 143.5px,#ff5050 144.5px,#ff3b3b 145.5px,#f00 146.5px,#ff0800 147.5px,#ff2e00 148.5px,#ff4600 149.5px,#ff7200 159.5px)"></i>
<i style="left:88px;background:linear-gradient(#fffdfd 0.5px,#fff3f3 56.5px,#ffd3d3 104.5px,#ffb2b2 128.5px,#ff9595 136.5px,#ff6e6e 142.5px,#ff5959 144.5px,#ff4949 145.5px,#ff2e2e 146.5px,#f00 147.5px,#ff1000 148.5px,#ff3600 149.5px,#ff4700 150.5px,#ff6e00 159.5px)"></i>
<i style="left:89px;background:linear-gradient(#fffdfd 0.5px,#fff3f3 56.5px,#ffd4d4 105.5px,#ffb4b4 129.5px,#ff9191 138.5px,#ff7070 143.5px,#ff5b5b 145.5px,#ff4c4c 146.5px,#ff3434 147.5px,#f00 148.5px,#ff1800 149.5px,#ff3e00 150.5px,#ff4c00 152.5px,#ff6b00 159.5px)"></i>
<i style="left:90px;background:linear-gradient(#fffdfd 0.5px,#fff3f3 57.5px,#ffd4d4 106.5px,#ffb4b4 130.5px,#ff8f8f 139.5px,#ff6d6d 144.5px,#ff5656 146.5px,#ff4545 147.5px,#f00 149.5px,#f40 151.5px,#ff6800 159.5px)"></i>
<i style="left:91px;background:linear-gradient(#fffdfd 0.5px,#fff4f4 57.5px,#ffd6d6 106.5px,#ffb9b9 129.5px,#ff9393 139.5px,#ff7272 144.5px,#ff5050 147.5px,#ff3b3b 148.5px,#f00 149.5px,#ff0100 150.5px,#ff2800 151.5px,#ff4500 152.5px,#ff6400 159.5px)"></i>
<i style="left:92px;background:linear-gradient(#fffdfd 0.5px,#fff4f4 58.5px,#ffd6d6 108.5px,#ffbaba 130.5px,#ff9494 140.5px,#ff7474 145.5px,#ff5454 148.5px,#ff4141 149.5px,#f00 150.5px,#ff0900 151.5px,#ff3000 152.5px,#ff4600 153.5px,#ff6100 159.5px)"></i>
<i style="left:93px;background:linear-gradient(#fffdfd 0.5px,#fff4f4 58.5px,#ffd7d7 108.5px,#ffbcbc 130.5px,#ff9292 141.5px,#ff7272 146.5px,#ff4e4e 149.5px,#ff3737 150.5px,#f00 151.5px,#f10 152.5px,#ff3800 153.5px,#ff4700 154.5px,#ff5d00 159.5px)"></i>
<i style="left:94px;background:linear-gradient(#fffdfd 0.5px,#fff5f5 58.5px,#ffd8d8 109.5px,#ffbfbf 130.5px,#ff9696 141.5px,#ff6f6f 147.5px,#ff5959 149.5px,#ff4848 150.5px,#ff2929 151.5px,#f00 152.5px,#ff1900 153.5px,#ff4000 154.5px,#ff5a00 159.5px)"></i>
<i style="left:95px;background:linear-gradient(#fffdfd 0.5px,#fff5f5 58.5px,#ffd9d9 110.5px,#ffc1c1 130.5px,#f99 141.5px,#ff7575 147.5px,#ff5454 150.5px,#ff4040 151.5px,#f00 152.5px,#f00 153.5px,#f40 155.5px,#ff5600 159.5px)"></i>
<i style="left:96px;background:linear-gradient(#fffdfd 0.5px,#fff5f5 59.5px,#ffd9d9 111.5px,#ffc3c3 130.5px,#ff9a9a 142.5px,#ff7575 148.5px,#f55 151.5px,#ff4242 152.5px,#f00 153.5px,#ff0300 154.5px,#ff2a00 155.5px,#ff4500 156.5px,#ff5300 159.5px)"></i>
<i style="left:97px;background:linear-gradient(#fffefe 0.5px,#fff6f6 59.5px,#ffdada 111.5px,#ffc4c4 130.5px,#ff9c9c 142.5px,#ff7a7a 148.5px,#ff5c5c 151.5px,#ff4d4d 152.5px,#ff3535 153.5px,#f00 154.5px,#ff0c00 155.5px,#ff3400 156.5px,#ff4600 157.5px,#ff4f00 159.5px)"></i>
<i style="left:98px;background:linear-gradient(#fffefe 0.5px,#fff6f6 60.5px,#ffdbdb 112.5px,#ffc4c4 131.5px,#ff9c9c 143.5px,#ff7a7a 149.5px,#ff5e5e 152.5px,#ff5050 153.5px,#ff3a3a 154.5px,#f00 155.5px,#ff1600 156.5px,#ff3d00 157.5px,#ff4c00 159.5px)"></i>
<i style="left:99px;background:linear-gradient(#fffefe 0.5px,#fff6f6 60.5px,#ffdbdb 113.5px,#ffc5c5 131.5px,#ff9f9f 143.5px,#f77 150.5px,#ff5959 153.5px,#ff4949 154.5px,#ff2c2c 155.5px,#f00 156.5px,#f40 158.5px,#ff4900 159.5px)"></i>
<i style="left:100px;background:linear-gradient(#fffefe 0.5px,#fff6f6 60.5px,#ffdcdc 113.5px,#ffc7c7 131.5px,#ff9d9d 144.5px,#ff7c7c 150.5px,#ff6161 153.5px,#ff4141 155.5px,#f00 156.5px,#ff0100 157.5px,#ff2900 158.5px,#ff4500 159.5px)"></i>
<i style="left:101px;background:linear-gradient(#fffefe 0.5px,#fff6f6 61.5px,#ffdcdc 114.5px,#ffcaca 130.5px,#ffa4a4 143.5px,#ff8181 150.5px,#ff5d5d 154.5px,#ff4f4f 155.5px,#ff3838 156.5px,#f00 157.5px,#ff0b00 158.5px,#f30 159.5px)"></i>
<i style="left:102px;background:linear-gradient(#fffefe 0.5px,#fff6f6 61.5px,#fdd 114.5px,#ffcbcb 130.5px,#ffa2a2 144.5px,#ff7e7e 151.5px,#ff6565 154.5px,#ff4949 156.5px,#ff2c2c 157.5px,#f00 158.5px,#ff1400 159.5px)"></i>
<i style="left:103px;background:linear-gradient(#fffefe 0.5px,#fff6f6 62.5px,#fdd 115.5px,#ffcbcb 131.5px,#ffa3a3 145.5px,#ff7f7f 152.5px,#ff5a5a 156.5px,#ff4b4b 157.5px,#ff3030 158.5px,#f00 159.5px)"></i>
<i style="left:104px;background:linear-gradient(#fffefe 0.5px,#fff7f7 62.5px,#ffdede 116.5px,#fcc 131.5px,#ffa5a5 145.5px,#ff8282 152.5px,#ff6060 156.5px,#ff5252 157.5px,#ff3e3e 158.5px,#f00 159.5px)"></i>
<i style="left:105px;background:linear-gradient(#fffefe 0.5px,#fff7f7 63.5px,#ffdede 117.5px,#ffcfcf 131.5px,#ffa8a8 145.5px,#ff8282 153.5px,#ff5f5f 157.5px,#ff5151 158.5px,#ff3b3b 159.5px)"></i>
<i style="left:106px;background:linear-gradient(#fffefe 0.5px,#fff7f7 64.5px,#ffdfdf 118.5px,#ffd1d1 131.5px,#ffa8a8 146.5px,#ff8181 154.5px,#ff5d5d 158.5px,#ff4e4e 159.5px)"></i>
<i style="left:107px;background:linear-gradient(#fffefe 0.5px,#fff7f7 65.5px,#ffdfdf 119.5px,#ffd2d2 131.5px,#faa 146.5px,#ff8484 154.5px,#ff6363 158.5px,#ff5656 159.5px)"></i>
<i style="left:108px;background:linear-gradient(#fffefe 0.5px,#fff7f7 66.5px,#ffe0e0 120.5px,#ffd2d2 132.5px,#faa 147.5px,#ff8484 155.5px,#ff6161 159.5px)"></i>
<i style="left:109px;background:linear-gradient(#fffefe 0.5px,#fff7f7 67.5px,#ffe1e1 121.5px,#ffd4d4 132.5px,#ffadad 147.5px,#ff8989 155.5px,#ff6b6b 159.5px)"></i>
<i style="left:110px;background:linear-gradient(#fffefe 0.5px,#fff7f7 69.5px,#ffe1e1 122.5px,#ffd4d4 133.5px,#ffadad 148.5px,#ff8989 156.5px,#ff7373 159.5px)"></i>
<i style="left:111px;background:linear-gradient(#fffefe 0.5px,#fff7f7 69.5px,#ffe2e2 123.5px,#ffd3d3 134.5px,#ffacac 149.5px,#ff8686 157.5px,#ff7878 159.5px)"></i>
<i style="left:112px;background:linear-gradient(#fffefe 0.5px,#fff7f7 70.5px,#ffe2e2 124.5px,#ffcece 137.5px,#ffa7a7 151.5px,#ff8484 158.5px,#ff7d7d 159.5px)"></i>
<i style="left:113px;background:linear-gradient(#fffefe 0.5px,#fff7f7 71.5px,#ffe3e3 124.5px,#ffcbcb 139.5px,#ffa6a6 152.5px,#ff8282 159.5px)"></i>
<i style="left:114px;background:linear-gradient(#fffefe 0.5px,#fff7f7 72.5px,#ffe3e3 125.5px,#ffc6c6 142.5px,#ffa2a2 154.5px,#ff8989 159.5px)"></i>
<i style="left:115px;background:linear-gradient(#fffefe 0.5px,#fff7f7 73.5px,#ffe3e3 126.5px,#ffc3c3 144.5px,#ff9d9d 156.5px,#ff8e8e 159.5px)"></i>
<i style="left:116px;background:linear-gradient(#fffefe 0.5px,#fff8f8 74.5px,#ffe3e3 127.5px,#ffbebe 147.5px,#ff9898 158.5px,#ff9393 159.5px)"></i>
<i style="left:117px;background:linear-gradient(#fff 0.5px,#fff7f7 76.5px,#ffe4e4 127.5px,#ffc0c0 147.5px,#ff9b9b 158.5px,#ff9696 159.5px)"></i>
<i style="left:118px;background:linear-gradient(#fff 0.5px,#fff8f8 77.5px,#ffe5e5 127.5px,#ffc2c2 147.5px,#ff9f9f 158.5px,#ff9a9a 159.5px)"></i>
<i style="left:119px;background:linear-gradient(#fff 0.5px,#fff8f8 79.5px,#ffe5e5 128.5px,#ffc2c2 148.5px,#ff9e9e 159.5px)"></i>
<i style="left:120px;background:linear-gradient(#fff 0.5px,#fff8f8 81.5px,#ffe7e7 128.5px,#ffc1c1 149.5px,#ffa1a1 159.5px)"></i>
<i style="left:121px;background:linear-gradient(#fff 0.5px,#fff8f8 83.5px,#ffe6e6 129.5px,#ffc3c3 149.5px,#ffa4a4 159.5px)"></i>
<i style="left:122px;background:linear-gradient(#fff 0.5px,#fff7f7 86.5px,#ffe8e8 129.5px,#ffc3c3 150.5px,#ffa7a7 159.5px)"></i>
<i style="left:123px;background:linear-gradient(#fff 0.5px,#fff7f7 88.5px,#ffe9e9 129.5px,#ffc5c5 150.5px,#ffabab 159.5px)"></i>
<i style="left:124px;background:linear-gradient(#fff 0.5px,#fff7f7 91.5px,#ffe8e8 130.5px,#ffc5c5 151.5px,#ffadad 159.5px)"></i>
<i style="left:125px;background:linear-gradient(#fff 0.5px,#fff7f7 93.5px,#ffe9e9 130.5px,#ffc7c7 151.5px,#ffb0b0 159.5px)"></i>
<i style="left:126px;background:linear-gradient(#fff 0.5px,#fff7f7 95.5px,#ffeaea 130.5px,#ffc9c9 151.5px,#ffb3b3 159.5px)"></i>
<i style="left:127px;background:linear-gradient(#fff 0.5px,#fff7f7 98.5px,#ffeaea 131.5px,#ffc8c8 152.5px,#ffb6b6 159.5px)"></i>
<i style="left:128px;background:linear-gradient(#fff 0.5px,#fff7f7 100.5px,#ffeaea 131.5px,#ffc8c8 153.5px,#ffb9b9 159.5px)"></i>
<i style="left:129px;background:linear-gradient(#fff 0.5px,#fff7f7 102.5px,#ffebeb 131.5px,#ffcaca 153.5px,#fbb 159.5px)"></i>
<i style="left:130px;background:linear-gradient(#fff 0.5px,#fff7f7 104.5px,#ffebeb 132.5px,#ffcaca 154.5px,#ffbebe 159.5px)"></i>
<i style="left:131px;background:linear-gradient(#fff 0.5px,#fff6f6 107.5px,#ffecec 132.5px,#fcc 154.5px,#ffc0c0 159.5px)"></i>
<i style="left:132px;background:linear-gradient(#fff 0.5px,#fff6f6 109.5px,#ffecec 132.5px,#ffcdcd 154.5px,#ffc2c2 159.5px)"></i>
<i style="left:133px;background:linear-gradient(#fff 0.5px,#fff6f6 112.5px,#ffecec 133.5px,#ffcdcd 155.5px,#ffc4c4 159.5px)"></i>
<i style="left:134px;background:linear-gradient(#fff 0.5px,#fff6f6 115.5px,#ffecec 134.5px,#fcc 156.5px,#ffc6c6 159.5px)"></i>
<i style="left:135px;background:linear-gradient(#fff 0.5px,#fff6f6 118.5px,#ffecec 135.5px,#ffcece 156.5px,#ffc7c7 159.5px)"></i>
<i style="left:136px;background:linear-gradient(#fff 0.5px,#fff6f6 120.5px,#ffeaea 138.5px,#ffcbcb 158.5px,#ffc9c9 159.5px)"></i>
<i style="left:137px;background:linear-gradient(#fff 0.5px,#fff6f6 123.5px,#ffe0e0 147.5px,#ffcbcb 159.5px)"></i>
<i style="left:138px;background:linear-gradient(#fff 0.5px,#fff6f6 126.5px,#ffdada 152.5px,#ffcdcd 159.5px)"></i>
<i style="left:139px;background:linear-gradient(#fff 0.5px,#fff6f6 127.5px,#ffdada 153.5px,#ffcfcf 159.5px)"></i>
<i style="left:140px;background:linear-gradient(#fff 0.5px,#fff6f6 128.5px,#ffdada 154.5px,#ffd1d1 159.5px)"></i>
<i style="left:141px;background:linear-gradient(#fff 0.5px,#fff7f7 128.5px,#ffdbdb 154.5px,#ffd2d2 159.5px)"></i>
<i style="left:142px;background:linear-gradient(#fff 0.5px,#fff7f7 129.5px,#ffdbdb 155.5px,#ffd4d4 159.5px)"></i>
<i style="left:143px;background:linear-gradient(#fff 0.5px,#fff7f7 130.5px,#fdd 155.5px,#ffd6d6 159.5px)"></i>
<i style="left:144px;background:linear-gradient(#fff 0.5px,#fff7f7 130.5px,#ffdfdf 155.5px,#ffd8d8 159.5px)"></i>
<i style="left:145px;background:linear-gradient(#fff 0.5px,#fff7f7 131.5px,#ffdfdf 156.5px,#ffd9d9 159.5px)"></i>
<i style="left:146px;background:linear-gradient(#fff 0.5px,#fff8f8 131.5px,#ffdfdf 157.5px,#ffdbdb 159.5px)"></i>
<i style="left:147px;background:linear-gradient(#fff 0.5px,#fff8f8 132.5px,#ffe0e0 157.5px,#fdd 159.5px)"></i>
<i style="left:148px;background:linear-gradient(#fff 0.5px,#fff8f8 132.5px,#ffe0e0 158.5px,#ffdede 159.5px)"></i>
<i style="left:149px;background:linear-gradient(#fff 0.5px,#fff8f8 133.5px,#ffe2e2 158.5px,#ffe0e0 159.5px)"></i>
<i style="left:150px;background:linear-gradient(#fff 0.5px,#fff9f9 133.5px,#ffe3e3 158.5px,#ffe2e2 159.5px)"></i>
<i style="left:151px;background:linear-gradient(#fff 0.5px,#fff9f9 133.5px,#ffe3e3 159.5px)"></i>
<i style="left:152px;background:linear-gradient(#fff 0.5px,#fff9f9 134.5px,#ffe5e5 159.5px)"></i>
<i style="left:153px;background:linear-gradient(#fff 0.5px,#fffafa 134.5px,#ffe6e6 159.5px)"></i>
<i style="left:154px;background:linear-gradient(#fff 0.5px,#fffafa 135.5px,#ffe8e8 159.5px)"></i>
<i style="left:155px;background:linear-gradient(#fff 0.5px,#fffafa 135.5px,#ffe9e9 159.5px)"></i>
<i style="left:156px;background:linear-gradient(#fff 0.5px,#fffafa 136.5px,#ffebeb 159.5px)"></i>
<i style="left:157px;background:linear-gradient(#fff 0.5px,#fffbfb 136.5px,#ffecec 159.5px)"></i>
<i style="left:158px;background:linear-gradient(#fff 0.5px,#fffbfb 137.5px,#ffeded 159.5px)"></i>
<i style="left:159px;background:linear-gradient(#fff 0.5px,#fffbfb 138.5px,#ffefef 159.5px)"></i>
<i style="left:160px;background:linear-gradient(#fff 0.5px,#fffbfb 137.5px,#fee 159.5px)"></i>
<i style="left:161px;background:linear-gradient(#fff 0.5px,#fffbfb 136.5px,#ffecec 159.5px)"></i>
<i style="left:162px;background:linear-gradient(#fff 0.5px,#fffbfb 135.5px,#ffebeb 158.5px,#ffe9e9 159.5px)"></i>
<i style="left:163px;background:linear-gradient(#fff 0.5px,#fffbfb 135.5px,#ffeaea 158.5px,#ffe9e9 159.5px)"></i>
<i style="left:164px;background:linear-gradient(#fff 0.5px,#fffbfb 136.5px,#ffecec 158.5px,#ffeaea 159.5px)"></i>
<i style="left:165px;background:linear-gradient(#fff 0.5px,#fffcfc 136.5px,#ffeded 158.5px,#ffebeb 159.5px)"></i>
<i style="left:166px;background:linear-gradient(#fff 0.5px,#fffbfb 137.5px,#ffeded 159.5px)"></i>
<i style="left:167px;background:linear-gradient(#fff 0.5px,#fffbfb 138.5px,#fee 159.5px)"></i>
<i style="left:168px;background:linear-gradient(#fff 0.5px,#fffbfb 139.5px,#fff0f0 159.5px)"></i>
<i style="left:169px;background:linear-gradient(#fff 0.5px,#fffbfb 140.5px,#fff2f2 159.5px)"></i>
<i style="left:170px;background:linear-gradient(#fff 0.5px,#fffbfb 142.5px,#fff3f3 159.5px)"></i>
<i style="left:171px;background:linear-gradient(#fff 0.5px,#fffbfb 144.5px,#fff5f5 159.5px)"></i>
<i style="left:172px;background:linear-gradient(#fff 0.5px,#fffbfb 146.5px,#fff7f7 159.5px)"></i>
<i style="left:173px;background:linear-gradient(#fff 0.5px,#fffbfb 149.5px,#fff8f8 159.5px)"></i>
<i style="left:174px;background:linear-gradient(#fff 0.5px,#fffbfb 148.5px,#fff8f8 159.5px)"></i>
<i style="left:175px;background:linear-gradient(#fff 0.5px,#fffbfb 148.5px,#fff8f8 159.5px)"></i>
<i style="left:176px;background:linear-gradient(#fff 0.5px,#fffbfb 147.5px,#fff7f7 159.5px)"></i>
<i style="left:177px;background:linear-gradient(#fff 0.5px,#fffbfb 147.5px,#fff7f7 159.5px)"></i>
<i style="left:178px;background:linear-gradient(#fff 0.5px,#fffbfb 147.5px,#fff7f7 159.5px)"></i>
<i style="left:179px;background:linear-gradient(#fff 0.5px,#fffbfb 146.5px,#fff7f7 159.5px)"></i>
<i style="left:180px;background:linear-gradient(#fff 0.5px,#fffbfb 146.5px,#fff7f7 159.5px)"></i>
<i style="left:181px;background:linear-gradient(#fff 0.5px,#fffbfb 146.5px,#fff6f6 159.5px)"></i>
<i style="left:182px;background:linear-gradient(#fff 0.5px,#fffbfb 145.5px,#fff6f6 159.5px)"></i>
<i style="left:183px;background:linear-gradient(#fff 0.5px,#fffbfb 145.5px,#fff6f6 159.5px)"></i>
<i style="left:184px;background:linear-gradient(#fff 0.5px,#fffbfb 146.5px,#fff7f7 159.5px)"></i>
<i style="left:185px;background:linear-gradient(#fff 0.5px,#fffbfb 147.5px,#fff7f7 159.5px)"></i>
<i style="left:186px;background:linear-gradient(#fff 0.5px,#fffbfb 149.5px,#fff8f8 159.5px)"></i>
<i style="left:187px;background:linear-gradient(#fff 0.5px,#fffbfb 151.5px,#fff9f9 159.5px)"></i>
<i style="left:188px;background:linear-gradient(#fff 0.5px,#fffbfb 153.5px,#fff9f9 159.5px)"></i>
<i style="left:189px;background:linear-gradient(#fff 0.5px,#fffbfb 155.5px,#fffafa 159.5px)"></i>
<i style="left:190px;background:linear-gradient(#fff 0.5px,#fffbfb 158.5px,#fffbfb 159.5px)"></i>
<i style="left:191px;background:linear-gradient(#fff 0.5px,#fffbfb 159.5px)"></i>
<i style="left:192px;background:linear-gradient(#fff 0.5px,#fffcfc 159.5px)"></i>
<i style="left:193px;background:linear-gradient(#fff 0.5px,#fffcfc 159.5px)"></i>
<i style="left:194px;background:linear-gradient(#fff 0.5px,#fffcfc 159.5px)"></i>
<i style="left:195px;background:linear-gradient(#fff 0.5px,#fffdfd 159.5px)"></i>
<i style="left:196px;background:linear-gradient(#fff 0.5px,#fffdfd 159.5px)"></i>
<i style="left:197px;background:linear-gradient(#fff 0.5px,#fffefe 159.5px)"></i>
<i style="left:198px;background:linear-gradient(#fff 0.5px,#fffefe 159.5px)"></i>
<i style="left:199px;background:linear-gradient(#fff 0.5px,#fffefe 159.5px)"></i>
<i style="left:200px;background:linear-gradient(#fff 0.5px,#fff 159.5px)"></i>
<i style="left:201px;background:linear-gradient(#fff 0.5px,#fff 159.5px)"></i>
<i style="left:202px;background:linear-gradient(#fff 0.5px,#fff 159.5px)"></i>
<i style="left:203px;background:linear-gradient(#fff 0.5px,#fff 159.5px)"></i>
<i style="left:204px;background:linear-gradient(#fff 0.5px,#fff 159.5px)"></i>
<i style="left:205px;background:linear-gradient(#fff 0.5px,#fff 159.5px)"></i>
<i style="left:206px;background:linear-gradient(#fff 0.5px,#fff 159.5px)"></i>
<i style="left:207px;background:linear-gradient(#fff 0.5px,#fff 159.5px)"></i>
</div>
<div class="h" style="left:44px;top:412px;width:239px;height:159px">
<i style="left:19px;background:linear-gradient(#ffb1b1 0.5px,#faa 83.5px,#f99 127.5px,#ff7a7a 140.5px,#ff5e5e 146.5px,#ff4646 149.5px,#ff3939 150.5px,#f00 152.5px,#f00 153.5px,#ff0b00 154.5px,#ff3a00 156.5px,#ff4500 157.5px,#ff4800 158.5px)"></i>
<i style="left:20px;background:linear-gradient(#ffb4b4 0.5px,#ffacac 85.5px,#ff9d9d 127.5px,#ff7c7c 141.5px,#ff5d5d 148.5px,#ff4242 151.5px,#ff3232 152.5px,#f00 153.5px,#f00 155.5px,#f40 158.5px)"></i>
<i style="left:21px;background:linear-gradient(#ffb6b6 0.5px,#ffaeae 88.5px,#ff9f9f 128.5px,#ff7f7f 142.5px,#ff6161 149.5px,#ff4a4a 152.5px,#ff3e3e 153.5px,#ff2929 154.5px,#f00 155.5px,#f00 156.5px,#ff0800 157.5px,#ff2000 158.5px)"></i>
<i style="left:22px;background:linear-gradient(#ffb8b8 0.5px,#ffb1b1 90.5px,#ffa2a2 128.5px,#ff8282 143.5px,#f66 150.5px,#ff4646 154.5px,#ff3838 155.5px,#ff1515 156.5px,#f00 157.5px,#f00 158.5px)"></i>
<i style="left:23px;background:linear-gradient(#fbb 0.5px,#ffb3b3 92.5px,#ffa6a6 128.5px,#ff8585 144.5px,#ff6464 152.5px,#ff4e4e 155.5px,#ff4242 156.5px,#ff3030 157.5px,#f00 158.5px)"></i>
<i style="left:24px;background:linear-gradient(#ffbdbd 0.5px,#ffb5b5 95.5px,#ffa7a7 129.5px,#ff8787 145.5px,#ff6868 153.5px,#ff4a4a 157.5px,#ff3d3d 158.5px)"></i>
<i style="left:25px;background:linear-gradient(#ffbfbf 0.5px,#ffb7b7 97.5px,#faa 129.5px,#ff8a8a 146.5px,#ff6c6c 154.5px,#ff5151 158.5px)"></i>
<i style="left:26px;background:linear-gradient(#ffc1c1 0.5px,#ffb9b9 100.5px,#ffaeae 129.5px,#ff8f8f 146.5px,#ff6f6f 155.5px,#ff5d5d 158.5px)"></i>
<i style="left:27px;background:linear-gradient(#ffc3c3 0.5px,#fbb 102.5px,#ffb0b0 129.5px,#ff9191 147.5px,#ff7272 156.5px,#ff6767 158.5px)"></i>
<i style="left:28px;background:linear-gradient(#ffc5c5 0.5px,#ffbcbc 105.5px,#ffb2b2 130.5px,#ff9393 148.5px,#ff7474 157.5px,#ff6f6f 158.5px)"></i>
<i style="left:29px;background:linear-gradient(#ffc7c7 0.5px,#ffbebe 107.5px,#ffb5b5 130.5px,#ff9595 149.5px,#ff7676 158.5px)"></i>
<i style="left:30px;background:linear-gradient(#ffc9c9 0.5px,#ffc0c0 109.5px,#ffb7b7 130.5px,#f99 149.5px,#ff7d7d 158.5px)"></i>
<i style="left:31px;background:linear-gradient(#ffcbcb 0.5px,#ffc1c1 111.5px,#ffb8b8 131.5px,#ff9a9a 150.5px,#ff8383 158.5px)"></i>
<i style="left:32px;background:linear-gradient(#fcc 0.5px,#ffc3c3 113.5px,#ffbaba 132.5px,#ff9a9a 152.5px,#ff8989 158.5px)"></i>
<i style="left:33px;background:linear-gradient(#ffcece 0.5px,#ffc5c5 114.5px,#ffbcbc 132.5px,#ff9d9d 152.5px,#ff8e8e 158.5px)"></i>
<i style="left:34px;background:linear-gradient(#ffd0d0 0.5px,#ffc6c6 116.5px,#ffbdbd 133.5px,#ff9e9e 153.5px,#ff9191 158.5px)"></i>
<i style="left:35px;background:linear-gradient(#ffd1d1 0.5px,#ffc8c8 117.5px,#ffbebe 134.5px,#ff9f9f 154.5px,#ff9595 158.5px)"></i>
<i style="left:36px;background:linear-gradient(#ffd3d3 0.5px,#ffc9c9 119.5px,#ffbebe 136.5px,#ffa0a0 155.5px,#ff9898 158.5px)"></i>
<i style="left:37px;background:linear-gradient(#ffd4d4 0.5px,#ffcbcb 120.5px,#ffbebe 138.5px,#ffa1a1 156.5px,#ff9b9b 158.5px)"></i>
<i style="left:38px;background:linear-gradient(#ffd6d6 0.5px,#fcc 122.5px,#ffb9b9 144.5px,#ff9f9f 158.5px)"></i>
<i style="left:39px;background:linear-gradient(#ffd7d7 0.5px,#ffcece 123.5px,#ffb8b8 146.5px,#ffa2a2 158.5px)"></i>
<i style="left:40px;background:linear-gradient(#ffd8d8 0.5px,#ffcfcf 125.5px,#ffb4b4 150.5px,#ffa5a5 158.5px)"></i>
<i style="left:41px;background:linear-gradient(#ffd9d9 0.5px,#ffd0d0 126.5px,#ffb4b4 151.5px,#ffa6a6 158.5px)"></i>
<i style="left:42px;background:linear-gradient(#ffdada 0.5px,#ffd1d1 126.5px,#ffb5b5 151.5px,#ffa7a7 158.5px)"></i>
<i style="left:43px;background:linear-gradient(#ffdbdb 0.5px,#ffd2d2 127.5px,#ffb5b5 152.5px,#ffa8a8 158.5px)"></i>
<i style="left:44px;background:linear-gradient(#fdd 0.5px,#ffd3d3 127.5px,#ffb8b8 151.5px,#ffa9a9 158.5px)"></i>
<i style="left:45px;background:linear-gradient(#ffdede 0.5px,#ffd5d5 127.5px,#ffb9b9 151.5px,#faa 158.5px)"></i>
<i style="left:46px;background:linear-gradient(#ffdfdf 0.5px,#ffd6d6 127.5px,#ffbaba 151.5px,#ffabab 158.5px)"></i>
<i style="left:47px;background:linear-gradient(#ffe0e0 0.5px,#ffd7d7 128.5px,#fbb 151.5px,#ffacac 158.5px)"></i>
<i style="left:48px;background:linear-gradient(#ffe1e1 0.5px,#ffd8d8 128.5px,#ffbdbd 151.5px,#ffadad 158.5px)"></i>
<i style="left:49px;background:linear-gradient(#ffe2e2 0.5px,#ffd9d9 128.5px,#ffbebe 151.5px,#ffaeae 158.5px)"></i>
<i style="left:50px;background:linear-gradient(#ffe3e3 0.5px,#ffdada 128.5px,#ffbfbf 151.5px,#ffafaf 158.5px)"></i>
<i style="left:51px;background:linear-gradient(#ffe3e3 0.5px,#ffdbdb 128.5px,#ffc0c0 151.5px,#ffb0b0 158.5px)"></i>
<i style="left:52px;background:linear-gradient(#ffe4e4 0.5px,#ffdcdc 128.5px,#ffc1c1 151.5px,#ffb1b1 158.5px)"></i>
<i style="left:53px;background:linear-gradient(#ffe4e4 0.5px,#fdd 128.5px,#ffc2c2 151.5px,#ffb2b2 158.5px)"></i>
<i style="left:54px;background:linear-gradient(#ffe5e5 0.5px,#fdd 129.5px,#ffc1c1 152.5px,#ffb3b3 158.5px)"></i>
<i style="left:55px;background:linear-gradient(#ffe6e6 0.5px,#fdd 129.5px,#ffc2c2 152.5px,#ffb4b4 158.5px)"></i>
<i style="left:56px;background:linear-gradient(#ffe6e6 0.5px,#ffdede 129.5px,#ffc3c3 152.5px,#ffb5b5 158.5px)"></i>
<i style="left:57px;background:linear-gradient(#ffe7e7 0.5px,#ffdfdf 129.5px,#ffc4c4 152.5px,#ffb7b7 158.5px)"></i>
<i style="left:58px;background:linear-gradient(#ffe8e8 0.5px,#ffe0e0 129.5px,#ffc5c5 152.5px,#ffb9b9 158.5px)"></i>
<i style="left:59px;background:linear-gradient(#ffe8e8 0.5px,#ffe0e0 129.5px,#ffc5c5 153.5px,#fbb 158.5px)"></i>
<i style="left:60px;background:linear-gradient(#ffe9e9 0.5px,#ffe1e1 129.5px,#ffc7c7 153.5px,#ffbdbd 158.5px)"></i>
<i style="left:61px;background:linear-gradient(#ffe9e9 0.5px,#ffe2e2 129.5px,#ffc8c8 153.5px,#ffbebe 158.5px)"></i>
<i style="left:62px;background:linear-gradient(#ffeaea 0.5px,#ffe2e2 130.5px,#ffc8c8 154.5px,#ffc0c0 158.5px)"></i>
<i style="left:63px;background:linear-gradient(#ffeaea 0.5px,#ffe2e2 130.5px,#ffc9c9 154.5px,#ffc2c2 158.5px)"></i>
<i style="left:64px;background:linear-gradient(#ffebeb 0.5px,#ffe3e3 130.5px,#ffc9c9 155.5px,#ffc4c4 158.5px)"></i>
<i style="left:65px;background:linear-gradient(#ffebeb 0.5px,#ffe4e4 130.5px,#ffcbcb 155.5px,#ffc6c6 158.5px)"></i>
<i style="left:66px;background:linear-gradient(#ffecec 0.5px,#ffe4e4 130.5px,#ffcbcb 156.5px,#ffc8c8 158.5px)"></i>
<i style="left:67px;background:linear-gradient(#ffecec 0.5px,#ffe4e4 131.5px,#ffcbcb 157.5px,#ffcaca 158.5px)"></i>
<i style="left:68px;background:linear-gradient(#ffecec 0.5px,#ffe5e5 131.5px,#ffcdcd 157.5px,#fcc 158.5px)"></i>
<i style="left:69px;background:linear-gradient(#ffeded 0.5px,#ffe6e6 131.5px,#ffcece 158.5px)"></i>
<i style="left:70px;background:linear-gradient(#ffeded 0.5px,#ffe6e6 132.5px,#ffcfcf 158.5px)"></i>
<i style="left:71px;background:linear-gradient(#fee 0.5px,#ffe7e7 132.5px,#ffd1d1 158.5px)"></i>
<i style="left:72px;background:linear-gradient(#fee 0.5px,#ffe7e7 132.5px,#ffd3d3 158.5px)"></i>
<i style="left:73px;background:linear-gradient(#ffefef 0.5px,#ffe7e7 133.5px,#ffd4d4 158.5px)"></i>
<i style="left:74px;background:linear-gradient(#ffefef 0.5px,#ffe8e8 133.5px,#ffd5d5 158.5px)"></i>
<i style="left:75px;background:linear-gradient(#ffefef 0.5px,#ffe9e9 133.5px,#ffd6d6 158.5px)"></i>
<i style="left:76px;background:linear-gradient(#fff0f0 0.5px,#ffe9e9 133.5px,#ffd7d7 158.5px)"></i>
<i style="left:77px;background:linear-gradient(#fff0f0 0.5px,#ffeaea 133.5px,#ffd8d8 158.5px)"></i>
<i style="left:78px;background:linear-gradient(#fff1f1 0.5px,#ffeaea 134.5px,#ffd9d9 158.5px)"></i>
<i style="left:79px;background:linear-gradient(#fff1f1 0.5px,#ffeaea 134.5px,#ffdada 158.5px)"></i>
<i style="left:80px;background:linear-gradient(#fff1f1 0.5px,#ffebeb 134.5px,#ffdcdc 158.5px)"></i>
<i style="left:81px;background:linear-gradient(#fff1f1 0.5px,#ffebeb 135.5px,#fdd 158.5px)"></i>
<i style="left:82px;background:linear-gradient(#fff2f2 0.5px,#ffebeb 135.5px,#fdd 158.5px)"></i>
<i style="left:83px;background:linear-gradient(#fff2f2 0.5px,#ffecec 135.5px,#ffdede 158.5px)"></i>
<i style="left:84px;background:linear-gradient(#fff2f2 0.5px,#ffecec 135.5px,#ffdfdf 158.5px)"></i>
<i style="left:85px;background:linear-gradient(#fff2f2 0.5px,#ffecec 136.5px,#ffe0e0 158.5px)"></i>
<i style="left:86px;background:linear-gradient(#fff3f3 0.5px,#ffeded 136.5px,#ffe0e0 158.5px)"></i>
<i style="left:87px;background:linear-gradient(#fff3f3 0.5px,#ffeded 136.5px,#ffe1e1 158.5px)"></i>
<i style="left:88px;background:linear-gradient(#fff3f3 0.5px,#ffeded 136.5px,#ffe2e2 158.5px)"></i>
<i style="left:89px;background:linear-gradient(#fff3f3 0.5px,#fee 137.5px,#ffe3e3 158.5px)"></i>
<i style="left:90px;background:linear-gradient(#fff4f4 0.5px,#fee 137.5px,#ffe4e4 158.5px)"></i>
<i style="left:91px;background:linear-gradient(#fff4f4 0.5px,#fee 137.5px,#ffe4e4 158.5px)"></i>
<i style="left:92px;background:linear-gradient(#fff4f4 0.5px,#fee 138.5px,#ffe5e5 158.5px)"></i>
<i style="left:93px;background:linear-gradient(#fff4f4 0.5px,#ffefef 138.5px,#ffe6e6 158.5px)"></i>
<i style="left:94px;background:linear-gradient(#fff5f5 0.5px,#ffefef 138.5px,#ffe7e7 158.5px)"></i>
<i style="left:95px;background:linear-gradient(#fff5f5 0.5px,#ffefef 139.5px,#ffe7e7 158.5px)"></i>
<i style="left:96px;background:linear-gradient(#fff5f5 0.5px,#fff0f0 139.5px,#ffe8e8 158.5px)"></i>
<i style="left:97px;background:linear-gradient(#fff5f5 0.5px,#fff0f0 139.5px,#ffe9e9 158.5px)"></i>
<i style="left:98px;background:linear-gradient(#fff5f5 0.5px,#fff0f0 140.5px,#ffeaea 158.5px)"></i>
<i style="left:99px;background:linear-gradient(#fff6f6 0.5px,#fff0f0 141.5px,#ffeaea 158.5px)"></i>
<i style="left:100px;background:linear-gradient(#fff6f6 0.5px,#fff0f0 142.5px,#ffebeb 158.5px)"></i>
<i style="left:101px;background:linear-gradient(#fff6f6 0.5px,#fff1f1 142.5px,#ffecec 158.5px)"></i>
<i style="left:102px;background:linear-gradient(#fff6f6 0.5px,#fff1f1 143.5px,#ffecec 158.5px)"></i>
<i style="left:103px;background:linear-gradient(#fff6f6 0.5px,#fff1f1 144.5px,#ffeded 158.5px)"></i>
<i style="left:104px;background:linear-gradient(#fff6f6 0.5px,#fff1f1 144.5px,#ffeded 158.5px)"></i>
<i style="left:105px;background:linear-gradient(#fff6f6 0.5px,#fff1f1 145.5px,#fee 158.5px)"></i>
<i style="left:106px;background:linear-gradient(#fff7f7 0.5px,#fff1f1 146.5px,#fee 158.5px)"></i>
<i style="left:107px;background:linear-gradient(#fff7f7 0.5px,#fff1f1 147.5px,#ffefef 158.5px)"></i>
<i style="left:108px;background:linear-gradient(#fff7f7 0.5px,#fff1f1 148.5px,#ffefef 158.5px)"></i>
<i style="left:109px;background:linear-gradient(#fff7f7 0.5px,#fff2f2 149.5px,#ffefef 158.5px)"></i>
<i style="left:110px;background:linear-gradient(#fff7f7 0.5px,#fff2f2 150.5px,#fff0f0 158.5px)"></i>
<i style="left:111px;background:linear-gradient(#fff7f7 0.5px,#fff2f2 151.5px,#fff0f0 158.5px)"></i>
<i style="left:112px;background:linear-gradient(#fff7f7 0.5px,#fff2f2 152.5px,#fff1f1 158.5px)"></i>
<i style="left:113px;background:linear-gradient(#fff8f8 0.5px,#fff2f2 153.5px,#fff1f1 158.5px)"></i>
<i style="left:114px;background:linear-gradient(#fff8f8 0.5px,#fff2f2 155.5px,#fff1f1 158.5px)"></i>
<i style="left:115px;background:linear-gradient(#fff8f8 0.5px,#fff2f2 156.5px,#fff2f2 158.5px)"></i>
<i style="left:116px;background:linear-gradient(#fff8f8 0.5px,#fff2f2 158.5px)"></i>
<i style="left:117px;background:linear-gradient(#fff8f8 0.5px,#fff3f3 158.5px)"></i>
<i style="left:118px;background:linear-gradient(#fff8f8 0.5px,#fff3f3 158.5px)"></i>
<i style="left:119px;background:linear-gradient(#fff8f8 0.5px,#fff3f3 158.5px)"></i>
<i style="left:120px;background:linear-gradient(#fff9f9 0.5px,#fff4f4 158.5px)"></i>
<i style="left:121px;background:linear-gradient(#fff9f9 0.5px,#fff4f4 158.5px)"></i>
<i style="left:122px;background:linear-gradient(#fff9f9 0.5px,#fff4f4 158.5px)"></i>
<i style="left:123px;background:linear-gradient(#fff9f9 0.5px,#fff4f4 158.5px)"></i>
<i style="left:124px;background:linear-gradient(#fff9f9 0.5px,#fff4f4 158.5px)"></i>
<i style="left:125px;background:linear-gradient(#fff9f9 0.5px,#fff5f5 158.5px)"></i>
<i style="left:126px;background:linear-gradient(#fff9f9 0.5px,#fff5f5 158.5px)"></i>
<i style="left:127px;background:linear-gradient(#fff9f9 0.5px,#fff5f5 158.5px)"></i>
<i style="left:128px;background:linear-gradient(#fff9f9 0.5px,#fff5f5 158.5px)"></i>
<i style="left:129px;background:linear-gradient(#fff9f9 0.5px,#fff5f5 158.5px)"></i>
<i style="left:130px;background:linear-gradient(#fffafa 0.5px,#fff5f5 158.5px)"></i>
<i style="left:131px;background:linear-gradient(#fffafa 0.5px,#fff6f6 158.5px)"></i>
<i style="left:132px;background:linear-gradient(#fffafa 0.5px,#fff6f6 158.5px)"></i>
<i style="left:133px;background:linear-gradient(#fffafa 0.5px,#fff6f6 158.5px)"></i>
<i style="left:134px;background:linear-gradient(#fffafa 0.5px,#fff6f6 158.5px)"></i>
<i style="left:135px;background:linear-gradient(#fffafa 0.5px,#fff6f6 158.5px)"></i>
<i style="left:136px;background:linear-gradient(#fffafa 0.5px,#fff7f7 158.5px)"></i>
<i style="left:137px;background:linear-gradient(#fffafa 0.5px,#fff7f7 158.5px)"></i>
<i style="left:138px;background:linear-gradient(#fffafa 0.5px,#fff7f7 158.5px)"></i>
<i style="left:139px;background:linear-gradient(#fffafa 0.5px,#fff7f7 158.5px)"></i>
<i style="left:140px;background:linear-gradient(#fffafa 0.5px,#fff7f7 158.5px)"></i>
<i style="left:141px;background:linear-gradient(#fffbfb 0.5px,#fff7f7 158.5px)"></i>
<i style="left:142px;background:linear-gradient(#fffbfb 0.5px,#fff8f8 158.5px)"></i>
<i style="left:143px;background:linear-gradient(#fffbfb 0.5px,#fff8f8 158.5px)"></i>
<i style="left:144px;background:linear-gradient(#fffbfb 0.5px,#fff8f8 158.5px)"></i>
<i style="left:145px;background:linear-gradient(#fffbfb 0.5px,#fff8f8 158.5px)"></i>
<i style="left:146px;background:linear-gradient(#fffbfb 0.5px,#fff8f8 158.5px)"></i>
<i style="left:147px;background:linear-gradient(#fffbfb 0.5px,#fff9f9 158.5px)"></i>
<i style="left:148px;background:linear-gradient(#fffbfb 0.5px,#fff9f9 158.5px)"></i>
<i style="left:149px;background:linear-gradient(#fffbfb 0.5px,#fff9f9 158.5px)"></i>
<i style="left:150px;background:linear-gradient(#fffbfb 0.5px,#fff9f9 158.5px)"></i>
<i style="left:151px;background:linear-gradient(#fffcfc 0.5px,#fff9f9 158.5px)"></i>
<i style="left:152px;background:linear-gradient(#fffcfc 0.5px,#fff9f9 158.5px)"></i>
<i style="left:153px;background:linear-gradient(#fffcfc 0.5px,#fffafa 158.5px)"></i>
<i style="left:154px;background:linear-gradient(#fffcfc 0.5px,#fffafa 158.5px)"></i>
<i style="left:155px;background:linear-gradient(#fffcfc 0.5px,#fffafa 158.5px)"></i>
<i style="left:156px;background:linear-gradient(#fffcfc 0.5px,#fffafa 158.5px)"></i>
<i style="left:157px;background:linear-gradient(#fffcfc 0.5px,#fffafa 158.5px)"></i>
<i style="left:158px;background:linear-gradient(#fffcfc 0.5px,#fffafa 158.5px)"></i>
<i style="left:159px;background:linear-gradient(#fffcfc 0.5px,#fffafa 158.5px)"></i>
<i style="left:160px;background:linear-gradient(#fffcfc 0.5px,#fffafa 158.5px)"></i>
<i style="left:161px;background:linear-gradient(#fffcfc 0.5px,#fffafa 158.5px)"></i>
<i style="left:162px;background:linear-gradient(#fffcfc 0.5px,#fffafa 158.5px)"></i>
<i style="left:163px;background:linear-gradient(#fffcfc 0.5px,#fffafa 158.5px)"></i>
<i style="left:164px;background:linear-gradient(#fffcfc 0.5px,#fffafa 158.5px)"></i>
<i style="left:165px;background:linear-gradient(#fffcfc 0.5px,#fffbfb 158.5px)"></i>
<i style="left:166px;background:linear-gradient(#fffcfc 0.5px,#fffbfb 158.5px)"></i>
<i style="left:167px;background:linear-gradient(#fffcfc 0.5px,#fffbfb 158.5px)"></i>
<i style="left:168px;background:linear-gradient(#fffcfc 0.5px,#fffbfb 158.5px)"></i>
<i style="left:169px;background:linear-gradient(#fffcfc 0.5px,#fffbfb 158.5px)"></i>
<i style="left:170px;background:linear-gradient(#fffcfc 0.5px,#fffbfb 158.5px)"></i>
<i style="left:171px;background:linear-gradient(#fffcfc 0.5px,#fffbfb 158.5px)"></i>
<i style="left:172px;background:linear-gradient(#fffcfc 0.5px,#fffbfb 158.5px)"></i>
<i style="left:173px;background:linear-gradient(#fffcfc 0.5px,#fffbfb 158.5px)"></i>
<i style="left:174px;background:linear-gradient(#fffcfc 0.5px,#fffbfb 158.5px)"></i>
<i style="left:175px;background:linear-gradient(#fffcfc 0.5px,#fffbfb 158.5px)"></i>
<i style="left:176px;background:linear-gradient(#fffcfc 0.5px,#fffbfb 158.5px)"></i>
<i style="left:177px;background:linear-gradient(#fffcfc 0.5px,#fffbfb 158.5px)"></i>
<i style="left:178px;background:linear-gradient(#fffcfc 0.5px,#fffbfb 158.5px)"></i>
<i style="left:179px;background:linear-gradient(#fffcfc 0.5px,#fffbfb 158.5px)"></i>
<i style="left:180px;background:linear-gradient(#fffcfc 0.5px,#fffbfb 158.5px)"></i>
<i style="left:181px;background:linear-gradient(#fffcfc 0.5px,#fffbfb 158.5px)"></i>
<i style="left:182px;background:linear-gradient(#fffcfc 0.5px,#fffbfb 158.5px)"></i>
<i style="left:183px;background:linear-gradient(#fffcfc 0.5px,#fffbfb 158.5px)"></i>
<i style="left:184px;background:linear-gradient(#fffcfc 0.5px,#fffbfb 158.5px)"></i>
<i style="left:185px;background:linear-gradient(#fffcfc 0.5px,#fffbfb 158.5px)"></i>
<i style="left:186px;background:linear-gradient(#fffcfc 0.5px,#fffcfc 158.5px)"></i>
<i style="left:187px;background:linear-gradient(#fffcfc 0.5px,#fffcfc 158.5px)"></i>
<i style="left:188px;background:linear-gradient(#fffcfc 0.5px,#fffcfc 158.5px)"></i>
<i style="left:189px;background:linear-gradient(#fffcfc 0.5px,#fffcfc 158.5px)"></i>
<i style="left:190px;background:linear-gradient(#fffcfc 0.5px,#fffcfc 158.5px)"></i>
<i style="left:191px;background:linear-gradient(#fffcfc 0.5px,#fffcfc 158.5px)"></i>
<i style="left:192px;background:linear-gradient(#fffcfc 0.5px,#fffcfc 158.5px)"></i>
<i style="left:193px;background:linear-gradient(#fffcfc 0.5px,#fffcfc 158.5px)"></i>
<i style="left:194px;background:linear-gradient(#fffcfc 0.5px,#fffcfc 158.5px)"></i>
<i style="left:195px;background:linear-gradient(#fffcfc 0.5px,#fffcfc 158.5px)"></i>
<i style="left:196px;background:linear-gradient(#fffcfc 0.5px,#fffcfc 158.5px)"></i>
<i style="left:197px;background:linear-gradient(#fffcfc 0.5px,#fffcfc 158.5px)"></i>
<i style="left:198px;background:linear-gradient(#fffdfd 0.5px,#fffcfc 158.5px)"></i>
<i style="left:199px;background:linear-gradient(#fffdfd 0.5px,#fffcfc 158.5px)"></i>
<i style="left:200px;background:linear-gradient(#fffdfd 0.5px,#fffcfc 158.5px)"></i>
<i style="left:201px;background:linear-gradient(#fffdfd 0.5px,#fffcfc 158.5px)"></i>
<i style="left:202px;background:linear-gradient(#fffdfd 0.5px,#fffcfc 158.5px)"></i>
<i style="left:203px;background:linear-gradient(#fffdfd 0.5px,#fffcfc 158.5px)"></i>
<i style="left:204px;background:linear-gradient(#fffdfd 0.5px,#fffcfc 158.5px)"></i>
<i style="left:205px;background:linear-gradient(#fffdfd 0.5px,#fffcfc 158.5px)"></i>
<i style="left:206px;background:linear-gradient(#fffdfd 0.5px,#fffcfc 158.5px)"></i>
<i style="left:207px;background:linear-gradient(#fffdfd 0.5px,#fffdfd 158.5px)"></i>
<i style="left:208px;background:linear-gradient(#fffdfd 0.5px,#fffdfd 158.5px)"></i>
<i style="left:209px;background:linear-gradient(#fffdfd 0.5px,#fffdfd 158.5px)"></i>
</div>
<div class="h" style="left:296px;top:412px;width:239px;height:159px">
<i style="left:44px;background:#fffb00"></i>
<i style="left:45px;background:#fff900"></i>
<i style="left:46px;background:#fff600"></i>
<i style="left:47px;background:#fff300"></i>
<i style="left:48px;background:#fff000"></i>
<i style="left:49px;background:#ffed00"></i>
<i style="left:50px;background:#ffea00"></i>
<i style="left:51px;background:#ffe600"></i>
<i style="left:52px;background:#ffe300"></i>
<i style="left:53px;background:#ffe000"></i>
<i style="left:54px;background:#fd0"></i>
<i style="left:55px;background:#ffdb00"></i>
<i style="left:56px;background:#ffd900"></i>
<i style="left:57px;background:#ffd700"></i>
<i style="left:58px;background:#ffd500"></i>
<i style="left:59px;background:#ffd300"></i>
<i style="left:60px;background:#ffd100"></i>
<i style="left:61px;background:#ffcf00"></i>
<i style="left:62px;background:#ffcd00"></i>
<i style="left:63px;background:#ffcb00"></i>
<i style="left:64px;background:#ffc900"></i>
<i style="left:65px;background:#ffc700"></i>
<i style="left:66px;background:#ffc500"></i>
<i style="left:67px;background:#ffc200"></i>
<i style="left:68px;background:#ffc000"></i>
<i style="left:69px;background:#ffbd00"></i>
<i style="left:70px;background:#ffba00"></i>
<i style="left:71px;background:#ffb800"></i>
<i style="left:72px;background:#ffb500"></i>
<i style="left:73px;background:#ffb300"></i>
<i style="left:74px;background:#ffb000"></i>
<i style="left:75px;background:#ffae00"></i>
<i style="left:76px;background:#ffab00"></i>
<i style="left:77px;background:#ffa800"></i>
<i style="left:78px;background:#ffa500"></i>
<i style="left:79px;background:#ffa200"></i>
<i style="left:80px;background:#ff9f00"></i>
<i style="left:81px;background:#ff9b00"></i>
<i style="left:82px;background:#ff9700"></i>
<i style="left:83px;background:#ff9400"></i>
<i style="left:84px;background:#ff9000"></i>
<i style="left:85px;background:#ff8d00"></i>
<i style="left:86px;background:#ff8900"></i>
<i style="left:87px;background:#ff8500"></i>
<i style="left:88px;background:#ff8200"></i>
<i style="left:89px;background:#ff7e00"></i>
<i style="left:90px;background:#ff7a00"></i>
<i style="left:91px;background:#f70"></i>
<i style="left:92px;background:#ff7300"></i>
<i style="left:93px;background:#ff7000"></i>
<i style="left:94px;background:#ff6c00"></i>
<i style="left:95px;background:#ff6700"></i>
<i style="left:96px;background:#ff6300"></i>
<i style="left:97px;background:#ff5e00"></i>
<i style="left:98px;background:#ff5a00"></i>
<i style="left:99px;background:#f50"></i>
<i style="left:100px;background:#ff5100"></i>
<i style="left:101px;background:#ff4c00"></i>
<i style="left:102px;background:#ff4800"></i>
<i style="left:103px;background:#f40"></i>
<i style="left:104px;background:#ff2700"></i>
<i style="left:105px;background:#ff0800"></i>
<i style="left:106px;background:#ff1919"></i>
<i style="left:107px;background:#ff3737"></i>
<i style="left:108px;background:#ff4646"></i>
<i style="left:109px;background:#ff5050"></i>
<i style="left:110px;background:#ff5959"></i>
<i style="left:111px;background:#ff6060"></i>
<i style="left:112px;background:#f66"></i>
<i style="left:113px;background:#ff6c6c"></i>
<i style="left:114px;background:#ff7171"></i>
<i style="left:115px;background:#ff7676"></i>
<i style="left:116px;background:#ff7a7a"></i>
<i style="left:117px;background:#ff7e7e"></i>
<i style="left:118px;background:#ff8282"></i>
<i style="left:119px;background:#ff8686"></i>
<i style="left:120px;background:#ff8989"></i>
<i style="left:121px;background:#ff8d8d"></i>
<i style="left:122px;background:#ff9090"></i>
<i style="left:123px;background:#ff9393"></i>
<i style="left:124px;background:#ff9696"></i>
<i style="left:125px;background:#f99"></i>
<i style="left:126px;background:#ff9c9c"></i>
<i style="left:127px;background:#ff9e9e"></i>
<i style="left:128px;background:#ffa1a1"></i>
<i style="left:129px;background:#ffa4a4"></i>
<i style="left:130px;background:#ffa6a6"></i>
<i style="left:131px;background:#ffa8a8"></i>
<i style="left:132px;background:#ffabab"></i>
<i style="left:133px;background:#ffadad"></i>
<i style="left:134px;background:#ffafaf"></i>
<i style="left:135px;background:#ffb1b1"></i>
<i style="left:136px;background:#ffb3b3"></i>
<i style="left:137px;background:#ffb5b5"></i>
<i style="left:138px;background:#ffb6b6"></i>
<i style="left:139px;background:#ffb8b8"></i>
<i style="left:140px;background:#ffbaba"></i>
<i style="left:141px;background:#ffbcbc"></i>
<i style="left:142px;background:#ffbdbd"></i>
<i style="left:143px;background:#ffbebe"></i>
<i style="left:144px;background:#ffbfbf"></i>
<i style="left:145px;background:#ffc0c0"></i>
<i style="left:146px;background:#ffc2c2"></i>
<i style="left:147px;background:#ffc3c3"></i>
<i style="left:148px;background:#ffc4c4"></i>
<i style="left:149px;background:#ffc6c6"></i>
<i style="left:150px;background:#ffc7c7"></i>
<i style="left:151px;background:#ffc9c9"></i>
<i style="left:152px;background:#ffcaca"></i>
<i style="left:153px;background:#fcc"></i>
<i style="left:154px;background:#ffcdcd"></i>
<i style="left:155px;background:#ffcfcf"></i>
<i style="left:156px;background:#ffcece"></i>
<i style="left:157px;background:#ffcece"></i>
<i style="left:158px;background:#ffcfcf"></i>
<i style="left:159px;background:#ffd3d3"></i>
<i style="left:160px;background:#ffd7d7"></i>
<i style="left:161px;background:#ffdada"></i>
<i style="left:162px;background:#fdd"></i>
<i style="left:163px;background:#ffdede"></i>
<i style="left:164px;background:#ffdcdc"></i>
<i style="left:165px;background:#ffdbdb"></i>
<i style="left:166px;background:#ffe0e0"></i>
<i style="left:167px;background:#ffe2e2"></i>
<i style="left:168px;background:#ffe0e0"></i>
</div>
<svg width="617" height="610" viewBox="0 0 617 610">
<defs><clipPath id="clipa"><rect x="44" y="3" width="239" height="99.9"/></clipPath></defs>
<line x1="78.58" y1="3.95" x2="78.58" y2="5.95" stroke="#000" stroke-width="1.3"/>
<line x1="78.58" y1="102.90" x2="78.58" y2="100.90" stroke="#000" stroke-width="1.3"/>
<line x1="98.78" y1="3.95" x2="98.78" y2="5.95" stroke="#000" stroke-width="1.3"/>
<line x1="98.78" y1="102.90" x2="98.78" y2="100.90" stroke="#000" stroke-width="1.3"/>
<line x1="113.11" y1="3.95" x2="113.11" y2="5.95" stroke="#000" stroke-width="1.3"/>
<line x1="113.11" y1="102.90" x2="113.11" y2="100.90" stroke="#000" stroke-width="1.3"/>
<line x1="124.22" y1="3.95" x2="124.22" y2="5.95" stroke="#000" stroke-width="1.3"/>
<line x1="124.22" y1="102.90" x2="124.22" y2="100.90" stroke="#000" stroke-width="1.3"/>
<line x1="133.30" y1="3.95" x2="133.30" y2="5.95" stroke="#000" stroke-width="1.3"/>
<line x1="133.30" y1="102.90" x2="133.30" y2="100.90" stroke="#000" stroke-width="1.3"/>
<line x1="140.98" y1="3.95" x2="140.98" y2="5.95" stroke="#000" stroke-width="1.3"/>
<line x1="140.98" y1="102.90" x2="140.98" y2="100.90" stroke="#000" stroke-width="1.3"/>
<line x1="147.63" y1="3.95" x2="147.63" y2="5.95" stroke="#000" stroke-width="1.3"/>
<line x1="147.63" y1="102.90" x2="147.63" y2="100.90" stroke="#000" stroke-width="1.3"/>
<line x1="153.50" y1="3.95" x2="153.50" y2="5.95" stroke="#000" stroke-width="1.3"/>
<line x1="153.50" y1="102.90" x2="153.50" y2="100.90" stroke="#000" stroke-width="1.3"/>
<line x1="158.75" y1="3.95" x2="158.75" y2="7.95" stroke="#000" stroke-width="1.3"/>
<line x1="158.75" y1="102.90" x2="158.75" y2="98.90" stroke="#000" stroke-width="1.3"/>
<line x1="193.28" y1="3.95" x2="193.28" y2="5.95" stroke="#000" stroke-width="1.3"/>
<line x1="193.28" y1="102.90" x2="193.28" y2="100.90" stroke="#000" stroke-width="1.3"/>
<line x1="213.48" y1="3.95" x2="213.48" y2="5.95" stroke="#000" stroke-width="1.3"/>
<line x1="213.48" y1="102.90" x2="213.48" y2="100.90" stroke="#000" stroke-width="1.3"/>
<line x1="227.81" y1="3.95" x2="227.81" y2="5.95" stroke="#000" stroke-width="1.3"/>
<line x1="227.81" y1="102.90" x2="227.81" y2="100.90" stroke="#000" stroke-width="1.3"/>
<line x1="238.92" y1="3.95" x2="238.92" y2="5.95" stroke="#000" stroke-width="1.3"/>
<line x1="238.92" y1="102.90" x2="238.92" y2="100.90" stroke="#000" stroke-width="1.3"/>
<line x1="248.00" y1="3.95" x2="248.00" y2="5.95" stroke="#000" stroke-width="1.3"/>
<line x1="248.00" y1="102.90" x2="248.00" y2="100.90" stroke="#000" stroke-width="1.3"/>
<line x1="255.68" y1="3.95" x2="255.68" y2="5.95" stroke="#000" stroke-width="1.3"/>
<line x1="255.68" y1="102.90" x2="255.68" y2="100.90" stroke="#000" stroke-width="1.3"/>
<line x1="262.33" y1="3.95" x2="262.33" y2="5.95" stroke="#000" stroke-width="1.3"/>
<line x1="262.33" y1="102.90" x2="262.33" y2="100.90" stroke="#000" stroke-width="1.3"/>
<line x1="268.20" y1="3.95" x2="268.20" y2="5.95" stroke="#000" stroke-width="1.3"/>
<line x1="268.20" y1="102.90" x2="268.20" y2="100.90" stroke="#000" stroke-width="1.3"/>
<line x1="273.45" y1="3.95" x2="273.45" y2="7.95" stroke="#000" stroke-width="1.3"/>
<line x1="273.45" y1="102.90" x2="273.45" y2="98.90" stroke="#000" stroke-width="1.3"/>
<line x1="44.05" y1="95.24" x2="48.05" y2="95.24" stroke="#000" stroke-width="1.3"/>
<line x1="44.05" y1="80.03" x2="46.05" y2="80.03" stroke="#000" stroke-width="1.3"/>
<line x1="44.05" y1="64.81" x2="48.05" y2="64.81" stroke="#000" stroke-width="1.3"/>
<line x1="44.05" y1="49.60" x2="46.05" y2="49.60" stroke="#000" stroke-width="1.3"/>
<line x1="44.05" y1="34.38" x2="48.05" y2="34.38" stroke="#000" stroke-width="1.3"/>
<line x1="44.05" y1="19.16" x2="46.05" y2="19.16" stroke="#000" stroke-width="1.3"/>
<rect x="44.05" y="3.95" width="238.45" height="98.95" fill="none" stroke="#000" stroke-width="1.6"/>
<text x="275.60" y="93.20" font-size="19.5" fill="#000" text-anchor="end" font-weight="bold">(a)</text>
<line x1="330.98" y1="3.95" x2="330.98" y2="5.95" stroke="#000" stroke-width="1.3"/>
<line x1="330.98" y1="102.90" x2="330.98" y2="100.90" stroke="#000" stroke-width="1.3"/>
<line x1="351.18" y1="3.95" x2="351.18" y2="5.95" stroke="#000" stroke-width="1.3"/>
<line x1="351.18" y1="102.90" x2="351.18" y2="100.90" stroke="#000" stroke-width="1.3"/>
<line x1="365.51" y1="3.95" x2="365.51" y2="5.95" stroke="#000" stroke-width="1.3"/>
<line x1="365.51" y1="102.90" x2="365.51" y2="100.90" stroke="#000" stroke-width="1.3"/>
<line x1="376.62" y1="3.95" x2="376.62" y2="5.95" stroke="#000" stroke-width="1.3"/>
<line x1="376.62" y1="102.90" x2="376.62" y2="100.90" stroke="#000" stroke-width="1.3"/>
<line x1="385.70" y1="3.95" x2="385.70" y2="5.95" stroke="#000" stroke-width="1.3"/>
<line x1="385.70" y1="102.90" x2="385.70" y2="100.90" stroke="#000" stroke-width="1.3"/>
<line x1="393.38" y1="3.95" x2="393.38" y2="5.95" stroke="#000" stroke-width="1.3"/>
<line x1="393.38" y1="102.90" x2="393.38" y2="100.90" stroke="#000" stroke-width="1.3"/>
<line x1="400.03" y1="3.95" x2="400.03" y2="5.95" stroke="#000" stroke-width="1.3"/>
<line x1="400.03" y1="102.90" x2="400.03" y2="100.90" stroke="#000" stroke-width="1.3"/>
<line x1="405.90" y1="3.95" x2="405.90" y2="5.95" stroke="#000" stroke-width="1.3"/>
<line x1="405.90" y1="102.90" x2="405.90" y2="100.90" stroke="#000" stroke-width="1.3"/>
<line x1="411.15" y1="3.95" x2="411.15" y2="7.95" stroke="#000" stroke-width="1.3"/>
<line x1="411.15" y1="102.90" x2="411.15" y2="98.90" stroke="#000" stroke-width="1.3"/>
<line x1="445.68" y1="3.95" x2="445.68" y2="5.95" stroke="#000" stroke-width="1.3"/>
<line x1="445.68" y1="102.90" x2="445.68" y2="100.90" stroke="#000" stroke-width="1.3"/>
<line x1="465.88" y1="3.95" x2="465.88" y2="5.95" stroke="#000" stroke-width="1.3"/>
<line x1="465.88" y1="102.90" x2="465.88" y2="100.90" stroke="#000" stroke-width="1.3"/>
<line x1="480.21" y1="3.95" x2="480.21" y2="5.95" stroke="#000" stroke-width="1.3"/>
<line x1="480.21" y1="102.90" x2="480.21" y2="100.90" stroke="#000" stroke-width="1.3"/>
<line x1="491.32" y1="3.95" x2="491.32" y2="5.95" stroke="#000" stroke-width="1.3"/>
<line x1="491.32" y1="102.90" x2="491.32" y2="100.90" stroke="#000" stroke-width="1.3"/>
<line x1="500.40" y1="3.95" x2="500.40" y2="5.95" stroke="#000" stroke-width="1.3"/>
<line x1="500.40" y1="102.90" x2="500.40" y2="100.90" stroke="#000" stroke-width="1.3"/>
<line x1="508.08" y1="3.95" x2="508.08" y2="5.95" stroke="#000" stroke-width="1.3"/>
<line x1="508.08" y1="102.90" x2="508.08" y2="100.90" stroke="#000" stroke-width="1.3"/>
<line x1="514.73" y1="3.95" x2="514.73" y2="5.95" stroke="#000" stroke-width="1.3"/>
<line x1="514.73" y1="102.90" x2="514.73" y2="100.90" stroke="#000" stroke-width="1.3"/>
<line x1="520.60" y1="3.95" x2="520.60" y2="5.95" stroke="#000" stroke-width="1.3"/>
<line x1="520.60" y1="102.90" x2="520.60" y2="100.90" stroke="#000" stroke-width="1.3"/>
<line x1="525.85" y1="3.95" x2="525.85" y2="7.95" stroke="#000" stroke-width="1.3"/>
<line x1="525.85" y1="102.90" x2="525.85" y2="98.90" stroke="#000" stroke-width="1.3"/>
<line x1="534.90" y1="95.24" x2="530.90" y2="95.24" stroke="#000" stroke-width="1.3"/>
<line x1="534.90" y1="80.03" x2="532.90" y2="80.03" stroke="#000" stroke-width="1.3"/>
<line x1="534.90" y1="64.81" x2="530.90" y2="64.81" stroke="#000" stroke-width="1.3"/>
<line x1="534.90" y1="49.60" x2="532.90" y2="49.60" stroke="#000" stroke-width="1.3"/>
<line x1="534.90" y1="34.38" x2="530.90" y2="34.38" stroke="#000" stroke-width="1.3"/>
<line x1="534.90" y1="19.16" x2="532.90" y2="19.16" stroke="#000" stroke-width="1.3"/>
<rect x="296.45" y="3.95" width="238.45" height="98.95" fill="none" stroke="#000" stroke-width="1.6"/>
<text x="529.60" y="93.20" font-size="19.5" fill="#000" text-anchor="end" font-weight="bold">(b)</text>
<line x1="78.58" y1="309.25" x2="78.58" y2="311.25" stroke="#000" stroke-width="1.3"/>
<line x1="78.58" y1="408.20" x2="78.58" y2="406.20" stroke="#000" stroke-width="1.3"/>
<line x1="98.78" y1="309.25" x2="98.78" y2="311.25" stroke="#000" stroke-width="1.3"/>
<line x1="98.78" y1="408.20" x2="98.78" y2="406.20" stroke="#000" stroke-width="1.3"/>
<line x1="113.11" y1="309.25" x2="113.11" y2="311.25" stroke="#000" stroke-width="1.3"/>
<line x1="113.11" y1="408.20" x2="113.11" y2="406.20" stroke="#000" stroke-width="1.3"/>
<line x1="124.22" y1="309.25" x2="124.22" y2="311.25" stroke="#000" stroke-width="1.3"/>
<line x1="124.22" y1="408.20" x2="124.22" y2="406.20" stroke="#000" stroke-width="1.3"/>
<line x1="133.30" y1="309.25" x2="133.30" y2="311.25" stroke="#000" stroke-width="1.3"/>
<line x1="133.30" y1="408.20" x2="133.30" y2="406.20" stroke="#000" stroke-width="1.3"/>
<line x1="140.98" y1="309.25" x2="140.98" y2="311.25" stroke="#000" stroke-width="1.3"/>
<line x1="140.98" y1="408.20" x2="140.98" y2="406.20" stroke="#000" stroke-width="1.3"/>
<line x1="147.63" y1="309.25" x2="147.63" y2="311.25" stroke="#000" stroke-width="1.3"/>
<line x1="147.63" y1="408.20" x2="147.63" y2="406.20" stroke="#000" stroke-width="1.3"/>
<line x1="153.50" y1="309.25" x2="153.50" y2="311.25" stroke="#000" stroke-width="1.3"/>
<line x1="153.50" y1="408.20" x2="153.50" y2="406.20" stroke="#000" stroke-width="1.3"/>
<line x1="158.75" y1="309.25" x2="158.75" y2="313.25" stroke="#000" stroke-width="1.3"/>
<line x1="158.75" y1="408.20" x2="158.75" y2="404.20" stroke="#000" stroke-width="1.3"/>
<line x1="193.28" y1="309.25" x2="193.28" y2="311.25" stroke="#000" stroke-width="1.3"/>
<line x1="193.28" y1="408.20" x2="193.28" y2="406.20" stroke="#000" stroke-width="1.3"/>
<line x1="213.48" y1="309.25" x2="213.48" y2="311.25" stroke="#000" stroke-width="1.3"/>
<line x1="213.48" y1="408.20" x2="213.48" y2="406.20" stroke="#000" stroke-width="1.3"/>
<line x1="227.81" y1="309.25" x2="227.81" y2="311.25" stroke="#000" stroke-width="1.3"/>
<line x1="227.81" y1="408.20" x2="227.81" y2="406.20" stroke="#000" stroke-width="1.3"/>
<line x1="238.92" y1="309.25" x2="238.92" y2="311.25" stroke="#000" stroke-width="1.3"/>
<line x1="238.92" y1="408.20" x2="238.92" y2="406.20" stroke="#000" stroke-width="1.3"/>
<line x1="248.00" y1="309.25" x2="248.00" y2="311.25" stroke="#000" stroke-width="1.3"/>
<line x1="248.00" y1="408.20" x2="248.00" y2="406.20" stroke="#000" stroke-width="1.3"/>
<line x1="255.68" y1="309.25" x2="255.68" y2="311.25" stroke="#000" stroke-width="1.3"/>
<line x1="255.68" y1="408.20" x2="255.68" y2="406.20" stroke="#000" stroke-width="1.3"/>
<line x1="262.33" y1="309.25" x2="262.33" y2="311.25" stroke="#000" stroke-width="1.3"/>
<line x1="262.33" y1="408.20" x2="262.33" y2="406.20" stroke="#000" stroke-width="1.3"/>
<line x1="268.20" y1="309.25" x2="268.20" y2="311.25" stroke="#000" stroke-width="1.3"/>
<line x1="268.20" y1="408.20" x2="268.20" y2="406.20" stroke="#000" stroke-width="1.3"/>
<line x1="273.45" y1="309.25" x2="273.45" y2="313.25" stroke="#000" stroke-width="1.3"/>
<line x1="273.45" y1="408.20" x2="273.45" y2="404.20" stroke="#000" stroke-width="1.3"/>
<line x1="44.05" y1="400.54" x2="48.05" y2="400.54" stroke="#000" stroke-width="1.3"/>
<line x1="44.05" y1="385.32" x2="46.05" y2="385.32" stroke="#000" stroke-width="1.3"/>
<line x1="44.05" y1="370.11" x2="48.05" y2="370.11" stroke="#000" stroke-width="1.3"/>
<line x1="44.05" y1="354.89" x2="46.05" y2="354.89" stroke="#000" stroke-width="1.3"/>
<line x1="44.05" y1="339.68" x2="48.05" y2="339.68" stroke="#000" stroke-width="1.3"/>
<line x1="44.05" y1="324.46" x2="46.05" y2="324.46" stroke="#000" stroke-width="1.3"/>
<rect x="44.05" y="309.25" width="238.45" height="98.95" fill="none" stroke="#000" stroke-width="1.6"/>
<text x="275.60" y="400.30" font-size="19.5" fill="#000" text-anchor="end" font-weight="bold">(c)</text>
<line x1="330.98" y1="309.25" x2="330.98" y2="311.25" stroke="#000" stroke-width="1.3"/>
<line x1="330.98" y1="408.20" x2="330.98" y2="406.20" stroke="#000" stroke-width="1.3"/>
<line x1="351.18" y1="309.25" x2="351.18" y2="311.25" stroke="#000" stroke-width="1.3"/>
<line x1="351.18" y1="408.20" x2="351.18" y2="406.20" stroke="#000" stroke-width="1.3"/>
<line x1="365.51" y1="309.25" x2="365.51" y2="311.25" stroke="#000" stroke-width="1.3"/>
<line x1="365.51" y1="408.20" x2="365.51" y2="406.20" stroke="#000" stroke-width="1.3"/>
<line x1="376.62" y1="309.25" x2="376.62" y2="311.25" stroke="#000" stroke-width="1.3"/>
<line x1="376.62" y1="408.20" x2="376.62" y2="406.20" stroke="#000" stroke-width="1.3"/>
<line x1="385.70" y1="309.25" x2="385.70" y2="311.25" stroke="#000" stroke-width="1.3"/>
<line x1="385.70" y1="408.20" x2="385.70" y2="406.20" stroke="#000" stroke-width="1.3"/>
<line x1="393.38" y1="309.25" x2="393.38" y2="311.25" stroke="#000" stroke-width="1.3"/>
<line x1="393.38" y1="408.20" x2="393.38" y2="406.20" stroke="#000" stroke-width="1.3"/>
<line x1="400.03" y1="309.25" x2="400.03" y2="311.25" stroke="#000" stroke-width="1.3"/>
<line x1="400.03" y1="408.20" x2="400.03" y2="406.20" stroke="#000" stroke-width="1.3"/>
<line x1="405.90" y1="309.25" x2="405.90" y2="311.25" stroke="#000" stroke-width="1.3"/>
<line x1="405.90" y1="408.20" x2="405.90" y2="406.20" stroke="#000" stroke-width="1.3"/>
<line x1="411.15" y1="309.25" x2="411.15" y2="313.25" stroke="#000" stroke-width="1.3"/>
<line x1="411.15" y1="408.20" x2="411.15" y2="404.20" stroke="#000" stroke-width="1.3"/>
<line x1="445.68" y1="309.25" x2="445.68" y2="311.25" stroke="#000" stroke-width="1.3"/>
<line x1="445.68" y1="408.20" x2="445.68" y2="406.20" stroke="#000" stroke-width="1.3"/>
<line x1="465.88" y1="309.25" x2="465.88" y2="311.25" stroke="#000" stroke-width="1.3"/>
<line x1="465.88" y1="408.20" x2="465.88" y2="406.20" stroke="#000" stroke-width="1.3"/>
<line x1="480.21" y1="309.25" x2="480.21" y2="311.25" stroke="#000" stroke-width="1.3"/>
<line x1="480.21" y1="408.20" x2="480.21" y2="406.20" stroke="#000" stroke-width="1.3"/>
<line x1="491.32" y1="309.25" x2="491.32" y2="311.25" stroke="#000" stroke-width="1.3"/>
<line x1="491.32" y1="408.20" x2="491.32" y2="406.20" stroke="#000" stroke-width="1.3"/>
<line x1="500.40" y1="309.25" x2="500.40" y2="311.25" stroke="#000" stroke-width="1.3"/>
<line x1="500.40" y1="408.20" x2="500.40" y2="406.20" stroke="#000" stroke-width="1.3"/>
<line x1="508.08" y1="309.25" x2="508.08" y2="311.25" stroke="#000" stroke-width="1.3"/>
<line x1="508.08" y1="408.20" x2="508.08" y2="406.20" stroke="#000" stroke-width="1.3"/>
<line x1="514.73" y1="309.25" x2="514.73" y2="311.25" stroke="#000" stroke-width="1.3"/>
<line x1="514.73" y1="408.20" x2="514.73" y2="406.20" stroke="#000" stroke-width="1.3"/>
<line x1="520.60" y1="309.25" x2="520.60" y2="311.25" stroke="#000" stroke-width="1.3"/>
<line x1="520.60" y1="408.20" x2="520.60" y2="406.20" stroke="#000" stroke-width="1.3"/>
<line x1="525.85" y1="309.25" x2="525.85" y2="313.25" stroke="#000" stroke-width="1.3"/>
<line x1="525.85" y1="408.20" x2="525.85" y2="404.20" stroke="#000" stroke-width="1.3"/>
<line x1="534.90" y1="400.54" x2="530.40" y2="400.54" stroke="#000" stroke-width="1.3"/>
<line x1="534.90" y1="394.45" x2="532.50" y2="394.45" stroke="#000" stroke-width="1.3"/>
<line x1="534.90" y1="388.37" x2="532.50" y2="388.37" stroke="#000" stroke-width="1.3"/>
<line x1="534.90" y1="382.28" x2="532.50" y2="382.28" stroke="#000" stroke-width="1.3"/>
<line x1="534.90" y1="376.20" x2="532.50" y2="376.20" stroke="#000" stroke-width="1.3"/>
<line x1="534.90" y1="370.11" x2="530.40" y2="370.11" stroke="#000" stroke-width="1.3"/>
<line x1="534.90" y1="364.02" x2="532.50" y2="364.02" stroke="#000" stroke-width="1.3"/>
<line x1="534.90" y1="357.94" x2="532.50" y2="357.94" stroke="#000" stroke-width="1.3"/>
<line x1="534.90" y1="351.85" x2="532.50" y2="351.85" stroke="#000" stroke-width="1.3"/>
<line x1="534.90" y1="345.77" x2="532.50" y2="345.77" stroke="#000" stroke-width="1.3"/>
<line x1="534.90" y1="339.68" x2="530.40" y2="339.68" stroke="#000" stroke-width="1.3"/>
<line x1="534.90" y1="333.59" x2="532.50" y2="333.59" stroke="#000" stroke-width="1.3"/>
<line x1="534.90" y1="327.51" x2="532.50" y2="327.51" stroke="#000" stroke-width="1.3"/>
<line x1="534.90" y1="321.42" x2="532.50" y2="321.42" stroke="#000" stroke-width="1.3"/>
<line x1="534.90" y1="315.34" x2="532.50" y2="315.34" stroke="#000" stroke-width="1.3"/>
<rect x="296.45" y="309.25" width="238.45" height="98.95" fill="none" stroke="#000" stroke-width="1.6"/>
<text x="529.60" y="400.30" font-size="19.5" fill="#000" text-anchor="end" font-weight="bold">(d)</text>
<line x1="44.85" y1="149.10" x2="281.70" y2="149.10" stroke="#f00" stroke-width="1.3" stroke-dasharray="1.3 2.2" stroke-dashoffset="-0.4"/>
<line x1="44.85" y1="233.70" x2="281.70" y2="233.70" stroke="#00f" stroke-width="1.3" stroke-dasharray="1.3 2.2" stroke-dashoffset="-0.4"/>
<line x1="78.58" y1="106.80" x2="78.58" y2="108.80" stroke="#000" stroke-width="1.3"/>
<line x1="78.58" y1="265.25" x2="78.58" y2="263.25" stroke="#000" stroke-width="1.3"/>
<line x1="98.78" y1="106.80" x2="98.78" y2="108.80" stroke="#000" stroke-width="1.3"/>
<line x1="98.78" y1="265.25" x2="98.78" y2="263.25" stroke="#000" stroke-width="1.3"/>
<line x1="113.11" y1="106.80" x2="113.11" y2="108.80" stroke="#000" stroke-width="1.3"/>
<line x1="113.11" y1="265.25" x2="113.11" y2="263.25" stroke="#000" stroke-width="1.3"/>
<line x1="124.22" y1="106.80" x2="124.22" y2="108.80" stroke="#000" stroke-width="1.3"/>
<line x1="124.22" y1="265.25" x2="124.22" y2="263.25" stroke="#000" stroke-width="1.3"/>
<line x1="133.30" y1="106.80" x2="133.30" y2="108.80" stroke="#000" stroke-width="1.3"/>
<line x1="133.30" y1="265.25" x2="133.30" y2="263.25" stroke="#000" stroke-width="1.3"/>
<line x1="140.98" y1="106.80" x2="140.98" y2="108.80" stroke="#000" stroke-width="1.3"/>
<line x1="140.98" y1="265.25" x2="140.98" y2="263.25" stroke="#000" stroke-width="1.3"/>
<line x1="147.63" y1="106.80" x2="147.63" y2="108.80" stroke="#000" stroke-width="1.3"/>
<line x1="147.63" y1="265.25" x2="147.63" y2="263.25" stroke="#000" stroke-width="1.3"/>
<line x1="153.50" y1="106.80" x2="153.50" y2="108.80" stroke="#000" stroke-width="1.3"/>
<line x1="153.50" y1="265.25" x2="153.50" y2="263.25" stroke="#000" stroke-width="1.3"/>
<line x1="158.75" y1="106.80" x2="158.75" y2="110.80" stroke="#000" stroke-width="1.3"/>
<line x1="158.75" y1="265.25" x2="158.75" y2="261.25" stroke="#000" stroke-width="1.3"/>
<line x1="193.28" y1="106.80" x2="193.28" y2="108.80" stroke="#000" stroke-width="1.3"/>
<line x1="193.28" y1="265.25" x2="193.28" y2="263.25" stroke="#000" stroke-width="1.3"/>
<line x1="213.48" y1="106.80" x2="213.48" y2="108.80" stroke="#000" stroke-width="1.3"/>
<line x1="213.48" y1="265.25" x2="213.48" y2="263.25" stroke="#000" stroke-width="1.3"/>
<line x1="227.81" y1="106.80" x2="227.81" y2="108.80" stroke="#000" stroke-width="1.3"/>
<line x1="227.81" y1="265.25" x2="227.81" y2="263.25" stroke="#000" stroke-width="1.3"/>
<line x1="238.92" y1="106.80" x2="238.92" y2="108.80" stroke="#000" stroke-width="1.3"/>
<line x1="238.92" y1="265.25" x2="238.92" y2="263.25" stroke="#000" stroke-width="1.3"/>
<line x1="248.00" y1="106.80" x2="248.00" y2="108.80" stroke="#000" stroke-width="1.3"/>
<line x1="248.00" y1="265.25" x2="248.00" y2="263.25" stroke="#000" stroke-width="1.3"/>
<line x1="255.68" y1="106.80" x2="255.68" y2="108.80" stroke="#000" stroke-width="1.3"/>
<line x1="255.68" y1="265.25" x2="255.68" y2="263.25" stroke="#000" stroke-width="1.3"/>
<line x1="262.33" y1="106.80" x2="262.33" y2="108.80" stroke="#000" stroke-width="1.3"/>
<line x1="262.33" y1="265.25" x2="262.33" y2="263.25" stroke="#000" stroke-width="1.3"/>
<line x1="268.20" y1="106.80" x2="268.20" y2="108.80" stroke="#000" stroke-width="1.3"/>
<line x1="268.20" y1="265.25" x2="268.20" y2="263.25" stroke="#000" stroke-width="1.3"/>
<line x1="273.45" y1="106.80" x2="273.45" y2="110.80" stroke="#000" stroke-width="1.3"/>
<line x1="273.45" y1="265.25" x2="273.45" y2="261.25" stroke="#000" stroke-width="1.3"/>
<line x1="44.05" y1="238.84" x2="46.05" y2="238.84" stroke="#000" stroke-width="1.3"/>
<line x1="44.05" y1="212.43" x2="48.05" y2="212.43" stroke="#000" stroke-width="1.3"/>
<line x1="44.05" y1="186.02" x2="46.05" y2="186.02" stroke="#000" stroke-width="1.3"/>
<line x1="44.05" y1="159.62" x2="48.05" y2="159.62" stroke="#000" stroke-width="1.3"/>
<line x1="44.05" y1="133.21" x2="46.05" y2="133.21" stroke="#000" stroke-width="1.3"/>
<rect x="44.05" y="106.80" width="238.45" height="158.45" fill="none" stroke="#000" stroke-width="1.6"/>
<text x="173.00" y="131.70" font-size="13.7" fill="#000" text-anchor="start">non-annealed</text>
<text x="44.05" y="284.25" font-size="13.7" text-anchor="middle">10<tspan font-size="8.8" dy="-4.2">-1</tspan></text>
<text x="158.75" y="284.25" font-size="13.7" text-anchor="middle">10<tspan font-size="8.8" dy="-4.2">0</tspan></text>
<text x="273.45" y="284.25" font-size="13.7" text-anchor="middle">10<tspan font-size="8.8" dy="-4.2">1</tspan></text>
<text x="162.77" y="302.15" font-size="13.7" fill="#000" text-anchor="middle">Frequency (THz)</text>
<line x1="297.25" y1="149.10" x2="534.10" y2="149.10" stroke="#f00" stroke-width="1.3" stroke-dasharray="1.3 2.2" stroke-dashoffset="-0.4"/>
<line x1="297.25" y1="233.70" x2="534.10" y2="233.70" stroke="#00f" stroke-width="1.3" stroke-dasharray="1.3 2.2" stroke-dashoffset="-0.4"/>
<line x1="330.98" y1="106.80" x2="330.98" y2="108.80" stroke="#000" stroke-width="1.3"/>
<line x1="330.98" y1="265.25" x2="330.98" y2="263.25" stroke="#000" stroke-width="1.3"/>
<line x1="351.18" y1="106.80" x2="351.18" y2="108.80" stroke="#000" stroke-width="1.3"/>
<line x1="351.18" y1="265.25" x2="351.18" y2="263.25" stroke="#000" stroke-width="1.3"/>
<line x1="365.51" y1="106.80" x2="365.51" y2="108.80" stroke="#000" stroke-width="1.3"/>
<line x1="365.51" y1="265.25" x2="365.51" y2="263.25" stroke="#000" stroke-width="1.3"/>
<line x1="376.62" y1="106.80" x2="376.62" y2="108.80" stroke="#000" stroke-width="1.3"/>
<line x1="376.62" y1="265.25" x2="376.62" y2="263.25" stroke="#000" stroke-width="1.3"/>
<line x1="385.70" y1="106.80" x2="385.70" y2="108.80" stroke="#000" stroke-width="1.3"/>
<line x1="385.70" y1="265.25" x2="385.70" y2="263.25" stroke="#000" stroke-width="1.3"/>
<line x1="393.38" y1="106.80" x2="393.38" y2="108.80" stroke="#000" stroke-width="1.3"/>
<line x1="393.38" y1="265.25" x2="393.38" y2="263.25" stroke="#000" stroke-width="1.3"/>
<line x1="400.03" y1="106.80" x2="400.03" y2="108.80" stroke="#000" stroke-width="1.3"/>
<line x1="400.03" y1="265.25" x2="400.03" y2="263.25" stroke="#000" stroke-width="1.3"/>
<line x1="405.90" y1="106.80" x2="405.90" y2="108.80" stroke="#000" stroke-width="1.3"/>
<line x1="405.90" y1="265.25" x2="405.90" y2="263.25" stroke="#000" stroke-width="1.3"/>
<line x1="411.15" y1="106.80" x2="411.15" y2="110.80" stroke="#000" stroke-width="1.3"/>
<line x1="411.15" y1="265.25" x2="411.15" y2="261.25" stroke="#000" stroke-width="1.3"/>
<line x1="445.68" y1="106.80" x2="445.68" y2="108.80" stroke="#000" stroke-width="1.3"/>
<line x1="445.68" y1="265.25" x2="445.68" y2="263.25" stroke="#000" stroke-width="1.3"/>
<line x1="465.88" y1="106.80" x2="465.88" y2="108.80" stroke="#000" stroke-width="1.3"/>
<line x1="465.88" y1="265.25" x2="465.88" y2="263.25" stroke="#000" stroke-width="1.3"/>
<line x1="480.21" y1="106.80" x2="480.21" y2="108.80" stroke="#000" stroke-width="1.3"/>
<line x1="480.21" y1="265.25" x2="480.21" y2="263.25" stroke="#000" stroke-width="1.3"/>
<line x1="491.32" y1="106.80" x2="491.32" y2="108.80" stroke="#000" stroke-width="1.3"/>
<line x1="491.32" y1="265.25" x2="491.32" y2="263.25" stroke="#000" stroke-width="1.3"/>
<line x1="500.40" y1="106.80" x2="500.40" y2="108.80" stroke="#000" stroke-width="1.3"/>
<line x1="500.40" y1="265.25" x2="500.40" y2="263.25" stroke="#000" stroke-width="1.3"/>
<line x1="508.08" y1="106.80" x2="508.08" y2="108.80" stroke="#000" stroke-width="1.3"/>
<line x1="508.08" y1="265.25" x2="508.08" y2="263.25" stroke="#000" stroke-width="1.3"/>
<line x1="514.73" y1="106.80" x2="514.73" y2="108.80" stroke="#000" stroke-width="1.3"/>
<line x1="514.73" y1="265.25" x2="514.73" y2="263.25" stroke="#000" stroke-width="1.3"/>
<line x1="520.60" y1="106.80" x2="520.60" y2="108.80" stroke="#000" stroke-width="1.3"/>
<line x1="520.60" y1="265.25" x2="520.60" y2="263.25" stroke="#000" stroke-width="1.3"/>
<line x1="525.85" y1="106.80" x2="525.85" y2="110.80" stroke="#000" stroke-width="1.3"/>
<line x1="525.85" y1="265.25" x2="525.85" y2="261.25" stroke="#000" stroke-width="1.3"/>
<rect x="296.45" y="106.80" width="238.45" height="158.45" fill="none" stroke="#000" stroke-width="1.6"/>
<text x="466.00" y="127.00" font-size="13.7" fill="#000" text-anchor="start">400°C</text>
<text x="296.45" y="284.25" font-size="13.7" text-anchor="middle">10<tspan font-size="8.8" dy="-4.2">-1</tspan></text>
<text x="411.15" y="284.25" font-size="13.7" text-anchor="middle">10<tspan font-size="8.8" dy="-4.2">0</tspan></text>
<text x="525.85" y="284.25" font-size="13.7" text-anchor="middle">10<tspan font-size="8.8" dy="-4.2">1</tspan></text>
<text x="415.17" y="302.15" font-size="13.7" fill="#000" text-anchor="middle">Frequency (THz)</text>
<line x1="44.85" y1="454.40" x2="281.70" y2="454.40" stroke="#f00" stroke-width="1.3" stroke-dasharray="1.3 2.2" stroke-dashoffset="-0.4"/>
<line x1="44.85" y1="539.00" x2="281.70" y2="539.00" stroke="#00f" stroke-width="1.3" stroke-dasharray="1.3 2.2" stroke-dashoffset="-0.4"/>
<line x1="78.58" y1="412.10" x2="78.58" y2="414.10" stroke="#000" stroke-width="1.3"/>
<line x1="78.58" y1="570.55" x2="78.58" y2="568.55" stroke="#000" stroke-width="1.3"/>
<line x1="98.78" y1="412.10" x2="98.78" y2="414.10" stroke="#000" stroke-width="1.3"/>
<line x1="98.78" y1="570.55" x2="98.78" y2="568.55" stroke="#000" stroke-width="1.3"/>
<line x1="113.11" y1="412.10" x2="113.11" y2="414.10" stroke="#000" stroke-width="1.3"/>
<line x1="113.11" y1="570.55" x2="113.11" y2="568.55" stroke="#000" stroke-width="1.3"/>
<line x1="124.22" y1="412.10" x2="124.22" y2="414.10" stroke="#000" stroke-width="1.3"/>
<line x1="124.22" y1="570.55" x2="124.22" y2="568.55" stroke="#000" stroke-width="1.3"/>
<line x1="133.30" y1="412.10" x2="133.30" y2="414.10" stroke="#000" stroke-width="1.3"/>
<line x1="133.30" y1="570.55" x2="133.30" y2="568.55" stroke="#000" stroke-width="1.3"/>
<line x1="140.98" y1="412.10" x2="140.98" y2="414.10" stroke="#000" stroke-width="1.3"/>
<line x1="140.98" y1="570.55" x2="140.98" y2="568.55" stroke="#000" stroke-width="1.3"/>
<line x1="147.63" y1="412.10" x2="147.63" y2="414.10" stroke="#000" stroke-width="1.3"/>
<line x1="147.63" y1="570.55" x2="147.63" y2="568.55" stroke="#000" stroke-width="1.3"/>
<line x1="153.50" y1="412.10" x2="153.50" y2="414.10" stroke="#000" stroke-width="1.3"/>
<line x1="153.50" y1="570.55" x2="153.50" y2="568.55" stroke="#000" stroke-width="1.3"/>
<line x1="158.75" y1="412.10" x2="158.75" y2="416.10" stroke="#000" stroke-width="1.3"/>
<line x1="158.75" y1="570.55" x2="158.75" y2="566.55" stroke="#000" stroke-width="1.3"/>
<line x1="193.28" y1="412.10" x2="193.28" y2="414.10" stroke="#000" stroke-width="1.3"/>
<line x1="193.28" y1="570.55" x2="193.28" y2="568.55" stroke="#000" stroke-width="1.3"/>
<line x1="213.48" y1="412.10" x2="213.48" y2="414.10" stroke="#000" stroke-width="1.3"/>
<line x1="213.48" y1="570.55" x2="213.48" y2="568.55" stroke="#000" stroke-width="1.3"/>
<line x1="227.81" y1="412.10" x2="227.81" y2="414.10" stroke="#000" stroke-width="1.3"/>
<line x1="227.81" y1="570.55" x2="227.81" y2="568.55" stroke="#000" stroke-width="1.3"/>
<line x1="238.92" y1="412.10" x2="238.92" y2="414.10" stroke="#000" stroke-width="1.3"/>
<line x1="238.92" y1="570.55" x2="238.92" y2="568.55" stroke="#000" stroke-width="1.3"/>
<line x1="248.00" y1="412.10" x2="248.00" y2="414.10" stroke="#000" stroke-width="1.3"/>
<line x1="248.00" y1="570.55" x2="248.00" y2="568.55" stroke="#000" stroke-width="1.3"/>
<line x1="255.68" y1="412.10" x2="255.68" y2="414.10" stroke="#000" stroke-width="1.3"/>
<line x1="255.68" y1="570.55" x2="255.68" y2="568.55" stroke="#000" stroke-width="1.3"/>
<line x1="262.33" y1="412.10" x2="262.33" y2="414.10" stroke="#000" stroke-width="1.3"/>
<line x1="262.33" y1="570.55" x2="262.33" y2="568.55" stroke="#000" stroke-width="1.3"/>
<line x1="268.20" y1="412.10" x2="268.20" y2="414.10" stroke="#000" stroke-width="1.3"/>
<line x1="268.20" y1="570.55" x2="268.20" y2="568.55" stroke="#000" stroke-width="1.3"/>
<line x1="273.45" y1="412.10" x2="273.45" y2="416.10" stroke="#000" stroke-width="1.3"/>
<line x1="273.45" y1="570.55" x2="273.45" y2="566.55" stroke="#000" stroke-width="1.3"/>
<line x1="44.05" y1="544.14" x2="46.05" y2="544.14" stroke="#000" stroke-width="1.3"/>
<line x1="44.05" y1="517.73" x2="48.05" y2="517.73" stroke="#000" stroke-width="1.3"/>
<line x1="44.05" y1="491.33" x2="46.05" y2="491.33" stroke="#000" stroke-width="1.3"/>
<line x1="44.05" y1="464.92" x2="48.05" y2="464.92" stroke="#000" stroke-width="1.3"/>
<line x1="44.05" y1="438.51" x2="46.05" y2="438.51" stroke="#000" stroke-width="1.3"/>
<rect x="44.05" y="412.10" width="238.45" height="158.45" fill="none" stroke="#000" stroke-width="1.6"/>
<text x="213.00" y="433.70" font-size="13.7" fill="#000" text-anchor="start">750°C</text>
<text x="44.05" y="589.55" font-size="13.7" text-anchor="middle">10<tspan font-size="8.8" dy="-4.2">-1</tspan></text>
<text x="158.75" y="589.55" font-size="13.7" text-anchor="middle">10<tspan font-size="8.8" dy="-4.2">0</tspan></text>
<text x="273.45" y="589.55" font-size="13.7" text-anchor="middle">10<tspan font-size="8.8" dy="-4.2">1</tspan></text>
<text x="162.77" y="607.45" font-size="13.7" fill="#000" text-anchor="middle">Frequency (THz)</text>
<line x1="297.25" y1="454.40" x2="534.10" y2="454.40" stroke="#f00" stroke-width="1.3" stroke-dasharray="1.3 2.2" stroke-dashoffset="-0.4"/>
<line x1="297.25" y1="539.00" x2="534.10" y2="539.00" stroke="#00f" stroke-width="1.3" stroke-dasharray="1.3 2.2" stroke-dashoffset="-0.4"/>
<line x1="330.98" y1="412.10" x2="330.98" y2="414.10" stroke="#000" stroke-width="1.3"/>
<line x1="330.98" y1="570.55" x2="330.98" y2="568.55" stroke="#000" stroke-width="1.3"/>
<line x1="351.18" y1="412.10" x2="351.18" y2="414.10" stroke="#000" stroke-width="1.3"/>
<line x1="351.18" y1="570.55" x2="351.18" y2="568.55" stroke="#000" stroke-width="1.3"/>
<line x1="365.51" y1="412.10" x2="365.51" y2="414.10" stroke="#000" stroke-width="1.3"/>
<line x1="365.51" y1="570.55" x2="365.51" y2="568.55" stroke="#000" stroke-width="1.3"/>
<line x1="376.62" y1="412.10" x2="376.62" y2="414.10" stroke="#000" stroke-width="1.3"/>
<line x1="376.62" y1="570.55" x2="376.62" y2="568.55" stroke="#000" stroke-width="1.3"/>
<line x1="385.70" y1="412.10" x2="385.70" y2="414.10" stroke="#000" stroke-width="1.3"/>
<line x1="385.70" y1="570.55" x2="385.70" y2="568.55" stroke="#000" stroke-width="1.3"/>
<line x1="393.38" y1="412.10" x2="393.38" y2="414.10" stroke="#000" stroke-width="1.3"/>
<line x1="393.38" y1="570.55" x2="393.38" y2="568.55" stroke="#000" stroke-width="1.3"/>
<line x1="400.03" y1="412.10" x2="400.03" y2="414.10" stroke="#000" stroke-width="1.3"/>
<line x1="400.03" y1="570.55" x2="400.03" y2="568.55" stroke="#000" stroke-width="1.3"/>
<line x1="405.90" y1="412.10" x2="405.90" y2="414.10" stroke="#000" stroke-width="1.3"/>
<line x1="405.90" y1="570.55" x2="405.90" y2="568.55" stroke="#000" stroke-width="1.3"/>
<line x1="411.15" y1="412.10" x2="411.15" y2="416.10" stroke="#000" stroke-width="1.3"/>
<line x1="411.15" y1="570.55" x2="411.15" y2="566.55" stroke="#000" stroke-width="1.3"/>
<line x1="445.68" y1="412.10" x2="445.68" y2="414.10" stroke="#000" stroke-width="1.3"/>
<line x1="445.68" y1="570.55" x2="445.68" y2="568.55" stroke="#000" stroke-width="1.3"/>
<line x1="465.88" y1="412.10" x2="465.88" y2="414.10" stroke="#000" stroke-width="1.3"/>
<line x1="465.88" y1="570.55" x2="465.88" y2="568.55" stroke="#000" stroke-width="1.3"/>
<line x1="480.21" y1="412.10" x2="480.21" y2="414.10" stroke="#000" stroke-width="1.3"/>
<line x1="480.21" y1="570.55" x2="480.21" y2="568.55" stroke="#000" stroke-width="1.3"/>
<line x1="491.32" y1="412.10" x2="491.32" y2="414.10" stroke="#000" stroke-width="1.3"/>
<line x1="491.32" y1="570.55" x2="491.32" y2="568.55" stroke="#000" stroke-width="1.3"/>
<line x1="500.40" y1="412.10" x2="500.40" y2="414.10" stroke="#000" stroke-width="1.3"/>
<line x1="500.40" y1="570.55" x2="500.40" y2="568.55" stroke="#000" stroke-width="1.3"/>
<line x1="508.08" y1="412.10" x2="508.08" y2="414.10" stroke="#000" stroke-width="1.3"/>
<line x1="508.08" y1="570.55" x2="508.08" y2="568.55" stroke="#000" stroke-width="1.3"/>
<line x1="514.73" y1="412.10" x2="514.73" y2="414.10" stroke="#000" stroke-width="1.3"/>
<line x1="514.73" y1="570.55" x2="514.73" y2="568.55" stroke="#000" stroke-width="1.3"/>
<line x1="520.60" y1="412.10" x2="520.60" y2="414.10" stroke="#000" stroke-width="1.3"/>
<line x1="520.60" y1="570.55" x2="520.60" y2="568.55" stroke="#000" stroke-width="1.3"/>
<line x1="525.85" y1="412.10" x2="525.85" y2="416.10" stroke="#000" stroke-width="1.3"/>
<line x1="525.85" y1="570.55" x2="525.85" y2="566.55" stroke="#000" stroke-width="1.3"/>
<rect x="296.45" y="412.10" width="238.45" height="158.45" fill="none" stroke="#000" stroke-width="1.6"/>
<text x="469.20" y="433.50" font-size="13.7" fill="#000" text-anchor="start">1300°C</text>
<text x="296.45" y="589.55" font-size="13.7" text-anchor="middle">10<tspan font-size="8.8" dy="-4.2">-1</tspan></text>
<text x="411.15" y="589.55" font-size="13.7" text-anchor="middle">10<tspan font-size="8.8" dy="-4.2">0</tspan></text>
<text x="525.85" y="589.55" font-size="13.7" text-anchor="middle">10<tspan font-size="8.8" dy="-4.2">1</tspan></text>
<text x="415.17" y="607.45" font-size="13.7" fill="#000" text-anchor="middle">Frequency (THz)</text>
<polyline fill="none" stroke="#0d0" stroke-width="1.8" stroke-linejoin="round" stroke-linecap="round" clip-path="url(#clipa)" points="63.0,105.5 69.7,103.2 75.6,99.9 82.0,95.4 88.5,91.5 93.7,89.9 97.6,89.2 102.8,87.9 109.3,86.1 117.1,84.0 122.3,81.8 127.4,79.2 132.6,76.6 136.0,76.1 142.6,71.9 149.1,67.5 155.7,64.3 162.2,60.1 168.8,55.7 172.0,53.2 172.6,51.4 173.2,53.2 175.3,51.4 181.9,47.2 182.2,46.7 182.8,44.9 183.4,46.7 188.5,43.3 195.0,40.0 199.2,39.5 199.8,37.7 200.0,39.5 200.4,39.5 202.7,36.8 205.4,35.1 206.8,33.8 210.2,28.3 212.0,32.7 213.2,26.5 217.4,34.3 221.8,29.7 227.2,26.5 234.0,22.1 240.8,19.1 247.7,15.7 251.7,14.7 257.2,10.9 261.3,9.8 268.0,6.1 270.8,6.8 273.5,6.8 276.2,5.4 281.7,4.8"/>
<polyline fill="none" stroke="#00f" stroke-width="1.8" stroke-linejoin="round" stroke-linecap="round" points="63.2,81.1 67.8,77.9 73.0,74.9 78.2,72.7 83.3,70.5 88.5,68.4 93.7,67.9 97.6,67.1 102.8,64.8 109.3,62.2 114.5,60.7 118.4,59.6 123.6,56.6 130.0,53.4 136.0,51.9 142.6,48.3 149.1,43.9 155.7,40.0 162.2,36.1 168.8,32.5 170.9,30.9 171.5,32.7 172.1,30.9 175.3,28.6 181.9,24.9 182.4,24.4 183.0,26.2 183.6,24.4 188.5,21.6 195.0,18.4 198.4,17.8 199.0,19.6 199.6,17.8 200.0,17.7 202.7,17.0 205.4,16.1 206.8,15.0 209.5,12.5 210.9,12.0 212.3,13.6 213.2,11.6 215.0,13.6 217.4,15.9 220.4,14.0 227.2,11.6 234.0,9.3 240.8,7.8 247.7,6.5 254.5,5.4 261.3,4.8 268.0,4.5 275.0,4.2 282.0,4.1"/>
<polyline fill="none" stroke="#f00" stroke-width="1.8" stroke-linejoin="round" stroke-linecap="round" points="62.9,42.8 66.5,40.2 71.7,37.6 76.9,36.1 82.0,33.5 88.5,30.1 93.7,29.2 97.6,28.8 102.8,27.0 109.3,24.9 115.8,23.1 122.3,21.0 128.7,19.2 136.0,17.8 142.6,15.5 149.1,13.1 155.7,11.1 162.2,9.4 168.8,8.1 175.3,6.8 181.9,5.9 188.5,5.2 195.0,4.6 201.6,4.3 215.0,4.1 282.0,4.0"/>
<polyline fill="none" stroke="#0d0" stroke-width="1.8" stroke-linejoin="round" stroke-linecap="round" points="315.1,83.6 323.2,75.8 331.0,70.0 340.7,66.1 346.6,63.8 356.3,61.3 364.1,58.3 369.9,54.8 375.7,50.2 381.6,46.3 387.4,42.8 393.2,38.9 399.1,34.6 406.9,30.7 413.0,26.8 418.2,24.5 426.3,20.4 433.9,17.3 434.0,17.5 434.5,19.1 435.1,17.3 442.7,13.9 450.8,10.6 456.0,8.6 459.0,10.6 463.1,9.2 469.2,6.1 479.4,6.7 487.6,5.1 495.8,4.1 504.0,4.0"/>
<polyline fill="none" stroke="#00f" stroke-width="1.8" stroke-linejoin="round" stroke-linecap="round" points="315.1,52.1 321.3,48.2 329.1,45.1 340.7,43.8 346.6,40.8 354.3,36.6 364.1,33.5 369.9,31.1 375.7,27.2 383.5,23.7 391.3,19.4 399.1,16.5 406.9,13.6 416.0,11.1 420.2,9.8 430.4,7.8 440.6,5.7 450.8,4.5 463.0,4.0 504.0,4.0"/>
<polyline fill="none" stroke="#f00" stroke-width="1.8" stroke-linejoin="round" stroke-linecap="round" points="315.1,21.0 325.2,17.1 336.8,14.2 344.6,13.2 354.3,11.3 364.1,9.3 373.8,7.8 383.5,6.4 393.2,5.4 403.0,4.9 416.0,4.3 440.0,4.0 504.0,4.0"/>
<polyline fill="none" stroke="#0d0" stroke-width="1.8" stroke-linejoin="round" stroke-linecap="round" points="63.1,341.9 69.3,337.7 77.1,333.2 84.8,329.9 92.6,328.7 100.4,327.4 108.2,324.8 116.0,321.5 125.7,319.0 135.4,317.1 145.1,315.1 154.9,313.8 164.0,312.8 200.0,310.8 254.5,310.0"/>
<polyline fill="none" stroke="#00f" stroke-width="1.8" stroke-linejoin="round" stroke-linecap="round" points="63.1,331.6 73.2,326.8 82.9,322.9 94.6,319.2 106.2,317.1 121.8,314.7 141.2,312.8 164.0,311.8 200.0,310.5 254.5,310.0"/>
<polyline fill="none" stroke="#f00" stroke-width="1.8" stroke-linejoin="round" stroke-linecap="round" points="63.1,328.3 73.2,324.1 82.9,320.6 94.6,317.6 106.2,315.7 121.8,313.8 141.2,312.4 164.0,311.4 200.0,310.3 254.5,310.0"/>
<polyline fill="none" stroke="#00f" stroke-width="1.8" stroke-linejoin="round" stroke-linecap="round" points="340.2,368.4 344.6,364.7 349.9,360.6 356.7,358.6 368.9,352.5 378.6,349.4 388.4,346.0 398.1,340.4 407.8,336.7 417.5,333.1 427.3,329.5 437.0,326.3 444.3,324.6 451.6,322.2 454.0,322.6 458.9,318.5 461.3,319.7 463.2,317.3 464.2,318.8 465.0,316.8 465.7,319.7"/>
<polyline fill="none" stroke="#f00" stroke-width="1.8" stroke-linejoin="round" stroke-linecap="round" stroke-dasharray="6 4" points="340.2,368.4 344.6,364.7 349.9,360.6 356.7,358.6 368.9,352.5 378.6,349.4 388.4,346.0 398.1,340.4 407.8,336.7 417.5,333.1 427.3,329.5 437.0,326.3 444.3,324.6 451.6,322.2 454.0,322.6 458.9,318.5 461.3,319.7 463.2,317.3 464.2,318.8 465.0,316.8 465.7,319.7"/>
<text x="39.80" y="101.14" font-size="13.7" fill="#000" text-anchor="end">40</text>
<text x="39.80" y="70.71" font-size="13.7" fill="#000" text-anchor="end">60</text>
<text x="39.80" y="40.28" font-size="13.7" fill="#000" text-anchor="end">80</text>
<text x="39.80" y="9.85" font-size="13.7" fill="#000" text-anchor="end">100</text>
<g transform="translate(10.60,53.95) rotate(-90)"><text x="-16.17" y="0" font-size="13.7" font-style="italic">A</text><text x="-4.37" y="0" font-size="13.7">(%)</text></g>
<text x="39.50" y="271.15" font-size="13.7" fill="#000" text-anchor="end">0.5</text>
<text x="39.50" y="218.33" font-size="13.7" fill="#000" text-anchor="end">1</text>
<text x="39.50" y="165.52" font-size="13.7" fill="#000" text-anchor="end">1.5</text>
<text transform="translate(13.2,185.52) rotate(-90)" font-size="13.7" text-anchor="middle">Thickness (mm)</text>
<defs><linearGradient id="cb3" x1="0" y1="0" x2="0" y2="1"><stop offset="0.0000" stop-color="#fff"/><stop offset="0.0200" stop-color="#fff5f5"/><stop offset="0.0400" stop-color="#ffebeb"/><stop offset="0.0600" stop-color="#ffdfdf"/><stop offset="0.0800" stop-color="#ffd3d3"/><stop offset="0.1000" stop-color="#ffc4c4"/><stop offset="0.1200" stop-color="#ffb4b4"/><stop offset="0.1400" stop-color="#ffa1a1"/><stop offset="0.1500" stop-color="#ff9595"/><stop offset="0.1600" stop-color="#f88"/><stop offset="0.1700" stop-color="#ff7878"/><stop offset="0.1800" stop-color="#ff6363"/><stop offset="0.1850" stop-color="#ff5454"/><stop offset="0.1900" stop-color="#ff3f3f"/><stop offset="0.1950" stop-color="#f00"/><stop offset="0.1975" stop-color="#f00"/><stop offset="0.2000" stop-color="#f00"/><stop offset="0.2001" stop-color="#ff0100"/><stop offset="0.2050" stop-color="#ff2a00"/><stop offset="0.2100" stop-color="#ff4600"/><stop offset="0.2200" stop-color="#ff5000"/><stop offset="0.2400" stop-color="#ff6300"/><stop offset="0.2600" stop-color="#ff7600"/><stop offset="0.2800" stop-color="#ff8a00"/><stop offset="0.3000" stop-color="#ff9e00"/><stop offset="0.3200" stop-color="#ffb100"/><stop offset="0.3400" stop-color="#ffc400"/><stop offset="0.3600" stop-color="#ffd800"/><stop offset="0.3800" stop-color="#ffec00"/><stop offset="0.4000" stop-color="#ff0"/><stop offset="0.4001" stop-color="#ff0"/><stop offset="0.4200" stop-color="#fcff00"/><stop offset="0.4400" stop-color="#f5ff00"/><stop offset="0.4600" stop-color="#e8ff00"/><stop offset="0.4800" stop-color="#d6ff00"/><stop offset="0.5000" stop-color="#bfff00"/><stop offset="0.5200" stop-color="#a3ff00"/><stop offset="0.5400" stop-color="#82ff00"/><stop offset="0.5600" stop-color="#5cff00"/><stop offset="0.5800" stop-color="#30ff00"/><stop offset="0.6000" stop-color="#0f0"/><stop offset="0.6001" stop-color="#00e16e"/><stop offset="0.7000" stop-color="#00b9b9"/><stop offset="0.8000" stop-color="#0064ff"/><stop offset="0.8001" stop-color="#00f"/><stop offset="0.9000" stop-color="#000096"/><stop offset="1.0000" stop-color="#00002d"/></linearGradient></defs>
<rect x="554.20" y="107.10" width="16.30" height="158.65" fill="url(#cb3)"/>
<line x1="562.00" y1="234.02" x2="570.50" y2="234.02" stroke="#000" stroke-width="1.5"/>
<line x1="562.00" y1="202.29" x2="570.50" y2="202.29" stroke="#000" stroke-width="1.5"/>
<line x1="562.00" y1="170.56" x2="570.50" y2="170.56" stroke="#000" stroke-width="1.5"/>
<line x1="562.00" y1="138.83" x2="570.50" y2="138.83" stroke="#000" stroke-width="1.5"/>
<rect x="554.20" y="107.10" width="16.30" height="158.65" fill="none" stroke="#000" stroke-width="1.3"/>
<text x="576.50" y="270.35" font-size="13.7" fill="#000" text-anchor="start">0</text>
<text x="576.50" y="238.62" font-size="13.7" fill="#000" text-anchor="start">20</text>
<text x="576.50" y="206.89" font-size="13.7" fill="#000" text-anchor="start">40</text>
<text x="576.50" y="175.16" font-size="13.7" fill="#000" text-anchor="start">60</text>
<text x="576.50" y="143.43" font-size="13.7" fill="#000" text-anchor="start">80</text>
<text x="576.50" y="111.70" font-size="13.7" fill="#000" text-anchor="start">100</text>
<g transform="translate(614.00,186.42) rotate(-90)"><text x="-16.17" y="0" font-size="13.7" font-style="italic">A</text><text x="-4.37" y="0" font-size="13.7">(%)</text></g>
<text x="39.80" y="406.44" font-size="13.7" fill="#000" text-anchor="end">40</text>
<text x="39.80" y="376.01" font-size="13.7" fill="#000" text-anchor="end">60</text>
<text x="39.80" y="345.58" font-size="13.7" fill="#000" text-anchor="end">80</text>
<text x="39.80" y="315.15" font-size="13.7" fill="#000" text-anchor="end">100</text>
<g transform="translate(10.60,359.25) rotate(-90)"><text x="-16.17" y="0" font-size="13.7" font-style="italic">A</text><text x="-4.37" y="0" font-size="13.7">(%)</text></g>
<text x="39.50" y="576.45" font-size="13.7" fill="#000" text-anchor="end">0.5</text>
<text x="39.50" y="523.63" font-size="13.7" fill="#000" text-anchor="end">1</text>
<text x="39.50" y="470.82" font-size="13.7" fill="#000" text-anchor="end">1.5</text>
<text transform="translate(13.2,490.83) rotate(-90)" font-size="13.7" text-anchor="middle">Thickness (mm)</text>
<defs><linearGradient id="cb309" x1="0" y1="0" x2="0" y2="1"><stop offset="0.0000" stop-color="#fff"/><stop offset="0.0200" stop-color="#fff5f5"/><stop offset="0.0400" stop-color="#ffebeb"/><stop offset="0.0600" stop-color="#ffdfdf"/><stop offset="0.0800" stop-color="#ffd3d3"/><stop offset="0.1000" stop-color="#ffc4c4"/><stop offset="0.1200" stop-color="#ffb4b4"/><stop offset="0.1400" stop-color="#ffa1a1"/><stop offset="0.1500" stop-color="#ff9595"/><stop offset="0.1600" stop-color="#f88"/><stop offset="0.1700" stop-color="#ff7878"/><stop offset="0.1800" stop-color="#ff6363"/><stop offset="0.1850" stop-color="#ff5454"/><stop offset="0.1900" stop-color="#ff3f3f"/><stop offset="0.1950" stop-color="#f00"/><stop offset="0.1975" stop-color="#f00"/><stop offset="0.2000" stop-color="#f00"/><stop offset="0.2001" stop-color="#ff0100"/><stop offset="0.2050" stop-color="#ff2a00"/><stop offset="0.2100" stop-color="#ff4600"/><stop offset="0.2200" stop-color="#ff5000"/><stop offset="0.2400" stop-color="#ff6300"/><stop offset="0.2600" stop-color="#ff7600"/><stop offset="0.2800" stop-color="#ff8a00"/><stop offset="0.3000" stop-color="#ff9e00"/><stop offset="0.3200" stop-color="#ffb100"/><stop offset="0.3400" stop-color="#ffc400"/><stop offset="0.3600" stop-color="#ffd800"/><stop offset="0.3800" stop-color="#ffec00"/><stop offset="0.4000" stop-color="#ff0"/><stop offset="0.4001" stop-color="#ff0"/><stop offset="0.4200" stop-color="#fcff00"/><stop offset="0.4400" stop-color="#f5ff00"/><stop offset="0.4600" stop-color="#e8ff00"/><stop offset="0.4800" stop-color="#d6ff00"/><stop offset="0.5000" stop-color="#bfff00"/><stop offset="0.5200" stop-color="#a3ff00"/><stop offset="0.5400" stop-color="#82ff00"/><stop offset="0.5600" stop-color="#5cff00"/><stop offset="0.5800" stop-color="#30ff00"/><stop offset="0.6000" stop-color="#0f0"/><stop offset="0.6001" stop-color="#00e16e"/><stop offset="0.7000" stop-color="#00b9b9"/><stop offset="0.8000" stop-color="#0064ff"/><stop offset="0.8001" stop-color="#00f"/><stop offset="0.9000" stop-color="#000096"/><stop offset="1.0000" stop-color="#00002d"/></linearGradient></defs>
<rect x="554.20" y="412.40" width="16.30" height="158.65" fill="url(#cb309)"/>
<line x1="562.00" y1="539.32" x2="570.50" y2="539.32" stroke="#000" stroke-width="1.5"/>
<line x1="562.00" y1="507.59" x2="570.50" y2="507.59" stroke="#000" stroke-width="1.5"/>
<line x1="562.00" y1="475.86" x2="570.50" y2="475.86" stroke="#000" stroke-width="1.5"/>
<line x1="562.00" y1="444.13" x2="570.50" y2="444.13" stroke="#000" stroke-width="1.5"/>
<rect x="554.20" y="412.40" width="16.30" height="158.65" fill="none" stroke="#000" stroke-width="1.3"/>
<text x="576.50" y="575.65" font-size="13.7" fill="#000" text-anchor="start">0</text>
<text x="576.50" y="543.92" font-size="13.7" fill="#000" text-anchor="start">20</text>
<text x="576.50" y="512.19" font-size="13.7" fill="#000" text-anchor="start">40</text>
<text x="576.50" y="480.46" font-size="13.7" fill="#000" text-anchor="start">60</text>
<text x="576.50" y="448.73" font-size="13.7" fill="#000" text-anchor="start">80</text>
<text x="576.50" y="417.00" font-size="13.7" fill="#000" text-anchor="start">100</text>
<g transform="translate(614.00,491.73) rotate(-90)"><text x="-16.17" y="0" font-size="13.7" font-style="italic">A</text><text x="-4.37" y="0" font-size="13.7">(%)</text></g>
<text x="58.50" y="23.60" font-size="14" fill="#f00" text-anchor="start">1.6 mm</text>
<text x="83.00" y="50.50" font-size="14" fill="#00f" text-anchor="start">0.8 mm</text>
<text x="161.00" y="75.50" font-size="14" fill="#0d0" text-anchor="start">0.5 mm</text>
<line x1="533.40" y1="417.20" x2="533.40" y2="423.80" stroke="#555" stroke-width="0.9"/>
</svg>
</body></html>
